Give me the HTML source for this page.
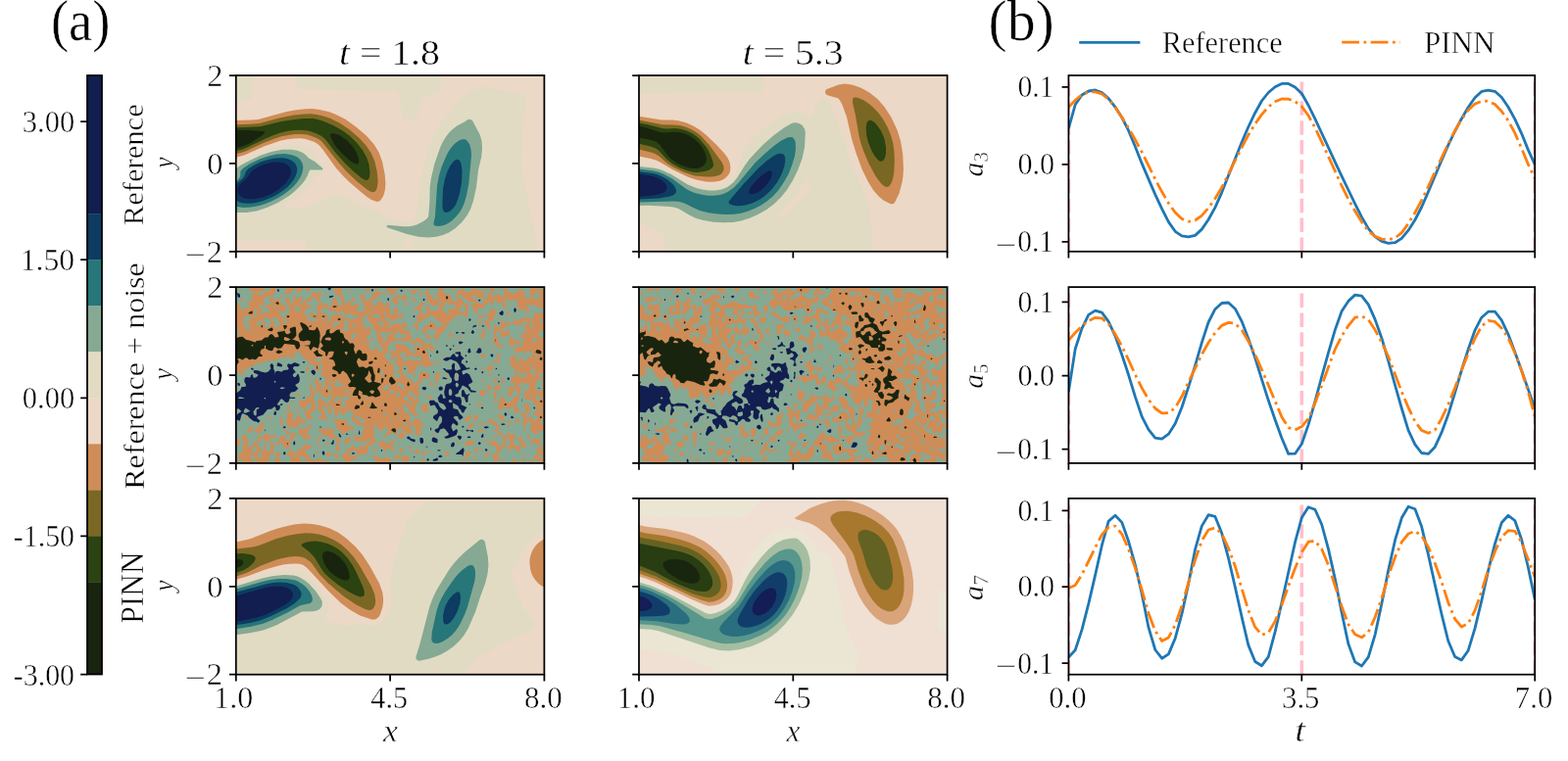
<!DOCTYPE html>
<html><head><meta charset="utf-8"><title>figure</title><style>html,body{margin:0;padding:0;background:#fff;}body{width:1600px;height:777px;overflow:hidden;}</style></head><body>
<svg width="1600" height="777" viewBox="0 0 1600 777" style="display:block;font-family:'Liberation Serif',serif">
<style>text{stroke:#fff;stroke-width:0.45px;paint-order:normal}</style>
<rect width="1600" height="777" fill="#fff"/>
<clipPath id="c00"><rect x="240.8" y="77" width="314.6" height="179.8"/></clipPath>
<g clip-path="url(#c00)">
<rect x="240.8" y="77" width="314.6" height="179.8" fill="#19240f"/>
<path fill="#2b4211" fill-rule="evenodd" d="M240.8 256.8L555.4 256.8L555.4 77L240.8 77L240.8 132.9L251.3 132.8L262.5 133.4L268.5 134L270.2 134.7L270.2 135.4L267.1 138.4L255.5 145.9L247.5 149.6L240.8 151.3ZM362.1 167.1L358.4 164.9L353.9 161.3L344.7 151.9L341.9 148.2L338.9 142.9L337.3 139.2L337.1 137.7L337.4 136.9L338.9 136.2L341.2 136.3L347.2 138.6L353.5 142.9L359.1 148.8L363.7 155.7L365 158.7L366.1 162.4L366.2 165.4L365.6 166.9L364.4 167.6Z"/>
<path fill="#7a6723" fill-rule="evenodd" d="M240.8 256.8L555.4 256.8L555.4 77L240.8 77L240.8 130.2L265.5 129.3L287.2 124.1L298.5 122.2L310.5 120.9L319.5 121.1L324.1 122L329.2 123.4L339.9 127.9L349.4 133.2L356.5 138.4L363.5 145.2L369.6 152.7L373.9 160.2L376.4 167.6L377.5 175.9L377.1 180.4L376.4 182.4L375.5 183.4L374.1 183.9L372.6 183.7L368.9 181.8L360.7 175.1L351.7 166.3L341.6 154.9L333.7 144.3L330.7 140.9L327.7 138.8L323.2 136.4L317.2 134.3L312.7 133.3L306.7 132.7L300 132.9L294 133.7L286.5 135.5L279 138.1L270 141.9L250.5 151.3L246 152.9L240.8 154Z"/>
<path fill="#cf8c57" fill-rule="evenodd" d="M240.8 256.8L555.4 256.8L555.4 77L240.8 77L240.8 127.2L258 126.6L264.8 125.9L282 121.2L291 119.2L300 117.5L310.5 116.4L317.2 116.3L323.2 117L329.9 118.5L336.7 120.8L346.4 125.5L356.2 131.9L366.4 140.7L373.9 148.9L378.8 156.4L382.3 164.7L384.6 174.4L385.7 184.9L384.8 191.6L383.9 194L382.8 195.4L381.6 196L380.1 196.2L377.9 195.5L374.9 193.8L363.9 184.9L353 174.4L344.9 165.2L328.4 144.5L325.4 142.3L322.4 140.7L318 138.9L313.5 137.6L308.2 137L300.7 137.1L294 137.9L287.2 139.3L279.8 141.7L269.3 145.8L250.5 154.4L246 155.9L240.8 157Z"/>
<path fill="#ecd8c7" fill-rule="evenodd" d="M240.8 256.8L555.4 256.8L555.4 149.8L554.9 144.4L555.4 139L555.4 77L240.8 77L240.8 123L256.5 122.5L263.3 121.9L292.5 114L300.7 112.4L311.2 111.2L318.7 111.1L326.2 112L335.2 114L341.9 116.4L352.4 121.8L362.9 129.2L374.1 138.8L381.7 147.4L386.7 155.7L390 164.7L392.6 177.4L393.4 187.1L393.1 192.4L392.1 197.6L390.9 200.6L388.3 204.4L386.9 205.5L384.6 206L378.6 203.7L374.1 200.7L368.9 196.5L356.9 186.3L350 179.6L342.9 171.4L329.2 152.5L325.4 148.1L322.6 145.9L319.7 144.4L312 141.9L306.7 141.3L299.2 141.4L292.7 142.2L285.8 143.7L270.5 148.9L249.8 158.2L240.8 160.7Z"/>
<path fill="#e2dbc3" fill-rule="evenodd" d="M312.4 256.8L415.3 256.8L412.9 247.8L413 245.6L413.8 245.2L417.6 246.2L419.1 247.8L419.8 250.8L419.5 256.8L549.5 256.8L549 253.1L538.2 201L532.6 169.9L532.5 157.9L533.1 150.4L533.2 136.2L536.8 101.7L536.5 99.5L535.9 98.3L534.4 97L531.4 95.9L496.2 88.5L492.5 88.1L490.2 88.4L487.2 89.8L470 99.8L466.3 102.7L456.5 117.3L445.7 131.7L442.7 136.9L440.2 142.2L437.5 150.4L428.5 185.6L424.5 219.3L423.6 221.9L422.1 224L419.9 225.3L417.6 226L410.1 226.6L405.6 226L359.9 204.8L347.9 199.4L344.9 198.5L342.7 198.6L340.4 199.3L309.1 212.6L306 212.9L298.5 212.8L294 212.5L291 211.8L290.3 211.1L291.3 209.6L303.7 201L313.3 192.4L319 185.6L323.4 178.1L329.9 176.4L331.9 174.4L332.3 172.9L331.8 170.6L323.4 160.9L319.5 155L316.5 152.5L311.2 149.9L304.5 148.5L297 148.1L290.2 148.6L282 150.2L268.5 154.5L240.8 167.3L240.8 244.4L255 244.4L263.3 245.1L282 245.2L289.5 245.9L309 246L311.2 246.9L312.1 248.6ZM413.7 122L421.3 122.2L423.6 121.8L424.7 121.2L425.8 119.9L426.5 118.2L429.4 104L430.6 101L433.3 99.3L445.3 96.1L447.5 94.5L448.5 92.7L449.2 89.7L450.8 77L301.9 77L303 88.2L304.5 90.5L306.7 91.3L334.4 91.6L342.7 92.3L368.9 92.4L376.4 93L401.8 93.1L404.8 93.6L406.3 95L407 97.2L410.6 119L411.6 120.7ZM240.8 103.2L240.8 103.5L244.5 103.5L253.5 102.6L255 102.2L256.5 101L257.5 98L258.9 77L240.8 77Z"/>
<path fill="#86a994" fill-rule="evenodd" d="M427.1 241.8L436.3 242.4L445.3 241.7L452 240.1L458 237.5L464.8 233.1L471.4 226.8L476.6 220.1L480.2 213.3L483 205.1L486 191.6L488.1 173.6L491.2 160.2L492.1 151.2L491.5 143.7L489.8 137.7L482.3 123.4L480.5 122L479 121.7L477.5 122L473.8 124.5L466.3 128.6L461.2 132.4L457.6 136.2L454.8 139.9L451.6 145.2L449.5 149.7L443.3 167.6L439.8 182.6L438.7 191.6L438.4 205.1L437.5 217.8L437.1 220.8L436.5 222.3L434.1 224.6L430.6 226.8L425.1 229.4L420.6 230.8L416.8 231.3L411.6 231.3L395.9 229.8L394.6 230.6L394.8 232.1L396.5 232.8L415.3 239.1ZM242.1 217.1L252 217L262.5 215.2L272.3 212L283.5 207L295 199.9L300 196L304.7 191.6L308.1 187.9L311.5 183.4L314 178.9L315.7 174.4L316.5 173.6L328.4 173.4L329.3 172.9L329.2 171.8L320.9 164.7L315 161.5L312 158.2L309 156L303.7 153.8L297.6 152.7L288 152.7L276.6 154.9L265.7 158.7L253.1 164.7L245.1 169.1L240.8 172.2L240.8 217Z"/>
<path fill="#277679" fill-rule="evenodd" d="M443.8 230.6L447.5 231.1L452 230.3L456.5 228.4L461 225.4L465.1 221.6L468.8 217.1L471.5 212.6L473.8 207.3L475.9 199.9L478.3 187.9L481 158.7L480.6 152.7L479.2 147.4L476.8 143.7L474.5 142.2L471.5 142.2L468.5 143.4L464.8 146L461.8 149L458.8 153L455.9 157.9L450.8 169.9L447.9 179.6L446 190.1L444 220.8L442.4 228.3L442.7 229.8ZM248 211.9L253.5 211.8L259.5 211.1L265.5 209.7L271.5 207.8L277.5 205.3L283.5 202.3L289.5 198.6L294.8 194.6L298.9 190.9L302.9 186.4L306 181.9L308.1 177.4L309.1 173.6L309.3 169.9L308.3 166.2L306.5 163.2L304.5 161.3L302.2 159.8L297 157.9L290.2 157.1L282 157.6L273.8 159.4L264.8 162.6L255 167.3L247.8 172.1L245.4 175.1L245.2 179.6L244.7 181.1L242.9 183.4L240.8 185L240.8 210.7Z"/>
<path fill="#0d3b61" fill-rule="evenodd" d="M453.3 216.3L455 216.9L457.3 216.5L459.5 215.2L461.8 213.2L464 210.4L465.7 207.4L468.6 199.1L471.1 186.4L471.5 175.1L471 169.9L470.2 166.2L468.9 163.9L467 162.8L465.5 163L463.3 164.3L459.5 169L456.5 174.9L453.8 183.4L452 193.1L451.4 209.6L451.9 214.1ZM248.5 207.4L252.8 207.7L258 207.4L263.3 206.5L268.5 205.1L279 200.8L284.2 197.8L288.9 194.6L293.4 190.9L296.9 187.1L299.7 183.4L301.7 179.6L302.9 175.9L303.2 172.9L302.7 169.9L301.2 166.9L297.8 163.9L293.2 162.1L288 161.3L281.2 161.5L274.5 162.7L267 165.1L259.5 168.6L253.8 172.1L251.1 175.1L249.3 179.6L247.8 181.9L240.8 187.9L240.8 204.6L244.5 206.4Z"/>
<path fill="#111e4f" fill-rule="evenodd" d="M251.2 202.9L255 203.3L258.8 203.3L267.8 201.6L276.8 198L284.8 193.1L291.4 187.1L295.5 181.1L296.6 178.1L297 175.1L296.6 172.9L295.5 170.4L293.2 168.2L289.5 166.4L285 165.6L280.5 165.6L275.3 166.3L269.3 168L264 170.2L259.3 172.9L256.5 175.3L251.7 181.9L244.6 188.6L243 190.9L242.4 192.4L242.5 196.1L244.2 199.1L247 201.4Z"/>
</g>
<clipPath id="c01"><rect x="652" y="77" width="314.6" height="179.8"/></clipPath>
<g clip-path="url(#c01)">
<rect x="652" y="77" width="314.6" height="179.8" fill="#19240f"/>
<path fill="#2b4211" fill-rule="evenodd" d="M652 256.8L966.6 256.8L966.6 77L652 77L652 128.6L658.8 130.2L673.7 135L678.2 135.4L687.2 134.8L691.7 134.9L696.9 135.8L702.2 137.8L709.1 142.2L715 148.2L717.5 151.9L719.4 155.7L720.6 159.4L720.9 162.4L720.5 165.4L719.3 167.6L716.9 169.9L714.2 171.2L711.2 171.9L707.4 172L703.7 171.5L699.2 170.3L691.3 166.9L685 162.4L680.7 157.9L673.7 148.3L670 144.9L664.7 142.9L652 140.4Z"/>
<path fill="#7a6723" fill-rule="evenodd" d="M652 256.8L966.6 256.8L966.6 77L652 77L652 125.4L660.2 127L676 131.1L679.7 131.4L688.7 131.1L694.7 131.8L700.7 133.5L705.9 136.1L710.4 139.1L714.1 142.2L720.4 149.7L722.8 153.4L724.9 157.9L727.4 164.7L728.1 168.4L727.4 170.6L726 172.1L723.2 173.7L718.7 175.1L711.2 176L706.7 175.4L702.2 174.4L693.9 171.4L685.8 166.9L680.3 162.4L672.2 153.7L669.2 151.5L664 149.6L652 146.8ZM899.2 164.7L897.7 164.4L896.2 163.4L892.4 159.1L888.7 152.3L885.7 144.4L884.2 137.7L883.7 130.2L884.4 125.7L885.2 124.2L886.5 123L888 122.8L890.2 123.5L892.4 125.1L894.7 127.4L899.2 133.9L902.4 141.4L904 149.7L903.9 157.2L903.2 160.2L902.2 162.7L900.7 164.3Z"/>
<path fill="#cf8c57" fill-rule="evenodd" d="M652 256.8L966.6 256.8L966.6 77L652 77L652 122.4L676 127.3L688 127.4L693.9 128.1L700.7 130L707.4 133.2L711.9 136.1L715.7 139.2L723.3 147.4L736.5 165.4L738.2 169.1L738.6 172.1L737.9 175.1L736.1 177.4L733.6 178.9L730.6 179.8L726.9 180.4L720.9 180.5L708.9 179.4L697.7 175.8L687.2 170.8L681.1 166.9L672.2 159.3L668.5 157L664 155.4L652 152.6ZM904.4 190.9L902.2 190L899.2 187.5L893.9 180.6L886.8 167.6L881.2 154.2L878.4 145.9L876.7 139.2L872.8 116.7L870 104.7L870 101L871.5 99.6L873.7 99.5L876 100L881.2 102.2L887.2 106.2L892.4 110.9L897 116L901.7 122.7L905.8 130.2L908.9 137.7L911.2 145.9L912.4 154.2L912.8 163.2L912.4 174.4L911.4 181.1L909.7 186.6L907.4 189.9L905.9 190.8Z"/>
<path fill="#ecd8c7" fill-rule="evenodd" d="M652 256.8L966.6 256.8L966.6 77L652 77L652 118.7L675.2 122.5L686.5 122.6L692.4 123.2L700.7 125.5L708.2 128.9L714.2 132.7L720.2 137.6L730.7 147.4L738.9 156.2L741.9 160.2L743.9 163.9L745 167.6L745.4 171.4L745 175.1L743.7 178.1L741.1 181.1L738.1 183.3L734.4 184.7L729.9 185.5L725.4 185.7L720.2 185.4L710.4 183.6L702.2 180.7L686.5 173.2L673 165.2L669.2 163.4L664 162L652 159.6ZM908.9 208.3L901.4 204.4L896.7 200.6L891 193.9L885.8 185.6L879.7 172.9L873.7 156.8L869.4 142.9L864 119.6L859.5 107L857.1 102.5L855.1 100.2L845.3 97.5L843 96.4L842.1 95L842 93.5L842.7 92L843.8 91.1L855.7 86.5L861.7 85.5L869.2 86.5L878.2 89.5L887.2 94.4L895.4 101L902.6 109.2L909.4 119.7L915.4 132.4L919 143.7L921.2 157.2L921.9 172.9L921.5 179.6L920.7 185.6L917.5 197.6L912.7 207.2L911.2 208.3Z"/>
<path fill="#e2dbc3" fill-rule="evenodd" d="M678.2 256.8L890.6 256.8L888.6 226.1L887.5 215.6L885.4 205.1L871.2 173.6L866.8 160.9L855.2 124.2L849.3 109.2L846.8 104.7L844.2 102.5L840.8 100.2L839.3 99.6L837.8 99.7L835.2 101.7L831.1 107.7L830.1 110.7L829.2 117.5L828 119.7L826.5 119.4L821.3 116.1L816.8 114.4L812.3 113.8L807.1 114.2L801.1 116.4L789.1 123.7L781.6 128.9L771.1 138.2L765.9 143.8L761.7 148.9L758.9 153.4L757.1 157.2L752.3 172.9L749.4 179.6L747.1 182.7L744.1 185.6L740.9 187.9L737.4 189.4L731.4 190.7L725.4 191L719.4 190.5L711.2 188.7L703.2 185.6L684.2 175.4L673.7 170.5L666.2 168.6L652 167L652 227.2L655.7 228.4L674.8 238.1L676.9 239.6L677.7 241.1L678.1 243.3ZM795.1 220.2L794.5 219.3L795 218.6L804.2 209.6L811 201.4L816.6 193.1L822.8 182.4L824.3 181L825 182.6L825.8 190.1L825.5 192.4L824.3 194.8L804.8 217.9L803.3 218.9L801.1 219.7L798.1 220.2ZM652 95.7L682.7 95.8L692.4 95L728.4 95L738.1 94.3L774.8 94.2L776.3 93.8L777.8 92.9L779.1 90.5L779.4 77L652 77Z"/>
<path fill="#86a994" fill-rule="evenodd" d="M728.5 226.8L738.1 227.3L747.9 226.9L756.1 225.5L764.4 223L773.3 219.1L782.3 213.9L789.8 208.3L796.3 202.1L802.9 193.9L809.1 184.1L814.2 173.6L818.6 161.7L821 150.4L821.8 135.4L821.1 131.7L818.6 127.9L816.6 126.4L813.8 125.4L810.8 125.2L808.2 125.7L800.3 130.3L789.1 138.4L777.8 148.5L765.1 162L760.6 168L752.5 181.1L748.6 185.9L742.6 190.8L739.6 192.3L735.9 193.5L729.9 194.4L723.9 194.5L717.9 193.8L711.2 192.2L706.7 190.6L701.4 188.2L684.8 178.1L676 174L671.5 172.6L666.2 171.5L652 169.9L652 210.1L661.7 209.8L675.1 210.4L683.5 210.9L688.7 211.7L692.8 213.3L703.7 219.7L710.4 222.9L717.9 225.1Z"/>
<path fill="#277679" fill-rule="evenodd" d="M732.4 218.6L741.1 219.1L748.6 218.8L756.1 217.7L762.9 215.8L770.3 212.8L777.1 209.2L783.2 205.1L789.1 199.9L794.5 193.9L800.2 185.6L804.7 177.4L808 169.1L810.7 160.2L811.9 152.7L811.8 145.9L811.2 143.7L810 141.4L808.6 140.3L807.1 139.9L803.3 140.6L797.3 143.6L790.6 148.2L780.8 156.4L770.3 166.6L753.7 186.4L748.6 191.7L742.6 196.1L738.1 197.9L734.4 198.9L728.4 199.7L722.4 199.7L716.4 198.8L708.9 197L705.2 195.6L700.7 193.2L685.2 181.9L676.8 177.4L672.2 175.7L667 174.5L652 172.6L652 206.6L686.5 205.6L692.4 205.8L698.4 207.6L710.1 213.3L714.9 215.2L723.2 217.2Z"/>
<path fill="#0d3b61" fill-rule="evenodd" d="M747.6 209.6L752.4 210.2L756.9 210.1L761.4 209.3L766.6 207.7L771.1 205.8L776.3 202.9L780.8 199.7L784.9 196.1L789 191.6L792.8 186.4L796 181.1L798.6 175.1L800.3 169.9L801.2 164.7L801.1 160.9L800.3 158.7L799.6 157.8L798.1 157L795.8 156.8L792.8 157.6L789.8 159L782.3 164.2L773.3 172.2L759.5 187.1L744.1 205.1L743.5 206.6L744.1 208.1ZM652 203.6L672.2 202.5L682.7 200.8L686.5 199.5L688.7 198.1L690 196.1L690 193.9L688.2 190.1L684.9 186.4L681.2 183.4L676.1 180.4L671.5 178.5L666.2 177.1L652 175.2Z"/>
<path fill="#111e4f" fill-rule="evenodd" d="M652 200.6L652 201L667.7 199.3L675.2 197.6L678.1 196.1L680.1 193.9L680.6 191.6L680 189.4L678.6 187.1L676.3 184.9L673 182.7L670 181.3L662.5 179.2L652 177.8ZM764.8 197.6L767.4 198.2L771.8 196.9L776.3 194.3L780.1 191.1L783.8 186.7L786.6 181.9L787.9 177.4L787.2 175.1L786.1 174.5L784.6 174.6L781.6 175.9L777.8 178.6L774.1 182L768.2 188.6L765.1 192.8L764.1 196.1Z"/>
</g>
<clipPath id="c10"><rect x="240.8" y="293.1" width="314.6" height="179.8"/></clipPath>
<g clip-path="url(#c10)">
<rect x="240.8" y="293.1" width="314.6" height="179.8" fill="#19240f"/>
<path fill="#cf8c57" fill-rule="evenodd" d="M240.8 472.9L270.6 472.9L270.8 472.5L270.8 472.9L555.4 472.9L555.4 293.1L314.3 293.1L313.5 293.6L313.2 293.1L240.8 293.1L240.8 345.3L244.5 344.1L247.5 343.8L251.2 347L254.3 347.5L260.3 349.5L261.8 348L267 347.5L270 344.8L273.8 344.3L274.5 342.5L276.8 341L278.4 341.8L280.5 344.6L283.5 344.2L284.5 343.3L282.8 339.5L284.2 338.8L288.7 338.3L290.2 337.4L291.7 340.7L294 341.2L296.7 339.5L295.5 336.6L296.1 335.1L300.7 333.5L301.5 333.9L302 335.1L302.4 342.5L300.1 345.5L298 346.3L305.2 349L306.3 353L305.2 355.4L303.7 356.8L302 356L301.1 353L300 351.9L290.2 351L287.2 355.2L283.5 355.9L280.5 354.3L279.3 355.3L278.3 357.8L276.8 358.3L274.5 357.8L271.1 356L271.2 353L270.8 352.7L269.9 353L269.9 355.3L269.3 356L267 356.4L265.8 358.3L265.4 359.8L265.8 361.3L267.8 362.8L267.8 363.5L267 364.1L264 364.1L261 367.3L257.3 366.4L254.3 367.4L252.5 365.8L250.5 365.3L247.5 367.4L244.5 366L241.9 366.5L243 367.6L243.8 369.5L240.8 374.1ZM282.7 360.6L281.3 359.8L283.5 357.4L284.2 357.2L287.2 358.2L288.6 359.8L284.2 361.2ZM293.2 453.7L292.5 452.7L294 452.4L294 453.6ZM317.2 357.8L316 356.8L315 353.6L309.9 353L316 352.3L316.8 350L316.5 347.9L313.5 347.6L309.7 348.6L306.1 347.8L304.6 343.3L304.7 341.8L305.2 340.2L308.9 336.6L306.5 331.3L306.3 329.8L306.7 329.2L307.5 329.1L312 331.5L314.6 334.3L315.1 336.6L316.5 337.1L320.4 337.3L321.8 336.6L323.2 333.9L323.9 334.1L326.2 339.1L326.7 342.5L326.2 346.3L326.6 349.3L325.7 351.5L325.1 355.3L323.9 355.7L320.9 354.2L319.5 354.2ZM323.2 376.6L323.2 373.2L323.9 373.6L324.2 376.3L323.9 376.7ZM333.7 401L332.6 399.5L333.7 397.6L334.2 399.5ZM339.7 384.6L338.6 383L339.7 381.9L341.9 381.9L343.8 383L341.9 384.7L340.4 385ZM348.7 433.4L348.7 432.4L350.2 431.9L351.1 433.2L350.2 433.9ZM362.9 418L361.6 416.7L362.9 414.2L363.6 413.6L366.6 413.9L367 416L366.6 416.8ZM367.4 413.3L369.6 409.5L370.4 409.5L370.8 410L370.8 413L369.6 413.6ZM375.6 426.7L375 426.5L376.4 425.6L379.4 426.5ZM389.1 419.8L389.9 418L390.4 419.7L389.9 420.2ZM392.9 415.1L391.9 413L392.7 411.5L393.6 411.3L395.1 413L394.4 414.7ZM402.6 441.6L399.6 439.8L399.3 439.2L400 437.7L402.6 437.3L403.5 437.7L404.1 439.9L403.3 441.7ZM412.3 430.3L410.9 429.4L411.6 428.9L413.1 428.5L414.3 429.4L413.4 430.2ZM416.1 394.4L415.2 392.7L416.1 389.9L416.8 390.1L418.3 392.7L416.9 394.2ZM425.8 357L425.6 356L426.6 355.6L427.8 356L428 356.8L426.6 357.3ZM432.6 383.8L431.4 383L432.6 382.2L434.8 383ZM455.8 305.8L454.8 303.6L455.8 302.2L457.1 302.8L457.3 303.6L456.5 305.4ZM506 349.8L505.5 347L506 346.1ZM515.7 413.9L514.3 413L515.1 412.2L515.7 411.9L517.4 413ZM551.7 427.2L550.8 426.5L551 425.7L551.7 424.8L552.4 424.8L553.1 426.5ZM254.3 320.4L253.6 320.1L253.5 319.2L257.3 317.2L257.8 319.3L257.3 320.5ZM267 334.5L266.3 332.8L267 331.9L268.3 332.8L267.8 334.2ZM275.3 338.1L273.8 337.6L272.9 336.6L277.5 334.3L278.8 336.6L277.5 338.2ZM283.5 311.1L281.1 309.6L283.5 307.8L284.5 309.6L284.2 310.9ZM290.2 336.2L289 332.8L289.8 332.1L291 331.9L293 332.8L293 333.6L291 336.2ZM293.2 324.1L292.4 323.1L294 321.9L295.6 323.1L294 324.5ZM315.7 333.8L315.1 333.6L316.5 332.4L317.2 332.2L318.1 332.8L317.2 333.8ZM320.2 323.6L319.5 323.1L320.2 322.5L323.8 323.1ZM323.2 363.9L319.8 359.8L323.9 357L325.4 361L329.6 362.8L328.4 363.8ZM343.4 413.9L342.5 413L343.4 412.5L346.7 413L346.4 414ZM366.6 407.8L365.2 406.2L365.1 404.6L364.4 404L359.9 404.1L359.9 402.1L361.4 398.7L363.3 396.5L363.2 395.7L360.6 394.9L356.9 395.3L355.6 394.2L355.1 392.7L358 389.7L358 389L353.9 381.5L350.2 378.5L348.8 379.3L347.2 381.9L345.7 382L344.3 379.3L339.5 377L339.1 376.3L339.7 374.6L342.4 373.3L341.2 368.9L339.8 367.3L335.7 366.5L336.1 365.8L338.2 364.9L339.5 363.5L340.8 359.8L340.4 358.7L336.7 358.8L335.2 359.5L333.7 363.5L332.9 363.5L332 362.8L332.1 359.8L326.8 356L329.9 353L327.2 349.3L329.2 344.2L332.2 341.3L332.9 337.7L333.7 336.7L335.9 336.3L336.7 335.6L336.1 339.5L337.4 340.5L339.7 340.1L343.4 337L346.4 336.3L347.2 339.6L350.2 340.8L351.4 344.8L352.4 346.1L354.7 347.5L356.9 350.7L359.9 350.3L361 351.5L361.8 353L360.9 356.8L362.9 361.4L363.6 360.9L364.7 358.3L366.6 357L368.7 358.3L369.6 360.7L370.4 361.2L373.4 360.8L374.6 362.8L374.4 367.3L373.4 368L370.4 368.5L368.1 367.4L366.6 365.6L365.1 366.3L363.9 369.5L365.4 373.3L366.6 374.9L370.4 374.2L373.4 375.9L375.6 375L376.4 373.9L380.1 374.6L381.7 381.5L382.7 383L382.6 387.5L381.7 389.7L388.4 391.4L388.7 392L388.7 392.7L385.9 395L385 396.5L387.5 400.2L388.2 403.2L387.6 404.3L383.1 405.7L380.1 404.3L376.4 405L374.1 403.5L370.4 403L369.7 402.5L369.8 400.2L366.6 398.6L366 399.5L365.5 403.2L367.4 404L368.3 406.2L368 407ZM377.9 417.1L377.3 416.7L377.4 416L378.4 414.5L379.4 411.1L380.1 410.4L383.1 414.9L385.2 416L384.4 416.7L381.6 417.3ZM389.1 391.3L389.1 386.7L389.8 386L390.6 386.1L391.6 386.7L390.8 389.7L389.9 391.3ZM399.6 392.7L397.1 389.7L397 389L397.5 386L399.6 384.5L403.9 389.7L402.6 391.8ZM402.6 423.7L402.1 422.7L402.6 421.1L403.3 420.8L404.1 422L405.5 422.7L403.3 424ZM431.8 360.7L430.9 359.8L431 359L432.6 357.5L434 359.8L433.3 360.9ZM439.3 333.6L438.6 332.8L439.3 332.2L441.5 332.8ZM551.7 410.8L551 410L551.2 409.2L552.4 408.6L553.6 410L552.4 411ZM329.9 323.9L328.3 323.1L329.2 322.5L330.7 322.4L332.1 323.1ZM339.7 313.6L340.4 312.2L343.5 312.6L343.4 313.5L340.4 314ZM345.7 327L344.3 326.1L346.4 324.8L347.2 325.2L347.4 326.8ZM377.1 372L376.4 371.4L376.3 369.5L380.1 368.5L380.6 369.5L380.1 371ZM382.4 367L381.8 366.5L381.9 365.8L383.1 364.4L385.1 366.5L383.1 367.2ZM386.1 381.1L385 380L385 379.3L385.8 376.3L386.9 375.6L387.4 376.3L387.6 379.3L387 380.8ZM392.9 385.3L392.5 383L393.6 382.2L394.5 383L393.6 385.1ZM552.4 368.1L551.7 368L550.5 366.5L551.7 364.5L552.4 364.5L553.6 366.5ZM392.9 374.2L392.8 372.5L393.6 372.5L394.2 373.3ZM551.7 361.4L548.7 361L546.4 359.8L547.2 357.6L548.7 356.9L551.7 358L552.6 359.8ZM378.9 401.7L380.1 402.2L380.9 401.7L382.2 399.5L380.1 398.2L377.9 398.9L377.2 399.5L377.5 400.2ZM375.8 390.5L377.1 390.7L379.6 389.7L378.4 386.7L378.9 383L376.4 377.9L375.2 383L372.3 386L372.2 386.7ZM359.2 384.5L359.9 385.1L361.8 383L359.9 381.2L358.6 383ZM352.9 362L353.2 362.5L353.9 362.2L354.9 359.8L353.2 358.7L351.4 359.8ZM256.3 353L257.3 353.5L258.8 353L257.3 351.7ZM350 350.8L351.1 349.3L350.2 347.7L349 349.3L349 350ZM290.7 347.8L294 347.9L296.5 346.3L291 344.1L290.2 344.3L289.6 346.3ZM332.1 347L336.7 347.7L338.2 346.3L336.7 344.6L332.9 344.7L331.4 345.9Z"/>
<path fill="#86a994" fill-rule="evenodd" d="M241.2 472.9L249.4 472.9L248.3 470.6L244.5 469.1L243.8 469.2ZM259.4 472.2L259.6 472.9L262.6 472.9L261.7 469.9L259.2 468.4L258.8 465.6L257.5 462.4L258 461.4L261.8 460.8L262.1 456.4L261 455.4L259.4 455.7L257.6 458.7L255.8 466.2L256.5 469.2L257.3 470.2L258.8 470.8ZM265 472.9L268 472.9L267 471.1ZM272.6 472.9L276.6 472.9L277.5 472.2L278.5 472.9L282.5 472.9L280 470.7L279.7 469.2L280.5 467.6L283.5 466.3L285 467.3L286.1 470.7L287.2 471.8L289.4 472.9L295.8 472.9L296.8 469.2L295.9 466.9L293 465.4L292.9 462.4L293.6 460.9L297 458.8L298.3 459.4L298.7 461.7L302.2 462.1L303.7 463.2L304.1 458.7L307.5 457.9L309.7 454.8L313.5 453L318.2 456.4L313.5 459.3L310.5 458.8L309.6 459.4L312 460.5L312.7 463.2L315 465L316.2 467.7L318 469.9L320.2 470.8L323.9 468.7L326.2 468.6L326.9 465.5L327.4 466.9L326.5 469.2L326.9 470.6L329.9 469.6L333.7 470.7L336 472.9L344.1 472.9L347.2 469.6L348 472.9L367.3 472.9L369.6 471.8L371.3 472.9L381.9 472.9L382.9 470.7L384 469.9L380 466.2L380.9 465.1L383.1 464.9L385.4 465.8L386.1 467.7L386.9 468.2L391.4 468.1L392.9 466.1L394.4 467.3L400.8 469.2L401 469.9L396.6 471.6L395.6 472.9L402 472.9L402.6 471.1L403.3 471.4L403.7 472.9L421.3 472.9L422.8 471.6L424.5 472.9L431 472.9L430.4 470.7L429.4 469.9L429.6 469.3L432.6 469.1L435 472.9L454.8 472.9L455.8 472L457.1 472.9L468.9 472.9L469.3 472.4L469.5 472.9L491.3 472.9L492.5 471.2L494.1 472.9L503.3 472.9L504.8 469.9L502.2 466.2L505.6 462.4L507 456.4L506 455.3L502.2 455.6L500.8 454.9L499.5 453.4L499.4 451.2L506 450.3L507.1 451.2L508.2 454.3L512 454.6L513.1 454.2L513.4 453.4L513.7 450.4L515.7 449.8L516.9 451.9L516.6 454.9L515 455.3L512 457.9L510 461.7L506.5 462.4L506.6 463.2L510.2 466.2L510.2 466.9L509.7 468.3L506.9 469.9L506.7 472.9L511.1 472.9L511.1 469.2L512 468.9L513.2 469.9L514 472.9L520.8 472.9L521.6 471.4L523.2 470.6L525.4 467.8L526.6 468.4L527.7 470.9L530.7 471.9L531 472.9L540.9 472.9L540.5 469.9L541.9 468.9L542.7 469.2L546.3 472.9L555.4 472.9L555.4 472.3L553.9 471.6L548 470.7L546.4 468.7L544.4 467.7L543.9 466.2L544.9 465.1L547.9 464.3L549.6 463.2L546.8 460.2L547.2 458.1L551.7 457.6L553.2 454.6L555.4 452.6L555.4 438.7L551.7 440.6L548.7 439.5L549.6 442.9L548.7 443.6L544.2 441.9L542.1 439.9L540.6 436.2L542.7 434.1L542.7 432L541.9 431.2L538.9 430.3L537.4 432.1L536.3 435.4L535.2 436L534.4 435.7L533.2 433.2L534.4 425.7L533.7 424.6L531.4 423.6L530.8 422.7L531.5 422L536.7 420.7L536.6 418.2L534.1 416L535.9 412.6L538.9 411.2L540.2 413L539.5 416.7L541.8 419.7L540.4 421.2L538.2 422L537.5 422.7L538.1 426.5L538.9 428L540.4 425.7L541.9 424.9L542.7 425.3L543.5 428L544.9 429.4L545.7 429.4L549 426.5L548.7 424.7L544.2 423.6L543.8 422.7L546.4 420.8L547.2 419.3L547.6 416L546.9 413.7L545.6 413L542.9 408.5L537.4 408L535.9 407.4L535 406.2L535.6 403.2L534.6 399.5L538.2 398.4L540.1 396.5L539.7 391.1L538.9 390.5L537.6 392L535.9 392.4L532.2 390.8L531.4 391.1L529.4 392.7L529.2 394.8L527.9 395.7L528.4 396.5L529.9 395.5L532.2 395.3L533.3 396.5L531.4 398.3L530.6 401.7L529.3 403.2L530.1 406.2L529.6 407.7L527.7 411.5L525.8 413L527.5 416L529.3 417.5L529.9 419.7L529.2 420.8L526.2 422.1L525.2 422L524.2 420.5L524.6 416L523.2 415L520.9 415.6L518.7 418.9L517.2 416.7L515.7 415.8L512.7 417.6L509 418.5L507.4 416L509.9 413L509.3 410.7L509 410.2L504.6 410L504.3 409.2L505.4 406.2L502.5 402.5L503 400.6L506 400.4L507.4 402.5L506.1 406.2L506.8 408.5L509 409.8L510.3 408.5L511.2 405.5L512.7 404.6L514.8 406.2L515 409.2L518.7 411.5L520.3 410.7L521.7 408.5L524.7 405.5L529 403.2L527.4 401L526.8 397.2L525.4 396.8L524.2 398L522.4 403.7L519.4 404.4L518 404L517.3 403.2L517.5 402.5L519.7 399.5L517.9 397.7L517.5 396.5L517.9 395.7L518.7 395.2L523.2 395.2L525 394.2L525.3 392.7L524.7 391.5L522.4 391L520.8 389.7L522.4 385.6L525 383.7L527.2 383L527.7 381.9L529.2 382.1L529.6 383.7L530.6 384.5L535.2 385.3L537.4 384.7L538.1 383L535.9 381L530.7 381L529.2 378.4L528.4 378.3L527.4 379.3L526.9 381.5L525.4 381.5L524.8 380L524.8 376.3L521.6 374L520.4 370.3L518.7 369.5L520.6 368.8L521.4 364.3L524.8 362.8L525.4 360.8L525.6 362.8L527.6 366.5L526.6 368.8L523.6 369.5L525.4 369.8L529.4 369.5L529.9 366.5L532.2 364.7L534 368L535.9 368.9L537.4 368.2L538.9 364.3L544.1 363.5L541.9 359.2L538.9 357.8L538 358.3L536.7 360.4L535.2 360.8L532.2 359L529.2 360L526.9 360L524.7 359.3L524.4 358.3L524.7 355.9L529.2 353.9L532.2 354.2L533.3 353L533 350L534.8 346.3L533.7 345.2L529.3 343.3L529.9 342.4L534.4 340.6L535.9 338.8L536.3 335.8L534 332.8L535.9 332.4L537.2 331.3L538.2 329.8L537.4 328.7L535.9 327.9L534.2 328.3L533.4 329.1L532.8 332.1L532.2 332.4L526.9 331.7L525.4 330.8L522.4 330.3L518.1 331.3L517.2 333.8L513.5 335.3L512.7 336.6L513.5 337.8L515.7 338.5L517.7 338.1L518.7 336L519.4 336.1L520.1 340.3L519.5 342.5L518.6 343.3L512 344.5L510.1 343.3L511.4 339.5L510.7 338.1L509 337.5L506.9 338.8L506.3 342.5L507.3 344L509 350L512.3 353L512.7 356L512 356.2L511.2 354.9L508.2 354.3L504.7 351.5L503 346.3L503.7 344.2L505 342.5L502.9 339.5L504 337.3L505.2 330.7L506 330.5L508 334.3L509 335.1L510.5 334.3L511.7 329.1L511.2 326.9L509 326.7L508.6 326.1L509 325.7L510.9 326.1L515.7 329.7L518.7 327.7L521.7 329.2L523.2 329.3L523.9 328.8L524.6 326.1L525.4 325.3L528.4 327.9L529.9 327.4L532.2 324.5L535.9 324.8L538.9 323.7L541.9 326L542.7 325.9L545.2 323.1L544.1 320.1L545.7 318.5L548.7 320.7L552.4 318.6L553.9 319.3L555.4 321L555.4 315.4L552.4 314.1L548 313.3L545.7 311.1L542.7 312.1L538.9 311.1L537.9 311.8L537.5 313.3L540.2 315.6L540.2 317.8L538.9 319.5L535.9 320.1L535.6 319.3L536.8 317.8L536.7 315.6L535.9 315L534.4 315.2L532.2 317.3L529.8 316.3L528.1 313.3L528.4 309.6L525.4 304.9L522.4 307.3L518.3 305.8L515.7 305.3L515 305.7L514.5 306.6L514.8 307.3L516.4 308.5L516.9 309.6L516.8 313.3L515.7 314.2L512 313.3L513.7 310.3L513.5 309L512 308.8L509 310.4L507.5 308.7L506.4 305.8L505.2 305.3L503.7 306L503.7 309.6L502.2 311.2L500.3 309.6L499.2 307L498.2 309.6L494.7 311.5L493.2 314.4L492.5 314.9L488.7 315L487.7 315.6L487.1 316.3L486.9 320.1L486.5 320.9L485.7 321.1L484.3 319.3L484.2 316.3L480.6 313.3L480.8 312.6L483.3 311.1L483.8 309.6L483.4 308.1L482 307.6L479 309.2L476 305.8L473.8 304.7L471.5 301.4L468.5 300.7L467.5 302.1L467.8 305L470.8 305.3L474.5 310.2L477.5 310.9L478.2 311.8L478.2 314.8L476.9 317.8L477.2 323.1L476 324.3L473 321.9L469.3 320.7L461.8 325.3L460.5 327.6L458.3 329.1L457.3 331.3L455 332.4L454.6 336.6L452.8 338.8L449 340.8L448.5 343.3L446.2 346.3L447.5 350L446 350.8L445.5 349.3L445.9 346.3L441.5 343.3L442.3 342.1L445.8 339.5L443.6 335.8L442.3 335.5L439.3 336.4L436.3 335.6L433.7 340.3L432.6 340.7L430.7 339.5L431.3 335.8L434.1 332.3L437.2 331.3L439.3 328.3L443 330L445.3 334.1L446 334.5L449.8 333.6L450.5 331L452.8 330.5L453.4 329.8L452.8 329.2L449.8 329.5L448.3 327.9L445.8 327.6L443.8 324.2L439.3 321.6L437.1 324L431 326.8L426.7 330.6L426.3 332.8L427.3 336.6L426.6 337.8L425.8 337.6L424.4 335.1L422.8 334.5L421.8 332.8L422.8 330.5L425.4 329.8L425.7 326.8L425.1 323.1L425.8 322L428.6 320.1L428.7 318.6L428.1 317.1L427.3 316.8L425.1 316.8L422.8 317.8L421.7 317.1L421.7 316.3L424.6 314.8L425.2 313.3L428.1 311.2L429.6 308.5L434.3 309.6L434.1 310.3L431.1 311.9L429.9 316.3L430.7 320.1L432.6 321.5L434.1 321.2L435.1 320.1L435.1 313.3L435.9 311.8L438.1 312.6L438.1 316.3L439.3 317.4L443 316.8L446 317L447.2 316.3L448 311.1L449.8 310.7L450.5 309.7L449.8 307.5L449 307.1L448.3 307.6L447.5 310.3L443 312.8L441.5 312.5L440 311.4L438.5 309.2L435.6 307.8L435.2 305.8L436.1 302.8L433.4 299.8L436.3 293.3L438.1 300.6L441.5 302.4L443 306.4L445 305.8L446.5 304.3L446.6 302.8L445.2 299.8L448.1 296.1L447.5 293.1L444.4 293.1L443 294.3L442.7 293.1L430.7 293.1L429.6 295.1L428.1 294.9L427.9 293.1L412.2 293.1L404.1 295.5L402.6 300.5L400.3 301.5L398.8 300.9L395.9 297.7L394.4 294.7L392.1 294.1L391 293.1L387.7 293.1L385.9 294.6L383.1 295.4L380.9 293.4L378.6 293.2L377.7 293.8L376.4 298.3L371.1 296.8L371.6 296.1L374.9 294.8L376 293.1L351.5 293.1L348.4 295.3L347.8 296.8L347.9 298.7L348.5 300.6L350.2 301.3L351.3 302.8L350.9 306.6L353.2 311.3L353.9 311.2L354.6 309.6L357.3 307.3L359.7 303.6L360.6 303.5L361.4 304.3L361.9 306.6L361.4 307.4L358.4 308.4L358 309.6L358.4 311.5L359.1 312.2L360.6 312.1L363.6 309.4L366.5 312.6L366.5 313.3L364.5 314.8L363.7 316.3L364.4 317.4L366.6 318.1L369.6 318.2L370.4 317.8L371.7 314.1L373.1 313.3L369.7 310.3L369.3 306.6L366.9 302.8L367 301.3L366 299.8L366.6 299.3L367.4 300.6L370.4 300.7L372.4 302.1L372.7 303.6L371.3 306.6L373.4 307.7L376.4 305L380.2 304.3L380.6 302.8L378.9 299.8L381.6 298.7L383.1 297.3L389.1 298.3L389.9 298.9L394.4 298.9L394.8 299.8L393.6 300.5L389.9 299.9L386.9 301.4L383.9 304.8L379.3 307.3L378.4 309.6L379.4 311.4L382.4 311.9L383.1 313.3L383.9 309.2L385.4 308L386.9 307.8L389.9 308.6L392.9 312.7L393.6 312.8L394.5 309.6L395.9 308.7L397.1 308.8L397.7 310.3L397 313.3L398.3 316.3L398.2 320.1L399.6 322.1L401.8 320.1L401.3 316.3L402.2 314.8L404.1 314.3L406.3 315.2L406.7 317.1L405.5 320.1L406.2 324.6L405.6 325.9L403.2 326.1L401.1 327.7L398.8 327.8L397.4 325.3L394.4 324.2L392.9 323.1L392.9 327.1L397 328.3L397.7 329.1L397.5 330.6L395.5 332.8L395.9 334L396.6 334.5L398.3 333.6L403.3 329.7L407.1 330.3L409.3 331.4L412.3 329.3L414.6 329.5L415.3 329.8L414.2 334.3L411.6 335.5L411.1 336.6L413.1 338.5L416 335.8L417.3 336.6L417.9 341L421.1 343.3L419.1 346.2L419.4 347.8L422.8 348.7L424.3 345.1L425.8 344.2L426.6 344.2L429.2 346.3L429.6 347.2L432.6 346.9L433.6 350L434.8 351.4L436.3 351.8L439.3 350.5L440 351L441.7 353.8L444.2 356L443 358.1L440 358.5L439.1 358.3L438 356L436.3 354.7L434.8 356L437 362L437.8 366.1L439.3 368.7L441 370.3L442.4 372.5L442.3 373.3L436.3 374L433.3 376L432.6 375.7L431.6 372.5L429.6 370.9L428.4 371.8L427.3 373.8L425.1 375.1L423.6 378.5L421.3 380.6L416.8 381.4L415.3 380.9L414.9 380L416.6 376.3L415.7 374L413.1 372.7L411.3 374L410.9 375.5L410.9 379.3L411.9 382.3L417.7 387.5L421.3 389.2L422.8 392.4L427.3 387.7L427.8 383L429.6 379.4L436.3 380.4L438.2 383L437.8 385.4L436.3 387.4L434.8 386.4L432.6 386.1L431.6 386.7L430.3 390L427.7 391.2L427.2 392.7L427.3 399.5L428 403.2L427.2 405.5L425.8 405.8L422.8 403.7L419.8 399.3L416.8 399.4L416.4 400.2L417.3 404L421.1 404.7L422.5 407.7L426.6 407L427.3 407.9L427.8 410L424.8 413L423.5 419.7L424.9 422L427.6 422.7L428.4 423.5L422.8 425.1L421.3 422.2L417.6 421.3L416.8 417.5L413.1 412.1L411.6 413.5L411 416L412.3 419.9L413.1 420.7L415.3 421.5L418.6 425.7L418.9 426.5L417 429.4L417.8 430.9L419.1 431.6L420.6 431.4L421.8 430.2L422.8 427.4L425.8 427L427.3 427.4L428.8 430.2L431.8 432.1L431.8 433.9L429.1 436.9L429.1 439.9L430.1 442.9L425.8 444.3L423.6 443.8L422.2 442.9L423.4 442.2L424.1 440.7L424 436.9L422.8 435.4L419.8 434.6L418.3 435.1L417.2 436.2L420.6 438.2L420.8 441.4L418.3 442.9L416.1 443.5L414.5 442.9L413.1 440.9L412.5 441.4L412.3 442.9L412.8 445.9L410.8 447.8L409.3 448.2L407.8 447.8L406.3 447.1L405.7 445.9L408.6 441.3L412 439.9L409.3 437.2L406.2 437.7L405.4 439.2L404.8 443.5L404.1 444.1L402.6 444.1L399.6 441.7L398.3 442.2L396.8 444.4L395.1 444.8L393.6 447L391.4 447.2L390.8 446.7L391.3 445.2L394 443.7L395.5 439.2L395.6 436.2L392.9 435.3L391.4 436.1L390.9 439.9L389.9 440.8L388 438.4L384.2 436.2L383.9 433.2L383.1 431.6L381.4 439.2L382.4 442.9L381.4 445.9L381.6 446.7L383.4 448.2L383.9 449.7L380.8 454.2L375.6 455.7L375.7 459.4L373.4 464.9L370.4 462.7L367.4 464.9L365.1 465.1L364.2 461.7L359.9 459.3L355.4 462.4L355.2 463.2L359.1 465.1L364.1 465.4L364.5 466.2L364.1 469.2L363.6 469.9L361.5 468.4L359.9 468L358.6 469.2L356.9 472.6L352.4 471.3L350.2 468L348.7 467.4L348.2 466.2L353.4 460.9L354.7 458.1L357.6 457.2L359.9 453.6L360.9 454.2L362.1 457.7L365.1 457.9L366.6 455.2L369.6 456L374.1 453.9L374.9 451.5L377.8 450.4L378.5 449.7L378.4 448.9L376.4 447.7L374.9 448.9L374.1 450.6L373.4 450.9L363.6 450.6L361.4 449L360.9 445.9L362.1 444L363.6 443.7L366.6 447.1L370.4 442.9L369.6 439.8L370.4 438.8L371.4 438.4L371.9 436.2L370.7 434.7L366.6 434.2L359.9 430.2L358.2 426.5L359.1 425L361.2 423.5L361.3 422.7L356.9 418.4L353.2 420.9L350.2 424.1L348.5 422.7L347.2 420.1L346.4 420.1L344.9 423.6L343.4 425L342.7 424.8L341.6 423.5L340.7 416.7L337.8 415.2L336.7 412.4L335 416L335.5 416.7L338 417.5L338.7 419.7L337.9 422.7L336.7 423.6L335.2 420.7L334 419.7L332.7 416L330.7 412.9L329.2 416L329.4 418.2L331.2 419.7L331.8 424.2L335.3 429.4L333.7 430.5L331.4 427.8L326.9 427.9L324.6 426.5L328 422.7L327.3 420.5L325.1 419.7L324.9 419L324.3 409.2L326.9 406.4L330.6 409.2L331.2 411.5L333.7 411.8L335.2 411.5L335.9 409.1L338.2 407.7L338.4 406.2L337.5 400.2L338.5 396.5L338.2 394.4L337.3 392.7L338.2 389.7L336.7 387.4L335.9 389L336.5 392.7L335.5 395.7L336.6 399.5L336.4 402.5L334.4 407L333.7 407.4L332.9 407.1L330.7 404.4L328.4 403.6L323.9 399.6L322.4 399.9L321 404L319.4 406.2L320.2 409.5L321.7 410.3L322.2 411.5L322.6 417.5L321.7 418.6L320.1 419L318.6 421.2L316.4 422.7L318.4 425.7L318.1 428.7L316.5 428.9L313.4 428L311 422.7L311.4 419.7L311.6 419L314.2 418.6L316.4 416.7L318.3 413.7L318.3 412.2L317.2 411.5L315.7 411.7L314.2 413.6L312.3 414.5L311.4 416L311.2 418.7L310.5 418.8L309 418L308 416L305.7 415.2L305.2 414.5L305.2 409.2L306.7 408.3L310.5 409L312 408.7L313.5 404.9L317.8 403.2L316.4 399.5L315.9 392.7L316.5 391.4L317.3 391.2L318.2 392.7L317.8 396.5L318.5 398L320.2 398.8L322.4 398.3L322.8 393.5L321.3 389.7L321.3 386.7L323.2 386L326 390.5L328.4 392L328.7 395L327.7 396.2L326.5 396.5L329.9 397.4L332.2 392.7L330.7 389.7L332.2 387.3L334 386L327.1 383L328.8 373.3L328.4 371.8L327.7 371.1L326.5 371L325.8 371.8L325.7 377.8L323.9 379.5L321 376.3L320.7 372.5L320.2 372.1L317.2 372.8L314.9 368.8L310.6 366.5L309.3 363.5L304.4 359.8L300.7 359.1L299.8 359.8L300 360.6L301.6 362.8L300 365.9L297 365.5L294 362.9L290.2 365.7L288 365.3L287.2 364.3L286.3 365.8L283.5 366.6L280.5 368.4L277.5 367.6L275.3 367.6L274.5 368L273.8 369.6L273 368.4L270.8 367.9L267.8 370.6L261 371.1L260.1 371.8L259.5 373.7L254.3 374.4L252.8 377.2L251.3 378.1L248.4 377.8L247.5 375.5L246.6 376.3L246.7 377L248.7 383L247.5 384L246 381.9L242.7 380.8L240.8 378.1L240.8 438.1L241.2 439.2L240.8 444.5L242.1 448.2L244.9 448.9L245.7 449.7L245 453.4L242.4 454.9L241.7 457.9L240.8 458.9L240.8 460.5L242.5 461.7L243.1 463.2L240.8 463.9L240.8 468L243.5 467.7L243.9 464.7L245.1 462.4L248.5 460.2L247.2 456.4L249.2 452.7L248.1 448.9L246.6 447.4L246.8 445.7L249.5 444.4L250.5 442.5L251.3 442.7L251.7 445.9L254 449.7L252.3 451.9L252.1 453.4L254.3 457.1L258 454.6L259.3 451.2L262.2 450.4L264 443.8L264.8 444.9L267 445.5L268.5 444.9L270.8 442.6L273.8 444.2L280.5 444.5L282.4 445.9L282.4 446.7L281.2 447.3L276.8 447.5L275.7 448.2L274.5 450.6L272.3 451.2L271.6 451.9L271.9 459.4L273.8 461.4L275 460.9L276.1 459.4L276.3 456.4L275.5 452.7L276 451.7L277.5 451.5L279.3 452.7L280.2 456.4L279 457.6L278.5 459.4L280.2 463.2L279.2 463.9L276 464.5L274.2 465.4L273.7 466.2L274.9 468.4L275.1 469.9L273.3 471.4ZM282 465.5L280.6 463.2L281.2 462.1L284.2 461.5L286.2 462.4L286.1 463.9L284.9 465.4L283.5 466ZM293.2 458.1L289.3 455.7L287.7 451.2L286.5 451.3L285.6 453.4L284.2 454.4L282.5 454.2L281.7 453.4L281.7 452.7L284.4 449.7L286.3 445.9L288.7 444.7L291 444.6L291.7 445.9L291.6 448.2L289.5 449.9L290.2 450.2L292.5 449.3L296.2 449L296.7 445.2L298.2 442.2L299.2 441.4L300.9 441.4L302.4 442.9L301.5 446.4L297.2 448.9L294.7 457.6ZM303.7 456.3L303.7 452L304.3 453.4ZM311.2 448.3L309.7 447.5L308.2 444.7L305.1 442.9L304.9 438.4L306 437.6L310.5 438.1L311.8 437.7L313.5 435.9L315.7 435.1L317.2 432.6L317.8 436.2L315.7 437.9L314.2 441L312.6 442.9L317.2 445.5L317.7 446.7L313.5 448.9ZM323.9 463.6L323.2 463L322.5 459.4L323.2 459L323.9 459.8L324.7 462.4L324.7 463.2ZM326.2 456.7L325.8 455.7L326.9 455.2L327.6 456.4ZM332.9 454.3L331.8 453.4L331.7 452.7L333.7 451L334.5 451.9L334.6 453.4L333.7 454.5ZM333.7 466.7L333.2 463.2L333.7 462.2L336.7 461.6L338.8 462.4L339 463.2L337.9 464.7ZM341.9 467.9L340.9 466.9L341 464.7L341.9 463.7L343.4 463.3L345.7 465.4L345.8 467.7L344.2 468.2ZM380.9 460.5L380.4 459.4L383.1 457.8L385.1 459.4L383.1 460.9ZM392.9 461.6L391.4 458.2L388.4 456.8L387.3 454.9L385.4 453.4L385.4 452.5L388.4 451.9L389.1 451.2L389.9 447.5L390.5 448.2L390.8 451.2L396.6 453L401.4 448.9L403.9 448.9L404.4 449.7L404.1 450.1L401.2 451.2L400.8 455.7L401.8 458.7L404 459.4L399.6 460.6L398.5 457.9L396.6 456.7L395.1 457.4L394 460.9L393.6 461.6ZM403.3 468.5L402 467.7L401.9 466.2L402.6 465.7L406.3 464.4L409.2 464.7L409.4 466.9L408.6 468.2ZM412.3 471.5L409.9 469.9L409.6 467.7L410.8 466.5L416.2 464.7L417 465.4L417.4 469.2L415.3 471.4ZM419.8 461.4L419.1 460.2L418.6 457.2L416 456.4L419.5 455.7L419.8 452.8L419.8 456.4L420.7 460.2L420.6 461ZM422.8 463.2L421.3 462.2L423.6 461.5L424.3 459.4L425.1 458.8L426.6 458.6L428 459.4L428.1 461.2L427.3 462.2ZM432.6 464.7L429.8 463.2L430.4 461.7L432.6 461.1L434.4 461.7L434.6 463.2L434.1 463.9ZM435.6 460.5L435.2 459.4L436.3 458.6L438.4 459.4L437.1 460.4ZM445.3 392L444.6 387.5L442 386.7L441.7 386L443.9 385.2L446 379.4L450.5 383L446.4 386L447.2 389.7L446.3 392ZM449 456.6L449 455.8L449.8 455.5L450.8 456.4ZM452 363.6L451.4 362.8L452.8 361.7L454.4 362.8L452.8 363.8ZM455.8 466.1L454.3 463.9L454 462.4L454.7 460.2L455.8 459.7L457.5 460.9L458.6 463.2L457.1 465.4ZM466.3 451.4L464.2 449.7L465.5 448.8L466.9 449.7ZM469.3 346.6L467.9 343.3L469.3 342.2L470.6 343.3L470.3 346.3ZM471.5 470.7L470.6 469.9L470.8 469.2L474.5 468.3L474.9 467.7L475.2 463.2L476 461.6L479 460.3L479.7 460.6L481 462.4L480.5 464.3L477.5 466L477.1 468.4L476 468.7L473.8 470.6ZM479 471.3L477.6 469.2L479 468.8L479.9 469.2L480.2 469.9ZM485.7 469.5L484.7 468.4L484 466.2L485.7 464.5L486.8 466.2ZM488.7 441.8L487.1 439.9L487.8 439.2L492.5 438.5L494.1 439.9ZM492.5 461.7L490.8 459.4L491.1 458.7L492.5 457.8L493 459.4ZM495.5 467.8L494.2 466.2L494.7 465.1L496.7 463.9L498.5 461.7L499.2 461.2L500.1 461.7L500.8 462.4L500.7 464L497.7 465.1L497 466.9ZM506 448.3L503.8 446.7L503.9 445.9L506 444.8L506.9 445.9ZM508.2 444.1L506.7 441.5L504.1 439.9L505 438.4L506.9 437.7L507.5 436.3L507.2 435.4L504.5 434.5L498.6 430.2L498.2 429.4L499.2 426.8L500 427.6L503 428.3L504.8 430.2L506.7 431.2L508.2 434L510.6 436.2L510.2 437.7L508.2 439.1L508.1 439.9L508.8 440.7L512 441.8L512.4 443.7L512 444.3ZM528.4 461.3L526.7 458.7L525.4 457.8L521.7 458.1L520.6 458.7L519.4 460.4L518.7 460.4L517.3 455.7L519.4 455L520.6 453.4L519.4 446.8L518.7 445.8L517.6 448.2L515.7 449.5L512.7 449.3L512.7 444.6L517.2 444.4L517.9 443.8L518.7 441.2L519.4 441.1L520.9 443.1L525.4 444.6L527.3 445.9L527.6 446.7L525.4 447.2L523.9 449.1L523.8 452.7L524.5 454.2L526.2 455.1L531.4 455.6L531.5 452.7L531 451.2L528.4 449.8L528.3 448.9L530.8 445.9L532.2 445.4L532.9 445.9L532.9 450.4L536.7 452.7L537.2 456.4L535.2 457.1L533.1 456.4L532.2 455.4L531.5 455.7L530.1 460.9L529.2 461.5ZM532.2 471L531.4 469.9L532.2 468.9L535.9 468.2L537.5 469.2L536.6 469.9ZM538.9 448.5L537.4 445.9L538.9 443.3L540.6 445.2L541.1 446.7L540.4 447.8ZM547.2 454.2L545.7 451.2L544.9 451.1L544.2 451.4L543.3 453.4L541.9 453.8L540.9 452.7L541.4 451.2L544.9 447.8L548.7 447.7L550.9 448.2L552.2 449.7L550.9 453.6L549.4 454.7ZM506 398.8L504 398L503.9 395.7L508.2 392.4L510.3 392.7L511 396.5L510.5 397.5L509 398.6ZM512 390.9L510.9 386.7L512 386.3L513.7 387.5L514.9 389.7L514.2 390.9ZM521.7 354.2L520 351.5L517.4 350L520.1 347.8L521.1 344L522.4 343.7L523.2 344L523.9 346.9L524.8 347.8L529.2 347.9L531.2 349.3L531.4 350L529.2 352.4L525.4 351.7L523.9 352.3L522.4 354.5ZM517.2 320.9L515.7 320.4L515.7 319L518.7 318.1L519.8 318.6L520.1 320.8L518.7 321.4ZM521.7 324L521 323.1L521.4 322.3L522.4 322.1L523.5 323.1L522.4 324.2ZM422.8 308.3L419.8 307.2L419.2 306.6L419.6 305.8L422.8 305L424.3 305.8L424.8 306.6ZM429.6 301.7L428.7 299.8L429.6 298L431.8 299.8ZM355.4 296.9L353.8 296.1L356.2 295.5L359.8 296.1L359.4 296.8ZM405.6 311.1L403.3 310.8L401.8 308.7L399.6 307.2L399 306.6L399.6 305.1L403.2 303.6L404.1 302.1L405.6 301.3L409.3 302.6L413.1 301.1L415.4 302.8L413.9 308.1L413.1 308.6L410.9 306.6L410.1 304.4L409.3 304L406 305.1L405.4 307.3L406.8 309.6L406.4 311.1ZM407.1 325.2L406.4 323.1L407.1 320.9L408.6 320L410.1 320.1L411.9 323.1L410.1 325ZM415.3 311.9L414.6 309.6L415.3 309.1L416.8 309.2L417.3 309.6L416.8 311.3L416.1 312.5ZM439.3 348L437.8 345.8L434.8 344.7L434.3 343.3L434.8 341.5L436.3 341.3L437.5 341.8L438.8 344L440 345.1L440.5 346.3ZM422.8 386.3L421.7 383L421.8 381.5L422.8 380.9L424.3 383L423.6 385.7ZM431.1 426.5L431.5 425.7L432.6 425.4L433.6 425.7L434 426.5L432.6 427.1ZM349.4 443.8L347.9 440.7L344.9 438.7L343.7 436.9L342.7 431.7L339.7 429.4L340.4 427.7L347.2 428.2L350.2 429.3L353.2 428.4L354.3 429.4L354.6 433.2L355.4 434.7L356.9 435.3L360.2 434.7L360.7 436.2L360.3 439.2L356.9 438.6L355.7 439.9L352.4 441L350.2 444.3ZM353.2 455L351.2 452.7L351.5 449.7L353.2 448.1L356.9 446.1L358.7 449.7L354.7 451.6L353.8 452.7ZM313.5 379.8L311.7 376.3L312.7 374.8L314.2 374.5L315 374.9L315.6 376.3L314.7 378.5ZM317.2 387.6L316.5 387.1L316.2 386L317.2 384.5L319.1 386L319.3 386.7ZM250.5 428.2L248.6 426.5L250.5 425L252.2 426.5L251.6 428ZM252.8 440.8L252.4 439.2L253.3 436.9L255.1 435.4L257.3 435L258.1 435.4L258.5 436.2L258.3 438.4L256.8 439.2L255 441.1L253.5 441.3ZM264 442.3L259.7 440.7L259 439.9L259.2 439.2L262 438.4L263.3 435.3L265.5 434.1L267 431.2L267.8 430.9L269.3 431.5L270.3 432.4L270.4 433.2L267.1 436.2L268.1 437.7L268.4 439.9L267.8 440.6L264.8 441.4ZM273.8 427.4L272.6 426.5L273.8 425.3L276 425.4L277.3 426.5ZM276.8 433.7L276.1 433.2L276.8 432.6L277.7 432.4L278.3 433.2ZM287.2 434.7L285.7 432.4L286.2 427.2L287.2 425L289.6 432.4ZM293.2 443.8L292.5 443.4L291.8 441.4L288.9 439.9L289.3 439.2L291.7 439L293.2 440.5L295.5 440.9L296.1 441.4L296.3 442.9L295.8 443.7ZM323.2 454.5L322.6 452.7L323.2 450.2L323.9 449.5L324.9 451.2L325.2 453.4L324.7 454.6ZM343.4 461.1L342 460.2L341.8 459.4L343.1 456.4L342.6 452.7L343.7 449.7L343.2 448.9L340.4 446.6L338.5 447.4L336.7 449.2L334.8 445.2L333.7 444.7L329.9 445L329.2 442.7L324.8 439.9L325.4 438.7L329.9 437.6L332.2 437.7L333.7 438.5L335.9 438.3L336.7 437.2L337.4 437.9L340.4 438.3L341.2 438.9L341.3 439.9L339.9 442.9L340.4 443.7L341.2 444.4L343.4 444.7L345.5 448.2L348.8 449.7L347.9 450.6L345.3 451.2L344.7 451.9L344.7 454.9L345.7 456.1L346.7 456.4L346.9 459.4ZM406.3 454.5L405.8 452.7L406.3 452L407.5 452.7L407.6 453.4ZM409.3 463L406.9 459.4L407.9 457.9L409.3 457.1L410.6 457.9L411.1 459.4L410.1 462.7ZM437.8 420L437.3 419.7L438.5 419.1L441.6 419.7L439.3 420.2ZM440 443.2L439.5 442.9L442.3 442.2L444 442.9L443 443.6ZM444.5 371.2L443.8 369.5L445.3 368.6L447.5 368.6L448.6 369.5L446 371.5ZM455 383.8L454.3 383L455.8 381.7L457.4 383L456.5 384.1ZM458 344.4L457.5 343.3L459.5 339.1L463 343.3L459.5 344.6ZM465.5 386.1L465.3 383L466.3 382.5L466.7 383L466.4 386L466.3 386.4ZM469.3 328.2L468.4 326.1L469.3 325.2L470.4 326.1L470.4 326.8ZM470.8 336.7L470.2 336.6L470.8 336L472.3 335.7L474.2 336.6ZM474.5 430.2L473.8 429.4L476 426L479 423.5L481.6 425.7L481.9 426.5L481.2 427.1L478.4 428.7L477.4 430.2L476 430.8ZM476 455.7L474.6 452.7L475.3 450.5L482.7 449.7L484.1 452.7L483.5 453.4ZM485.7 461.8L484.2 459.4L485.7 456.9L487.2 456.8L488 457.2L488.2 459.4ZM488.7 433.4L488.6 432.4L489.5 432L495.5 431.6L496.7 432.4L496.5 433.2L495.5 433.5ZM498.5 450.5L492.1 449.7L496.2 448.4L499.2 449.5L499.2 450.7ZM499.2 403.5L498.6 403.2L498.6 402.5L501 402.5L500.8 403.2ZM502.2 416.2L502.2 411.9L502.8 413L503 416ZM518.7 437.4L518.3 436.2L518.5 431.7L517.9 430.1L512 429.2L509.3 427.2L508.7 426.5L508.2 423.5L509 421.4L512.7 424.1L514.2 426.5L514.5 428.7L518.8 429.4L520.2 430.2L520.4 433.2L519.4 437.1ZM526.9 431.2L524.5 430.2L524.2 429.4L529.2 427.7L530.9 429.4L529.9 431.3ZM535.2 440.2L534.2 439.2L535.2 436.7L535.9 437.2L536.6 439.2L536.4 439.9ZM532.2 463.3L532.2 462.5L532.9 462.5L535.2 462.5L535.7 463.2L535.2 463.9ZM505.2 391.5L504 389.7L505.2 386.7L506 385.6L508.6 386L507.1 387.5L506.5 391.2ZM419.8 300.2L419.3 299.8L419.4 298.3L421 296.1L427.5 295.3L427.4 296.8L425 297.6L422.8 300.5ZM415.3 297L414.6 296.1L415.3 295.7L418.5 296.1L418.3 297ZM432.6 421.3L430.9 418.2L428.4 416L429.6 414.3L432.6 413.5L436.3 411.4L437.1 413L436.6 418.2L434.8 421.1ZM294 438.1L293.3 436.9L293.1 433.2L292.1 430.2L293.6 426.5L292 422.7L294 420.8L297 420.3L299.9 422.7L298.6 426.5L299.2 429.2L300.7 429.4L301.8 428.7L302.8 424.2L303.7 423.5L306.3 426.5L312.2 429.4L310.5 433.7L308.1 431.7L305.2 432L304.5 433.2L304.5 436.6L303.7 437.2L300.4 436.2L300 435.1L296.2 435.7L294.9 437.7ZM323.9 448.4L323.9 446.7L324.4 445.9L326.9 445.6L328.7 445.9L326.9 447.9ZM456.5 347.1L455.7 346.3L456.5 345.3L457 346.3ZM465.5 356.8L465 356L466.3 354.5L467.8 356L467 356.8ZM479 363.9L478.5 362.8L479.7 362.5L479.9 363.5ZM477.5 443L479 442.2L480.2 442.9L479 443.6ZM485.7 430.5L484.7 429.4L483.5 426.5L485.5 423.5L486.5 423.3L487.7 424.2L488 426.5L486.5 429.9ZM497.7 398.1L497.3 394.2L495.9 392.7L499.2 392.9L500.7 393.8L501.4 395L501.6 396.5L500.8 398ZM504.5 371.1L503 370.5L502.7 369.5L507.5 367.7L508.4 366.5L507.5 364.3L505.9 363.5L506 361.8L509 361.2L509.8 363.5L510 369.5L506 371.2ZM432.6 403.6L432.2 403.2L432.6 402.1L433.3 402L434.5 403.2ZM436.3 407.1L436 405.5L437.1 404.6L440.7 404.7L441.7 406.2L439.3 407.6ZM294 418.2L292.5 417.2L292 416L294 413.2L296.9 416L297 416.7L296.2 417.6ZM303.7 422L302.9 419.7L303.7 416.4L305.2 417.9L305.9 419.7ZM479 437.9L477.4 436.9L476.9 436.2L477.3 435.4L478.6 433.9L482.8 431.7L483.5 433.2L482 436.2L480.5 437.5ZM487.2 413.7L486.5 413L486.7 412.2L488.7 410.9L493.9 413L489.5 414.3ZM498.5 384.2L497.6 383L498.4 381.5L499.2 381.3L500.4 383L499.2 384.4ZM438.5 393.5L437.9 392.7L438 392L439.3 390.1L441.5 392L444.7 392.7L443 393.9ZM297 411.3L296.5 410L297 409L300 410L299.2 411ZM303.7 405L301.6 403.2L301.8 402.5L303.7 401.2L305.2 402L305.6 403.2ZM488 353.2L487.5 353L488.7 351.5L489.5 351.5L490.1 353ZM490.2 404.1L488.9 399.5L492.5 398.1L497.1 398.7L497 400.5L495.1 401.7L493.2 404L492.5 404.6ZM497.7 378.7L496.8 376.3L498 374L499.2 373.4L502.2 373.7L503 374.3L503.7 376.3L503 377.4L499.2 379ZM297 403.7L297 402.3L298 402.5L298.6 403.2ZM491.7 390.6L490.3 389.7L491 389L492.5 388.6L493.5 389.7L492.5 390.9ZM498.5 336.9L497.7 332.8L492.8 329.8L494.7 327.6L498.6 326.8L496.7 321.6L495.4 320.1L496.2 319.2L499.2 320.5L500 319.3L500.9 315.6L502.2 314L506.7 318.5L507 320.1L503.9 323.1L503.7 326.1L503 327.5L499.1 327.6L498.9 329.8L500 332.1L500.6 336.6L499.2 337.1ZM502.2 357.7L500.9 356L502.2 354.5L503.7 356L503 357.5ZM491.7 377.1L490.7 376.3L492.5 375.1L494.2 376.3L493.2 377.1ZM492.5 365.3L490.1 363.5L490 362.8L491 362L493.2 361.2L495.5 362L496.3 362.8L495.2 364.3ZM492.5 346.8L491 344.6L488.2 343.3L488.7 342.5L491.7 341.5L492.9 340.3L491.6 336.6L492.5 335.7L493.7 336.6L494.3 338.1L496.2 338.6L496.8 339.5L496.2 341L494.1 341.8L493.6 342.5L493.2 346.3ZM495.5 350.4L494.9 349.3L495.5 348.4L498 349.3L498.1 350ZM488.7 332.9L488 329.8L488.7 328L489.5 327.8L491.6 329.8L490.2 331.1L489.5 333.1ZM488.7 325L487.4 323.1L488 321.9L493.2 321.9L494.7 322.6L494.7 323.3L493.2 324.5ZM312.9 472.9L315.7 472.9L315 472L313 471.4L312.8 469.2L312 467.9L307.5 465.6L306 466.1L306 470.7L307.5 471.3L312.7 471.6ZM263.9 467.7L267 467.7L267.8 466.2L266 462.4L264 461.8L262.8 462.4L262.7 463.2ZM551.3 467.7L553.9 467.5L555.4 466.5L555.4 465.8L553.2 464.5L550.9 464.3L550.3 464.7L550 466.2ZM299 466.9L300 467.4L300.7 467.2L301.3 466.2L300.7 464.8L299.2 464.8L298.7 465.4ZM296.9 463.9L297.7 464.1L298.4 463.2L297.7 461.9L296.7 462.4ZM267 460.9L269.4 459.4L270.7 449.7L269.2 448.2L267 447.2L265.5 448.1L264.8 450.1L263.3 451.2L262.7 452.7L262.9 454.2L265.3 456.4ZM554.5 460.9L555.4 461.2L555.4 458.3L552.7 458.7L552.5 459.4L553.1 460.2ZM365.9 459.4L366.6 460L367.5 459.4L366.6 458.4ZM412 434.7L414.6 434.7L415.6 433.2L415.3 432.2L413.1 431.5L411.6 432.2L411.1 433.2ZM375.3 433.2L376.4 433.7L376.8 433.2L376.4 431.6ZM551.5 432.4L552.4 433L555.4 431.8L555.4 423.8L554.1 428L551.1 429.4ZM368.7 431.7L370.4 431.9L371.6 430.9L371.9 429.4L371.1 428L370.4 427.2L365.1 425.3L362.7 425L362 426.5L362.8 428.7L364.4 428.7L366.6 427.3L367.8 430.9ZM389.1 430.2L389.9 430.9L390.3 429.4L389.9 428.9L388.7 429.4ZM398.3 430.2L399.6 430.9L401.3 429.4L400.3 428.2L399.2 428L398 428.7L397.8 429.4ZM406.3 428L407.9 426.5L406.3 425.3L404.8 426.5ZM392.6 424.2L393.8 424.2L394.8 423.5L394.8 422.7L392.9 420.7L390.7 422.7L391 423.5ZM405.7 420.5L406.3 421L407.5 419.7L407.1 417.8L406.3 417L405.1 419ZM551.4 420.5L552.4 421L553.8 419.7L552.4 416.6L550.9 419.7ZM349.4 416.7L350.2 417.3L351.7 416L352.5 409.2L357.3 406.2L356.9 402.3L356.2 402.5L354.8 404.7L351 405.5L350.2 406.4L346.4 405L343.4 405L341.2 408.5L339.7 409.2L339.9 410L343.4 410.1L344.7 409.2L346.4 407L348.2 407ZM419.3 415.2L419.8 415.5L420.3 413.7L420.3 410L419.8 409.2L416.7 408.5L415.7 404.7L413.1 404.3L411.5 406.2L411.9 407.7L413.1 408.9L415.3 409.1L417.8 410.7L418.8 412.2ZM389 413.7L389.9 414.1L390.1 413.7L390.4 413L389.9 411.8L387.9 413ZM374.6 413L376.4 413.5L376.9 413L376.4 411.8ZM548.6 409.2L550.2 407.3L552.1 406.2L550.6 404L549.4 403.2L548.7 403.2L545.9 406.2ZM554.8 407.7L555.4 408.2L555.4 405.1L553.2 405.5L552.5 406.2ZM372.1 407L373.4 407.7L374.4 406.2L373.4 405.4L372.6 405.6L371.4 406.2ZM405.9 405.5L407.1 404.9L408 403.2L407.5 401L406.3 400.5L404.8 401L404 402.5L404.6 404.7ZM541.3 404L542.7 404.3L543.3 403.2L543 401.7L541.9 400.9L540.7 402.5ZM399.2 402.5L400.3 402.6L401.9 401L402.3 399.5L401.1 398.2L399.2 398L397.9 398.7L397.8 400.2ZM352.7 401L354.7 401.2L355.5 400.2L354.7 398.1L353.2 397.2L352.4 397.8L352.1 399.5ZM547.4 398.7L548.7 399.3L552.4 398.9L554.5 396.5L553 392.7L554.6 389.7L552.4 386.9L546.6 389.7L546.3 396.5ZM391.1 398L393.6 398.1L396.6 396.9L397.1 393.5L396.6 392.4L395.1 392.7L391.2 395.7L390.5 396.5ZM410 398L412.4 396.5L412 393.5L411.6 392.7L408.6 391.4L406.3 389.2L405.1 392.7L405.4 393.5L408.6 394.8ZM342.7 394.2L343.4 394.9L347.2 394.2L350.2 394.8L351 393.5L350.7 392.7L347.9 391.7L344.9 389.1L343.4 388.8L342.1 389.7L342 390.5L341.7 392.7ZM403.3 386L407.4 385.2L408.9 383.7L408.9 382.3L407.8 380.8L404.4 380L403.9 379.3L407.1 378.1L407.9 376.3L404.4 371.8L402.3 370.3L402.6 369L405.2 367.3L405.5 366.5L405.1 365.8L402.6 364.4L401.3 365L400.3 367.2L398.8 367.1L398.5 365.8L399.9 362.8L397 359.8L399.6 356.5L400.8 357.5L402 360.5L403.3 360.7L403.9 359.8L403.9 356L402.5 353L403.3 351L406.3 350.8L410.1 352.1L413.1 351.9L418.4 357.5L420.6 359L421.3 360.5L422.8 360.9L425.4 359.8L422.4 356.8L422.9 353.8L425.8 352.5L429.6 354L431.3 353L430.3 351.3L425.8 349.3L424.3 350L423.6 351.4L419.8 351.2L418.3 349L417.6 348.7L412.3 348.4L406.3 347.2L403.3 348.5L399.6 348.6L398.8 349.3L395.9 353.9L395.6 359.8L392.9 361.4L392 362.8L397.5 370.3L401.5 371.8L401.7 374.8L400.7 376.3L403 379.3L401 383ZM552.1 386L552.4 386.4L553.9 385L555 383L553.9 381.2L550.9 380.8L549.9 381.5L549.7 383L550.9 385.1ZM545.3 384.5L547.1 383L546.7 381.5L544.4 380L544.6 378.5L545.7 377.8L546.4 376.3L544.9 375.6L543.4 377.1L541.2 377.9L540.6 379.3L541.2 380.7L543.4 381.7L544.3 383.7ZM387.2 383L389.9 383.7L390.5 383L391.3 379.3L389.9 377.1L388.8 381.5ZM336.3 377L336.7 377.2L337.1 376.3L336.7 375.3L335.7 376.3ZM531.9 374.8L532.5 374.8L533 373.3L532.2 371.4L531.2 373.3ZM540.3 374L541.9 374.5L542.7 374L542.7 371.8L541.9 370.7L540.3 371.8ZM322.9 369.5L323.9 370L327.7 368.3L328.8 366.5L326.9 365.2L320.9 366.3L320.7 366.5L322.4 367.9ZM411.6 368.8L413.1 369.4L414.9 368L416.8 367.3L419.8 367.5L422.8 368.5L429.6 368.1L430.8 366.5L430.7 365.8L429.6 363.9L425.1 364.7L422.1 364.5L420.8 363.5L419.8 361.4L417.6 364.5L416.1 365.3L413.3 362.8L413.1 359.4L410.8 359.5L409.3 360.3L408.2 362.8L408.6 364.3L410.9 365.8ZM545.1 367.3L545.7 367.6L546.4 365L547.2 364.3L548.7 364.3L549.1 362.8L547.3 362.8L544.9 364.7ZM555.3 365L555.4 357.1L553.8 362.8ZM379.3 358.3L380.9 358.1L383.1 353.5L384.6 354.5L386.1 358.5L389.9 358.9L391.1 356.8L390.6 355.5L387.8 353.8L387.1 351.5L385.8 350L384.6 343.3L384.4 338.8L380.7 336.6L382.1 332.8L378.6 331.2L377.5 329.1L374.4 326.1L375.6 321.6L377.1 321L377.5 320.1L377.1 318.6L376.4 318.4L374.9 321.5L372.6 321.7L371.1 323L369.4 329.8L372.4 332.8L372.6 335.8L373.4 336.4L376.4 332.7L378.3 335.8L378.3 339.5L377.6 341.8L374 343.3L374.5 344L374.9 347.4L377.7 348.5L377.8 350L376.2 353L377.9 356.9ZM379.4 347.3L378.6 346.9L378.4 345.5L379.2 344L380.1 343.9L381.1 346.3ZM363.4 350.8L363.6 351.1L365.1 350L365.1 349.3L363.1 349.3L362.8 350ZM312.5 350L313.5 350.6L314.4 350L313.5 349.1ZM372.4 350L373.4 350.7L374.5 350L374.6 348.5L374.1 348L372.6 348.5ZM388.3 350L389.9 350.5L392.2 350L395.5 343.3L395.9 340.9L396.6 340.5L400.3 341.5L401 339.5L399.6 338.6L393.6 339.8L391.4 338.7L389.1 338.9L388.6 339.5L388.3 343.3L389.9 344L392 346.3L392 347L391.4 348.5L389.1 349ZM544.7 349.3L545.7 349.4L548.6 346.3L548 345.5L545.7 344.8L543.1 346.3L543.4 347.9ZM359.8 347L363.4 343.3L364.1 339.5L363.6 338.8L362.1 341L359.9 341.2L358 342.5L358.2 345.5ZM405 345.5L406.3 345.9L413.8 343.9L415.3 343.3L415.3 342.5L413.1 341L409.2 341.8L407.7 340.3L406.3 337L404.3 341L401.7 342.5L402.6 344.4ZM550.8 344.8L552.4 345L555.4 343.4L555.4 338L552.4 337.5L551.3 338.8L548.4 339.5L549.7 341ZM538.9 342.5L539.7 339.5L537.6 339.5ZM240.8 341L240.8 341.5L243.8 340.8L245.1 339.5L241.4 336.6L241.7 333.6L240.8 332.5ZM257.2 340.3L259.3 339.5L257.3 339.3ZM352.1 338.1L353.2 338.3L356.9 336.6L355 335.1L354.2 333.6L356 329.8L355.5 328.3L353.9 327.6L351.7 327.7L350.6 328.3L350.3 329.8L352.6 332.8L352.6 333.6L349.4 335.6L348.9 336.6L350.2 337.8ZM253 337.3L254.3 337.5L255 336.8L255.5 333.6L255.4 332.8L253.1 331.3L252.3 329.8L252.8 328.7L255.1 326.8L256 323.1L250.5 322.6L248.4 326.1L249.3 332.8ZM283.6 336.6L285.9 336.6L286.9 335.8L284.2 335.1L283.3 335.8ZM544.7 336.6L545.7 336.6L545.6 335.8L544.2 335.1L542.9 328.3L541.9 327.1L540.2 329.8L541.9 334.7L542.7 335.3L544.2 335.2ZM339.8 335.1L340.4 335.6L342.6 332.1L347.8 329.8L343.4 328.2L341.9 328.7L339.2 332.1ZM270.3 334.3L270.8 334.8L274.4 333.6L276.6 329.8L275.3 326L274.5 325.3L271.5 324.3L270.8 323.5L267.8 328.3L264 327.9L261.8 329.8L262.7 332.8L264 334.2L265.5 330.5L268 329.8L269.3 328.5L270.8 328.7L271.1 329.8L270 332.1ZM359.5 334.3L359.9 334.9L362.1 334.7L362.9 334.4L363.3 332.8L362.9 332.1L359.9 332L359.4 332.8ZM280 333.6L280.5 334.3L281.2 334.2L282.9 332.8L285 332.1L285.9 329.8L282.7 324.8L280.5 323.6L278.8 323.8L278.4 325.3L278.8 328.3L280.6 329.8L279.8 332.1ZM332.6 333.6L333.7 333.9L334.1 333.6L334.4 332.8L333.7 331.7L332.2 332.8ZM389.8 333.6L391.8 329.8L391.7 329.1L390.6 328.1L386.9 328.1L385.1 329.8ZM289.9 329.8L292.2 329.8L292.8 329.1L293 326.8L291.4 325.3L290.6 323.1L291.7 321.4L294.3 320.1L294.8 319.3L295.2 313.3L294.9 311.8L293.2 311L292.2 308.8L290 306.6L293.2 304.1L294.7 304.1L296.1 305.8L296.2 310.3L298 310.3L299.6 306.6L299 302.8L300 301L300.7 301L301.5 303.9L303.7 304.8L305.2 304.3L306.7 301.9L307.5 302.1L309 308.1L310.5 307.9L312 305.8L315.7 304L317.7 301.3L318.7 298.5L319.5 297.7L320.2 297.5L323.9 299.4L326.9 297.7L328.4 298.4L329.4 299.8L328.3 301.3L325.8 302.8L325.5 306.6L328.3 308.1L329.9 311.3L331.4 311.2L333.7 309.9L334.3 311.8L336 313.3L336.7 314.9L336.9 313.3L340 309.6L337.9 306.6L339.2 305.1L341.2 304.7L343 305.1L343.8 305.8L344.7 309.6L346.4 313.3L347.2 313.7L348 313.3L348.9 305.8L347.2 303.4L345.7 302.3L343.4 301.7L340.6 296.8L340.4 296.1L342.1 293.1L316.8 293.1L316.5 296.1L313.5 298.2L311.8 296.1L311.5 293.1L306.5 293.1L309 296.1L309 296.8L307.5 298.1L303 298.3L300.7 294.2L299.8 294.6L297.7 298.1L293.6 300.6L291 300.8L289.5 299.8L291.3 298.3L292 296.8L291 293.1L282.3 293.1L281 297.6L278.3 302.1L273.8 302.5L270.8 303.6L268.4 306.6L269.8 309.6L269.7 311.8L264 311.8L263.7 313.3L268.2 315.6L268.2 317.1L266.8 317.8L265.7 319.3L266.4 320.8L267 321.2L268.5 320.8L269.6 318.6L270.8 318.2L272.3 318.6L273.8 320L275.6 316.3L270.2 313.3L270 312.6L277.5 309.9L274.9 306.6L275.3 304.1L276.8 303.6L278.3 303.8L279 304.6L279.5 306.6L280.5 307.5L282.7 304.8L285 304.6L285.6 305.1L286.4 309.6L287.2 311.1L291.3 311.8L292.2 312.6L292.3 316.3L291 317.2L286.2 318.6L285.8 319.3L286.2 323.1L288.7 323.9L289.5 324.8ZM332.2 300.1L331.7 299.8L332.9 299.3L334.4 299.8L333.7 300.4ZM286.5 303.9L286.3 302.8L287.2 302.1L288.1 302.8L287.9 303.6L287.2 304.1ZM550.7 329.8L552.4 330.4L553.2 329.8L553.4 326.1L552.4 324.9L551.7 325L551 326.1ZM336.5 329.1L336.7 329.4L337.4 329.1L337.9 327.6L337.9 322.3L338.9 321.6L342.7 321.1L343.3 319.3L341.2 317.4L338.2 317.2L336.7 318.2L335.2 315.5L329.9 314.7L327.2 316.3L328.8 320.1L335.3 322.3L335.8 323.1L334.9 326.1ZM320.1 328.3L323.9 327.3L324.7 326.8L324.8 326.1L318.7 325L315.9 321.6L315.7 320.1L316.5 318.6L317.2 318.4L318.9 320.1L320.2 320.5L323.2 320.9L324.7 320.2L324.7 317.9L323 316.3L322.2 313.3L324.3 311.8L325.4 309.6L324.7 307.4L323.2 307.1L321.7 304.3L320.2 303.9L318.7 304.4L317.2 307.4L312.7 308.8L312 309.6L312.7 310.5L317.5 312.6L318 313.3L316.5 314.3L312.7 315.2L309.9 319.3L310.1 320.1L315.4 323.1L313.5 326.1L313.5 327.7L317.2 327.6ZM329.4 327.6L331.6 327.6L332.7 326.8L332.7 326.1L330.7 325.5L329.2 325.7L328.5 326.1L328.4 326.8ZM359.7 327.6L360.7 326.8L361.4 324.5L366.6 323.4L367.3 323.1L366.6 322.7L362.9 321.4L361.4 322L359.9 323.6L358.5 320.8L356.9 319.6L353.2 322.1L351.7 321.5L350.2 318.7L346.4 318.1L343.7 319.3L343.5 320.1L344.2 320.8L348.7 321.7L349.7 323.1L350.2 324.7L353.2 324ZM381.4 324.6L386.1 325.2L386.9 325L387.8 323.1L386.1 321.3L383.1 319.9L379.8 323.1ZM260 323.8L261.2 323.8L262.4 323.1L261.7 319.3L262.4 316.3L261 315.1L259.8 316.3L260 320.1L258.2 323.1ZM392.7 322.3L392.9 323.1L393.6 322.8L394.2 320.1L393.6 318L392.9 317.4L392.3 319.3ZM455.5 320.8L457.3 320.8L458.3 319.3L457.4 317.1L456.1 316.3L456.5 315.5L458.8 316L462.5 315.2L465.3 313.3L465.1 312.6L462.5 310.5L459.5 311.5L458.6 311.1L457.3 309L455.8 308.6L455 309L453.8 311.8L452 313.3L451 316.3L454.3 318.5ZM247.1 317.8L247.5 318.5L248.3 316.1L250.5 313.6L254.3 314.6L255.6 313.3L255 312.2L252.8 310.6L252.5 309.6L254.3 307.6L257.3 307.8L258.6 306.6L255.9 303.6L256.1 302.1L257.3 300.6L261.8 299.9L264.8 301.1L267.8 301L269.1 299.8L269.7 297.6L273.8 297.9L275.4 296.1L276.2 293.1L271.7 293.1L268.5 297.1L265.5 297.8L264 299.2L261 299.8L258.8 298.6L257.3 296.7L253.5 296.5L253.3 296.1L255 295L255.3 293.1L246 293.1L244.5 295.1L243.8 295.2L241.9 293.1L240.8 293.1L240.8 305.1L242.6 306.6L240.8 307.4L240.8 311.8L243 311.1L243.8 309L244.5 309L244.7 312.6L246.9 316.3ZM246 307.7L245.2 306.6L247.5 303.7L248.5 306.6L247.5 307.8ZM284 317.8L285 317.8L285.4 317.1L285.3 316.3L284.2 315.7L283.3 316.3ZM302.5 317.8L303.7 318.3L307.3 317.1L307.8 316.3L305.2 314.8L303.7 312.7L300 311.9L299.6 313.3ZM468.9 317.8L469.3 318.5L473 317.9L475.3 316.3L473.2 311.1L472.3 311.1L468.9 314.8L468.5 316.3ZM380 317.1L382.6 316.3L381.9 315.6L380.1 315.4L378.8 316.3ZM352.8 316.3L353.2 316.7L354.3 316.3L353.9 315.2L353.2 315.2ZM279.5 314.1L281.2 314.4L282.4 313.3L280.5 311.4L279 312.6ZM305.6 310.3L306.7 311L308.2 310.6L308.9 308.1L306.7 308.1L305.4 309.6ZM489.3 310.3L492.5 310.1L493.2 309.6L494 305.2L497 304.3L497.7 299.7L500.7 298.3L500.7 295.1L500 293.7L497.5 293.8L496.8 294.6L496.2 296.8L495.5 297.4L494.9 296.8L494.3 293.1L482.9 293.1L484.2 294.9L488 295.7L494.1 298.3L494.4 299.8L493.2 304.9L487.2 303.9L485.7 301L482.7 301.9L481.9 302.8L482.7 304.9L485.7 306.2ZM462.2 308.1L462.5 308.4L467.2 306.6L467.1 305.1L465.5 304.7L464.6 302.8L466.8 299.1L467.8 295.9L471.5 295.1L472.3 294.5L473.2 296.8L474.1 297.6L476 298.3L479 298L481.2 296.8L481.8 293.1L460.2 293.1L459.5 294.4L457.6 293.1L454.6 293.1L451.6 296.1L452.8 300.2L455.8 299.9L458.9 301.3L460.5 302.8L461.3 306.6ZM462.5 297.6L460.9 296.8L460.5 296.1L461 295.1L463.3 295L464.7 296.1L464 297.3ZM551.6 307.3L552.9 306.6L552.6 305.1L551.7 304.7L550.7 305.8ZM537.1 304.3L539.7 304.6L540.7 304.3L541.1 303.6L541.2 299.8L540 296.1L542.2 294.6L543.2 293.1L516.7 293.1L517.2 296.5L517.9 297.7L525.4 299.5L527.7 298.8L528.7 296.1L532.2 294.7L533.7 298L535.9 298.8L536.8 299.8L535.9 301.2L533.8 302.8L534.3 303.6ZM543.2 304.3L544.2 305L545.7 305.1L550.2 304.1L550.1 299.8L548.9 295.3L551.7 294.7L553.9 295.2L555.4 298.8L555.4 293.1L548.9 293.1L548.5 296.1L546.9 299.8L544 301.3L543.2 302.8ZM502 303.6L502.2 303.9L503.9 301.3L507.5 300.4L509 299.4L510.3 300.6L511.7 303.6L512.7 303.9L514.4 299.8L513.9 296.1L512.9 293.8L512 293.7L509 294.9L506.1 293.1L504.7 293.1L504 297.6L501 299.8ZM554.5 303.6L555.4 303.8L555.4 300.9L554.1 302.8ZM263.4 294.6L264 295L265.1 293.1L262.3 293.1ZM397.8 294.6L399.6 295.1L402.6 295L403.3 294.6L403.6 293.1L396.8 293.1Z"/>
<path fill="#111e4f" fill-rule="evenodd" d="M436.2 470.7L437.6 469.9L437.9 469.2L436.3 467.7L435.4 469.2ZM442.4 470.7L446 470.6L446.8 469.9L446.8 467.9L446 467.5L441.8 469.2L441.6 469.9ZM422.3 466.9L422.8 467.7L423.4 466.2L422.8 465.8L422 466.2ZM447.8 466.9L449.8 467.1L451.5 466.2L450.5 465L449 464.5L447.6 465.4L447.4 466.2ZM319.8 466.2L320.2 466.7L321.1 466.2L320.2 462.8ZM472.2 466.2L473.7 459.4L473 457.6L472.3 457.3L468.5 461L464.8 463.2L466.3 463.9L470.8 464L471.8 464.7ZM329.8 464.7L330.7 464.5L331.4 463.2L330.9 460.9L329.9 460.5L329.1 460.9L328.6 462.4ZM289.5 463.9L290.2 464.4L291.5 463.2L291.1 461.7L290.2 461.1L288.9 462.4ZM358.9 463.2L359.9 463.7L362.2 463.2L361.7 462.4L359.9 461.7ZM389.4 460.9L389.9 461.1L390.2 460.2L389.9 459.1L388.7 459.4ZM446.2 460.2L449 460.6L449.8 459.4L446.8 459.3ZM495.1 460.2L496.2 460.7L497.6 459.4L496.2 458L495.5 458.1ZM434.6 456.4L436.3 456.5L436.3 455.7L434.9 455.7ZM460 455.7L460.3 456.3L462.5 456.2L463.3 455.6L464.1 453.4L463.3 451.8L462.5 451.4L460.5 452.7ZM299.7 454.2L300.7 454.2L301.3 452.7L300.7 449.9L300 450.4L299.1 452.7ZM338.3 453.4L339.7 453.9L340.4 453.1L340.8 449.7L340.4 449.3L339.5 449.7L338.7 451.9L337.4 452.7ZM488 453.4L489.5 454.1L490.9 452.7L489.5 451.2L488.7 451.2L487.7 452.7ZM429.3 452.7L430.3 452.9L431.8 452.2L432.2 450.4L431.7 447.4L429.6 446.8L428.8 447L428.4 448.2L428.6 451.2ZM444.9 451.9L446 452.3L446.3 451.9L446.6 448.9L446 448.1L443 446.5L441.5 446.7L440.7 448.2L440.8 450.5L442.3 451.6ZM422.4 451.2L422.8 451.4L423.7 450.4L423.6 448.7L419.1 447.8L418 445.9L416.8 445.4L415.4 445.9L415.3 447.4L416 448.2L417.6 448.5L419.1 450.1ZM329.4 450.4L329.9 450.9L330.7 450.6L331.7 449.7L331.3 448.9L329.9 448.5L328.9 449.7ZM469 448.9L469.3 449.2L470.2 448.2L471.3 445.9L469.3 444.7L467 445L466.6 445.9ZM454.7 447.4L455.8 447.7L458 447.2L464 445L465.9 443.7L467 439.9L466.6 438.4L465.5 438.2L462.5 440.5L460.4 436.2L461.2 433.2L462.5 432.1L466.3 434.8L467.6 433.2L467 431L462.7 426.5L462.8 425.7L464.8 424.7L467 424.9L468.3 428L469.3 428.7L472.5 426.5L472.3 425.5L468.8 422L467.1 418.2L462.5 416.9L462 412.2L462.5 411.6L463.3 411.9L467.4 414.5L468.5 417.3L470 418.2L471.3 421.2L472.3 421.6L473.2 421.2L474.6 418.2L476.5 416L470.2 413L470.8 412.2L471 409.2L470 405.6L465.5 405.3L463.8 403.2L467.3 401.7L468.8 398L470.1 397.2L471.3 394.2L472.3 393.6L476.8 395.9L480.5 400.4L485.7 400.5L486.2 399.5L480.5 398.3L480 395.7L478.2 393.9L478.1 392.7L478.8 392L481.2 391L482.4 389.7L478.9 382.3L476 380.8L473 382.5L472.3 382.5L471.8 381.5L471.4 379.3L472.1 378.5L479.9 376.3L479 375.2L476 375.8L473.6 372.5L470.8 370.8L470.8 368.7L471.8 367.3L473.3 366.5L473.3 365.8L470.3 362.8L470.1 359.8L469.3 359.1L464.4 359.8L464.8 361L467 361.5L468.3 362.8L466.3 364.7L464.8 363.8L464 361.4L462.5 361.3L461 362.4L459.5 364.8L455.8 364.7L452.2 366.5L452.8 367.8L454.3 368.4L456.5 368.4L459.5 366.8L465.5 369.1L468 371.8L470.1 376.3L469.6 377L466.3 378.6L464.8 378.2L463.9 376.3L464.2 371.8L463.7 371L462.5 370.8L460.7 373.3L461.3 376.3L460.3 377.5L456.5 377.6L455 377.4L454.4 376.3L453.5 376L452 376.3L452.8 377.7L454.3 378.5L454.3 379.3L458 381.5L459.2 384.5L461 386.7L461.1 389.7L459.5 391.3L455.8 392.1L454.5 393.5L453.2 400.2L453.5 403.2L454.9 406.2L452.8 407.1L452 406.6L451.5 403.2L449.8 402.1L446.6 406.2L447.9 410.7L452.8 412.7L455.1 416L455 417.4L452.8 418.7L450 416.7L448.6 415.2L446.8 411.6L444.8 410.7L443 408.8L439.3 408.7L437.7 410L439.3 414.4L442.3 413.5L443.8 413.8L445.3 416.8L447 419L446.5 422L442.3 424.7L441.9 426.5L442.3 427.3L446 430.2L448.3 425.1L449.8 424.7L451 426.5L451.1 429.4L450.5 431.6L448.4 433.9L447.3 436.9L443.8 438.4L443.6 439.9L446 441.9L446.8 441.9L447.8 441.4L449 438.6L452.8 437.3L454.3 438.2L458 442.9L457.2 444.4L453.6 445.9L453.5 446.7ZM458.8 410.9L457.7 410L458 408.5L459.5 407.9L460.9 408.5L461.4 409.2L461.3 410.7L459.5 411.3ZM465.5 395.1L464.6 392.7L465.1 391.2L466.3 390.6L468.3 392.7L467 394.9L466.3 395.4ZM459.5 404L458.1 403.2L457.7 400.2L458.1 398L459.5 396.8L461 398.6L461.4 400.2L461.1 403.2ZM465.5 389.1L464 388.2L463.4 386L464.1 381.5L465.5 380.4L467 380.9L468.3 383L467.8 387.9L467 388.8ZM477 446.7L479 447.3L480.2 446.7L480.3 445.9L479 445.5L477.5 445.7L476.8 445.9ZM491.5 446.7L492.5 446.8L493.4 445.9L493.2 442.9L492.2 442.9L490.7 445.9ZM346.4 445.9L347.2 446.6L348.5 445.9L346.4 442.5L345.3 442.9ZM353 443.7L353.9 444L355.7 442.9L353.2 442.5ZM366.5 443.7L367.5 442.9L366.6 438.7L365.7 442.9ZM481.6 440.7L482.7 441.3L483.1 439.9L482.7 439L479 439.4L476 438.6L475.6 439.2L476 440.4L479 440.1ZM270.3 439.9L270.8 440.3L271.3 439.9L270.8 438.2ZM439 439.2L440.2 439.2L440.1 436.9L439.3 436.2ZM289.4 436.9L290.2 437.3L291.1 436.9L291.6 436.2L291 435.2L290.2 434.9L288.7 436.2ZM494.5 436.9L496.2 437.6L499.1 436.2L497.8 435.4L495.5 435.3L493.7 436.2ZM325.9 436.2L326.9 436.6L328.5 436.2L326.9 435.3ZM470.8 436.2L472.3 436.6L473.5 436.2L473 434.8L472.3 434.7ZM512.2 433.9L512.7 434.3L515.9 433.2L514.4 432.4L512 432.4L511.4 433.2ZM263.9 431.7L265.4 429.4L262.6 427.2L262.2 425.7L268.5 423.5L273 418L277.5 417.4L279 415.8L280.5 415.2L281.2 416L281.7 419L283.5 419.2L285 418.3L285.8 416.7L285.7 413.8L283.5 413.7L282.7 413L286.5 407.6L287.2 407.3L288.4 407.7L291 410.5L293.2 410.9L294.6 410L295.5 407.1L297 406.7L300.3 407L301.6 406.2L300 405.5L296.2 405.7L295.4 403.2L297 400.4L300.7 400.1L303.7 397.5L304.2 396.5L301.5 393.5L301.5 392.7L304.5 391.1L305.5 389.7L305.9 386L304.6 382.3L303.7 381.6L302.2 384.3L300.7 385.2L299.5 384.5L298.6 383L300 381L301.9 380L298.9 376.3L299.4 374.8L300.7 374L303.7 374.2L305.2 373.6L305.8 372.5L305.1 371.8L300.7 370.1L297 372.1L294 371.2L292.9 373.3L294.6 376.3L294 377.4L289.5 378.1L287.2 379.8L284.2 378.7L282 378.9L280.8 380L280.5 383.1L280.3 379.3L279.1 376.3L279.2 373.3L277.5 371.1L276.3 371.8L275.5 373.3L276.4 376.3L273.8 379.4L270.8 380.6L266.3 379.6L263.3 378.2L259.5 378L258.8 378.5L259 380.8L262.5 381.9L263.6 383L261.8 384.9L260.3 385.7L258.8 385.6L258.3 385.2L258 382.9L257.3 382.2L255.9 383L255.8 384.5L255 385.5L251.3 385L249.7 386L249.3 389.7L251 392.7L250.8 394.2L250.5 394.7L246.5 395L245.3 398.2L240.8 401.8L240.8 412.3L241.5 413L240.8 414.5L240.8 417.2L243.8 417.6L246.2 419.7L245.3 421.1L243 422.1L240.8 425.4L240.8 428L243.8 429.6L244.9 429.4L246.2 424.2L247.5 422L252.7 424.2L254.3 426.5L258.8 429.9L261.8 430.5ZM270 407.3L269.1 406.2L270.8 405.9L271.1 406.2L270.8 407.6ZM280.5 391L279.5 389.7L280.5 388.8L281.7 389.7ZM287.2 397.3L285.5 396.5L287.2 395.3L290.5 395.7L290.6 396.5ZM243.8 407.1L243 406.2L244.5 405.3L249.8 406.2L247.5 407ZM249 421.4L248.6 419.7L250.5 416.6L255.5 419.7L250.5 421.7ZM260.3 424.4L258.7 422.7L258.6 419.7L259.7 419L261 416.4L264 415.7L264.5 416.7L264 417.3L261.7 418.2L261.7 423.5L261 424.5ZM522.3 427.2L524.7 426.5L522.4 424.5L521.6 425L521 426.5ZM515.2 424.2L515.7 424.9L517.3 423.5L517.3 422.7L515.7 421.1L514.4 422.7ZM279.6 423.5L281.2 423.8L282.2 422.7L281.7 420.5L280.5 419.4L279.1 422.7ZM492.2 417.5L493.3 416.7L492.5 415.4L490.9 416L490.7 416.7ZM544.9 417.5L545.7 417.6L546.1 416.7L545.7 415.4L544.1 416ZM285.8 413.7L287.2 413.9L288.8 413L287.2 412L286.5 412.2ZM478.6 413L479 413.6L480.5 413L479 412.2ZM475.5 410.7L476.8 410.8L477.5 410.2L477.6 404.7L479.4 402.5L479 401.7L477.5 402.7L476 402.9L474.9 401.7L473.7 398.7L473 398L471.8 398L471 399.5L470.9 404L471.2 404.7L473.8 405.8ZM532.1 410L532.6 409.2L532.2 406ZM308.7 406.2L310.5 406.8L310.8 406.2L310.5 405.2ZM449.7 398.7L451.3 398.2L452 396.5L451.3 395L449.8 394.4L448.4 395L447.4 396.5L448.3 398.5ZM432.1 398L433.3 398.2L434.8 397.4L435.3 396.5L434.9 395.7L433.3 394.8L431.1 395.2L430.5 396.5ZM548.6 396.5L551.9 396.5L549.4 395.7ZM242.6 393.5L243.8 394.1L245.1 393.5L244.9 392L243.8 390.8L242.2 391.2ZM508.8 390.5L510 389.7L509 388.5L508.2 389.7ZM326.9 388.2L327.9 386.7L326.9 385.5L326.3 386.7ZM518.5 388.2L519.4 387.9L520 386.7L520 386L518.7 385.2L517.5 386L517.5 386.7ZM451.7 386.7L455.8 387.3L456.9 386.7L452.8 384.9L451.6 386ZM320.1 383L321.4 382.3L322.2 380L320.2 377.4L318 378.2L317.3 379.3L318 380.9ZM508 383L509 383.6L510 383L509 382.1ZM308.1 380.8L310.5 380.8L310.5 378.9L306.6 379.3L306.1 380ZM491.7 380.8L492.5 381.4L493.4 380L493.1 379.3L491.7 379.3L491.3 380ZM441.7 380L442.3 380.7L443 380.5L443.1 379.3L442.3 379ZM257 377.8L258.4 377.8L258.6 377L258.5 376.3L257.3 375.5L255.9 376.3ZM485.1 377.8L485.7 378.1L486.9 376.3L485.7 375.6L483.9 376.3ZM412.7 377L413.1 377.6L413.9 376.3L413.1 375.4L412.4 376.3ZM505.7 377L506 377.6L507.5 376.3L506 375.4ZM283.8 374L287.2 374.6L288.3 373.3L287.2 371.8L283.5 370.1L282.4 373.3ZM308.9 370.3L310.5 370.8L311.5 369.5L309.7 369.1L308.6 369.5ZM475.4 370.3L476 370.7L477.4 369.5L476 368L475.3 368.8ZM501.5 364.3L502.2 364.8L503.4 363.5L503 362L502.2 361.3L500.7 361.9L500.4 362.8ZM439.1 363.5L439.3 363.9L440 363.6L440 362.5L439.3 362.2ZM474.6 363.5L476 364.2L476 362L474.6 362.8ZM445.3 360.5L446 361.2L447.5 359.8L446.8 357.9L446 357.4L444.7 359.8ZM478.6 360.5L480.6 359.8L479.8 356L479 355.4L477.7 356.8L477.3 359L477.5 360ZM487.4 360.5L489.5 360.7L491.3 359.8L491.2 356.8L490.2 355.5L488.7 355.3L487.7 356L486.9 358.3L485.7 359.8ZM459.1 357.5L459.5 358L460.2 357.5L460.8 356L459.5 355.5L458.8 355.8L458.6 356.8ZM455.6 353.8L456.5 353.7L457 353L455.8 352.1L454.7 353ZM462.2 353.8L462.5 354.3L463.5 353L462.5 352.1ZM468.4 350.8L469.3 351.5L470 351.2L472.4 350L472.4 349.3L470 348.6L468.5 348.8L467.9 349.3ZM472.8 341L474.2 340.3L474.4 339.5L472.3 339L470.2 339.5ZM482.4 341L484.2 339.5L482.7 337.1L482 337.1L480.6 339.5ZM465.3 340.3L466.3 340.7L468.3 339.5L466.2 338.8L464.9 339.5ZM482.7 335.1L483.5 334.1L485.8 333.6L486.2 332.8L485.7 331.7L482.5 332.8ZM492 333.6L494.1 333.6L494.2 332.8L492.5 332L491.8 332.8ZM508.9 331.3L509.9 329.8L509 328.8L508 329.8ZM478.7 327.6L479 328L479.7 327.7L480.5 326.8L480.6 326.1L479.7 325.3L478.2 326.1ZM422.6 324.6L423.5 323.1L422.8 322L421.2 323.1ZM510.6 321.6L512.7 321.9L513.5 321.3L513.7 318.6L512.7 317.1L509.6 319.3L509.3 320.1ZM524.8 318.6L525.4 318.9L526.2 318.4L527.1 316.3L525.4 313.9L524.1 316.3ZM488.7 307.3L489.5 307.7L490.5 306.6L489.5 305.7L488.7 305.8L488 306.6ZM395.4 306.6L396.6 307L397.1 306.6L396.6 304.3L395.7 304.3L395.3 305.1ZM431.4 306.6L432.6 307.1L433.3 306.9L433.3 305.2L432.6 304.5ZM243.1 303.6L243.8 304.1L244.8 303.6L245.1 302.8L244.8 300.6L244.2 299.8L241.5 299.2L240.8 296.7L240.8 300L242.2 300.6L242.5 302.8ZM335.9 303.6L336.7 304.2L340.5 302.8L339.7 301.7L337.4 302L335.8 302.8ZM283.2 297.6L284.2 298.1L284.9 296.8L284.2 295L283.5 295.2L283 296.1ZM380 297.6L381.1 296.8L381.2 296.1L380.1 295.1L378.9 296.1L378.9 296.8ZM409 297.6L410.1 297.9L410.7 296.8L410.5 296.1L408.8 296.1L408.5 296.8ZM335.5 296.1L336.7 296.4L338.6 293.1L334.3 293.1L334.7 295.3Z"/>
</g>
<clipPath id="c11"><rect x="652" y="293.1" width="314.6" height="179.8"/></clipPath>
<g clip-path="url(#c11)">
<rect x="652" y="293.1" width="314.6" height="179.8" fill="#19240f"/>
<path fill="#cf8c57" fill-rule="evenodd" d="M652 472.9L933.1 472.9L931.3 469.2L933.6 467.6L935.1 469.9L934.6 472.9L966.6 472.9L966.6 417.9L965.9 416.7L966.6 415.3L966.6 333.9L966 332.8L966.6 332L966.6 293.1L652 293.1L652 340.1L657.6 338.8L658.7 337.3L658.8 341L657 342.5L657.1 343.3L661.7 343L668.5 344.8L672.2 347.9L675.2 346.8L679 350.8L682.2 348.5L683.1 344.8L685 343.6L687.2 344.1L688.7 345.5L691.7 345.2L694.7 345.7L696.9 348.4L698.4 349.3L701.4 346.6L702.2 346.9L705.2 349.3L707.2 350L707 353L707.9 353.8L711.9 355.3L714.9 354.5L721.7 359.9L724.7 359.5L723.4 360.5L723.2 363.5L721 366.5L721.2 369.5L724.7 370.9L727.7 368.4L728.4 368.1L729.6 368.8L730 370.3L729.1 374.8L728.4 375.6L725.4 375.7L724.7 376.4L725.4 377.7L731.4 378.4L733.2 379.3L733.2 380L731.4 382.6L727.7 381.2L724.7 381.9L723.4 386.7L722.1 389L720.9 389.6L718.7 389.1L718.1 389.7L719.5 392.7L718.7 393.8L714.9 393.1L708.2 390L701.4 388.4L699.2 389.7L698.4 391.3L694.7 391L692.6 388.2L689.6 386.7L689.3 383L688.7 381.9L688 381.9L686.6 383L685.9 386L685 386.1L683.6 383L680.1 381.5L679 379.3L676.6 377L675.2 373.6L671.5 375.5L671.4 372.5L673 371.8L674 370.3L673.8 369.5L672.2 368.5L670.7 368.6L669.2 370.3L667.5 371L666.9 373.3L665.5 374.5L662.2 372.5L660.5 369.5L662.5 369.1L665.5 370L666.2 369.5L666.5 366.5L667.4 365L672.2 364.6L674.8 362.8L671.5 359.3L668.5 361.7L664 362.2L664 359.7L666.7 356.8L666.6 356L665.5 354.9L663.1 356L659.8 359L659.6 359.8L661.7 362.2L663.8 362.8L661.7 363.2L660.6 364.3L658.7 367.8L657.2 366.3L655.7 360.2L655 360.3L652 362.8ZM724.7 401.2L723.4 399.5L723.8 398L724.7 397.3L725.8 398L726.7 399.5L726.2 400.5ZM771.1 350.8L769.8 350L771.1 349.3L771.9 350ZM810.8 327L810.4 326.1L810.8 324.6L811.7 326.1ZM816.8 296.9L815.9 296.1L817.5 295.2L818.6 296.1L817.5 297.2ZM837 453.5L836.3 452.7L837.8 452.3L837.8 453.4ZM856.5 459.5L856.4 456.4L857.2 455.6L857.9 456.4L858.1 459.4L857.2 460.1ZM860.2 311.4L858.3 309.6L860.2 308.2L861 308.4L861.8 309.6L861.1 311.1ZM864 301.5L862 299.8L864 298.5L864.8 299.8ZM866.2 356.9L866.1 356L867 354.8L870.1 356L869.9 356.8L867.7 357.5ZM870.7 367.5L870 366.5L870.7 365.2L871.5 366.5ZM880.5 389.4L879.7 388.2L877 386.7L876.9 386L877.5 385.6L881.2 385.7L882 385.2L882.8 382.3L884.2 381.4L885.7 383L885 385.1L884.2 386.1L881.3 387.5ZM884.2 395L883.5 395L882.4 393.5L882.5 392.7L883.5 392.1L885 392.7L885 394ZM887.2 390.6L886.5 389.7L887.2 388.7L888.8 389.7ZM889.4 377.1L888.5 376.3L889.4 375.9L892.5 376.3L891.7 377.3ZM890.2 464.1L889.5 462.4L890.2 460.2L891 460.9L891.5 463.2L890.9 464ZM896.2 446.9L895.7 445.9L896.9 443.6L897.7 444.1L898.2 445.9L897.7 447L896.9 447.3ZM899.2 407.3L896.5 404L895.6 401L892.4 400.6L891.6 399.5L894.8 394.2L894.5 391.2L892.4 389.7L892.7 386.7L893.9 385.6L895.1 386L898.9 389.7L898.2 397.2L896.2 399.4L896.1 400.2L896.9 400.8L899.9 399.7L902.1 403.2L901.4 407ZM900.7 463.5L900 463.2L900.4 462.4L903.7 461.3L904.9 462.4L904.9 463.2L903.7 463.9ZM905.2 430.3L904.2 429.4L906.3 426.5L907.4 426.1L909.2 429.4L907.4 430.4ZM910.4 457.3L909.3 456.4L910.4 455.3L911.1 456.4ZM919.4 470.3L918.4 469.2L919.8 466.9L920.9 466.9L923.2 468L923.6 469.2L923.2 470.1L920.2 470.6ZM926.9 409.8L925.4 408.2L923.2 407.2L922.5 406.2L923.2 402.9L923.9 402.8L925.3 404.7L928.4 406.2ZM933.6 393.6L932.6 392.7L933.6 390.8L934.4 392.7ZM935.9 387L935.4 386.7L935.8 386L937.4 386L937.4 386.8ZM943.4 446.8L943 445.9L943.4 442.8L943.9 445.9ZM949.4 366.5L950.1 365.2L951.6 366.5L950.1 367ZM953.1 447.3L952.4 446.7L953.1 445.6L956.2 445.9L955.9 446.7ZM962.9 410L962.9 409L963.6 408.5L964.4 409.2L964.2 410ZM667 323.3L666.4 323.1L668.5 320.9L669.7 323.1L668.5 323.6ZM678.2 324.3L677.4 323.1L678.2 322.1L680.2 323.1L679 324.3ZM698.4 338.6L697.7 336.6L698.4 336.1L701.4 335.3L703.4 336.6L699.2 337.8ZM710.4 336.6L711.9 335.8L712.7 336.6L711.9 337ZM723.9 394.3L723.2 392.7L726.6 390.5L728.4 386.7L731.4 387.7L734.4 386.4L735.9 387.6L739.6 388.7L740.7 389.7L740.1 392L738.1 394.1L736.9 392L735.1 390.6L734.4 390.5L731.4 394.4L726.2 394.9ZM744.9 327.8L743.8 326.8L743.9 326.1L744.9 325.7L745.6 326.8ZM810.8 313.5L810.8 312.5L812.9 313.3ZM824.3 317.5L823.4 316.3L824.3 315.1L825.9 316.3ZM850.5 316.9L850 316.3L850.5 315.6L853.5 316.3ZM857.2 427.8L856.4 426.5L857.2 425.1L858.4 425.7L858.6 426.5ZM867 317L865.4 313.3L867 311L868.5 311.7L869.5 313.3L868.5 315.5ZM870 320.9L868.7 320.1L868.5 319.3L869.2 318.6L873.7 318.3L875.1 319.3L875.2 320.1L874.5 320.8ZM876.7 361.4L875.7 359.8L877.5 357L879.2 359.8L877.5 361.9ZM887.2 371.1L883.5 369.9L882.7 368L879.6 366.5L880 365.8L883.5 365.9L887.2 363.6L888.7 364L890 367.3L892.6 369.5L891.7 370.6ZM899.9 379.6L897.7 377.3L895.5 376.3L899.9 373.7L900.7 373.8L902.8 376.3L901.3 379.3L900.7 379.8ZM903.7 454L902.7 452.7L902.6 449.7L903.7 449.3L904.5 449.7ZM918.7 423.5L917.9 422.7L918.3 419L918.7 418L920.2 417.2L921.7 419L921.8 422.7L920.2 424.2ZM923.2 437.4L922.6 436.2L923.2 435.4L923.9 435.2L925.7 436.2L923.9 437.7ZM933.6 330L932.9 329.1L933.1 326.8L933.6 326.3L934.4 329.1L934.3 329.8ZM943.4 407.5L942.5 406.2L943.4 405.3L945.1 406.2ZM946.4 426.6L946.2 423.5L947.1 423.1L947.1 425.9ZM953.1 331.5L952.6 329.8L953.1 329.1L953.8 329.8ZM963.6 347.1L962.3 346.3L962.9 345.6L963.6 345.5L964.1 346.3ZM697.7 329.9L698.4 327.5L699.6 329.8L698.4 330.4ZM733.6 367.3L732.3 365.8L732.1 362.8L731 359.8L731.4 359.1L734.4 359.8L735.1 361.4L735.1 366.7L734.4 367.7ZM738.1 384.1L737.2 383L738.1 380.7L739.4 383ZM857.2 300.7L855.9 299.8L857.2 298.8L858.9 299.8ZM877.5 355.9L875.2 353L876 352.3L877.5 351.3L881.5 352.3L881.8 353L881.3 353.8L879 354.6ZM883.5 358.5L883.5 355.9L885.3 356L885.3 356.8L884.2 358.5ZM890.2 393.8L889.5 392.7L890.2 391.4L890.9 391.5L891.5 392.7L890.9 393.7ZM896.9 414.8L895.5 410.7L893.9 410L893.9 409L897.1 409.2L898.8 413ZM893.2 364.4L891.6 363.5L891.6 362.8L893.9 361.9L894.7 362.3L895 363.5L893.9 364.5ZM896.2 371.1L895.4 370.9L894.9 369.5L896.9 367.2L900.4 369.5L899.9 371.3ZM903.7 414.8L902.3 413L902.8 408.5L903.7 408.1L907.4 408.7L910.7 407L911.1 406.2L909.7 404.7L904.8 403.2L905 402.5L906.7 401.2L909.7 401.9L911.2 401.7L913.2 400.2L914.2 398.2L917.2 397.7L917.7 399.5L916.6 403.2L916.8 406.2L912.7 409L911.2 410.7L906.7 411.7L905.3 413L904.7 414.5ZM943.4 317.4L941.8 316.3L943.4 311L944.8 313.3L944.4 316.3ZM962.9 340L962.4 339.5L962.8 338.8L963.6 338.5L964.1 339.5ZM896.9 358.5L895.9 355.3L889.4 355.1L887.2 351.9L883.1 350.8L877.5 344.1L873.7 345L873.1 340.3L873.7 338.6L877.5 337.8L878.4 335.8L881.1 333.6L882 332.1L886.5 331.2L889.4 329.8L887.2 328.5L885.7 325.1L882.5 323.8L882.3 320.1L883.5 318.9L885.3 319.3L888 323.6L892.3 325.3L892.6 326.8L890.7 329.8L894.7 331.7L897.2 337.3L900.7 338.7L906.7 337.1L907.4 337.4L908.7 339.5L907 341L900.7 341.2L900.2 341.8L899.9 343.3L904.8 346.3L903.7 348.4L900.7 348.6L899.5 349.3L899.9 350.7L902.2 351.4L903.1 352.3L903.2 356L902.5 357.5L900.7 358.7ZM902.9 397.4L902.1 396.5L903.4 392.7L901.3 389.7L901.1 386.7L905.3 383.7L906.3 377L906.7 376.2L907.4 376.2L910.4 379.3L909 383L910.4 383.9L913.4 383.6L915.9 386L910.4 388.9L907.4 389.1L906.6 389.7L908.9 390.8L910.1 394.2L912.3 395.7L912.7 396.6L910.4 397.1L906.7 395.8L905.1 397.2ZM916.4 350.5L916.1 348.5L916.4 347.7L917.2 347.4L917.8 350L917.2 350.7ZM873.7 335.5L872.1 333.6L872.7 329.8L873.7 328.7L876 328.6L876.2 329.8L875.3 334.3ZM876.7 328.4L876.1 323.1L876.7 321.9L877.5 321.8L878.5 322.3L879.7 324.5L881.7 326.1L880.5 328ZM883.5 304L882.6 302.8L883.5 301.6L884.7 302.8L884.2 303.9ZM894.7 309.9L894.7 308L895.4 307.2L896.9 306.9L897.7 309.7L896.9 310.3ZM900.7 333.2L897.9 329.8L898.1 328.3L901.4 327.7L902.8 326.1L904.7 326.1L905.3 326.8L903.7 328.1L902.6 328.3ZM902.9 367.4L902.1 366.5L902.8 365L906.7 363.5L907.4 363.5L909.4 365.8L909.4 366.5L906.7 367.7ZM913.4 333.1L911.8 329.8L913 328.3L914.2 328.1L915.4 329.8L914.5 332.8ZM917.2 344L916.8 343.3L917.2 343.1L920.2 342.1L920.5 342.5L920.3 343.3ZM879.7 313.5L878.1 309.6L880.5 309.1L881.5 310.3L881.5 312.6L880.5 313.8ZM906.7 357.6L904.6 356.8L904.4 356L905.2 355.2L909.7 355.2L911 356L910.4 357.7ZM909.7 323.4L909 323.1L910.4 321.4L910.9 323.1ZM714.5 361.3L715.4 361.3L716.7 359.8L716.5 358.3L715.7 357.7L714.9 357.6L713.7 359L713.5 359.8ZM896.1 354.5L896.9 355.1L897.7 354.3L898.3 353L897.7 352.3L896.9 352.1L896.2 352.8ZM654.9 353.8L656.2 353.8L657.2 353L655 352.3L654.4 353ZM687.5 350L691.7 350.2L692 349.3L691.7 348.6L688.7 347.6L686.8 349.3ZM886.9 347L887.2 347.5L890.2 347.6L891 346.3L890.2 343.9L888 343L886.6 343.3ZM896.6 347L896.9 347.6L898.1 347L898.3 346.3L897.8 345.5L896.9 345.3L896.3 346.3ZM653.6 346.3L655 346.8L655.7 346.5L655.7 344.4L655 344.5ZM889 342.5L890.2 342.8L895.5 339.5L893.2 338L890.2 334.8L887.2 333.9L883.5 335.1L882.2 335.8L881.2 337.8L878.2 338.6L878.5 341L880.5 342.4L882 341.8L884.2 339.1L887.2 338L888.4 339.5Z"/>
<path fill="#86a994" fill-rule="evenodd" d="M652.5 472.9L667 472.9L665.5 471.7L661.7 471.1L658.7 471.6L655.4 469.9L654.4 466.2L655 465.4L657.2 465.1L657.7 463.2L657.2 458.9L655.7 456.9L654.2 457.2L652 459.4L653.1 463.2L652 464.1L652 472.3ZM678.7 472.9L689.6 472.9L691.7 470.2L693.5 470.7L694.2 472.9L696.7 472.9L698.4 471.8L699 472.9L722.1 472.9L725.4 471.9L726 472.2L725.9 472.9L736.6 472.3L737.4 468.9L741.1 467.3L742.1 467.7L743.1 469.2L742.2 472.9L746.3 472.9L747.9 470.1L749.7 472.9L754.1 472.9L754.6 468.4L756.1 466.2L758.4 464.7L760.7 466.2L759.5 469.2L759.7 469.9L761.4 470.2L762.1 466.7L764.4 465.7L766 467.7L768.2 469.2L768.6 469.9L768.1 471.9L764 472.9L773.8 472.9L774.8 471.7L775.4 472.9L787.1 472.9L787.6 472.5L788.1 472.9L804.2 472.9L803.4 469.9L803.8 469.2L804.8 469.1L805.6 470.3L807.1 470.8L808.7 469.9L807.8 468.5L805.8 467.7L805.3 464.7L803.9 463.2L804.1 462.4L806 460.9L807.1 454.3L807.8 453.8L808.6 451.9L810.8 451.1L812.3 451.4L813.2 452.7L811.9 454.9L809.3 457.2L808.4 462.4L811.7 466.2L813.8 467.2L816 467.1L816.5 466.2L811.8 465.4L811.9 462.4L813.8 459.1L815.2 459.4L818.3 463.4L823.5 463.7L823.8 459.4L825.8 458.2L827.3 454.9L828 454.8L829.5 454.9L831.3 457.9L831.5 459.4L830.8 463.2L828 466.9L826.5 468L825.9 469.9L825 470.6L823.5 470.6L820.5 469.1L817.5 468.9L816.8 471.1L813.8 471.5L811 472.9L827.1 472.9L827.3 472.4L827.8 472.9L858.9 472.9L856.5 471L856 469.9L857.2 467.2L861 469.9L867 468L868.9 466.2L866.1 464.7L864 461.3L861 461.2L857.2 464.2L851.5 463.2L850.5 459.6L849.7 460L847.3 462.4L848.8 463.9L849.1 466.2L850.8 469.9L850.5 470.5L847.5 470.6L845.5 469.9L844.5 467.6L843.8 467.4L840.8 468.5L838.4 467.7L837.8 466.2L840.4 463.2L840.3 462.4L837.2 459.4L837.5 456.4L832.5 455.9L830.3 454.3L830.6 449.7L831 449.1L833.3 450.1L835 449.7L832.8 446.7L833.5 445.9L835.7 445.2L837 442.8L839.9 441.4L840.8 440.1L841.7 443.7L843.8 446.7L845.3 445.2L847.5 444.4L849.9 445.2L852 447.6L856.5 448.6L856.4 451.2L855.7 451.7L850.5 451.1L849 452.9L847.5 453.5L845.3 450.7L843 450.1L840.8 448.5L840 448.9L839.4 449.7L840.8 454.1L844.5 455L845.3 455.7L844.9 457.9L842.8 459.4L843.8 461.3L846.8 461.1L847.5 459.4L849 459.4L849.7 458.7L849.8 455.7L850.5 454.2L854.2 454L857.2 452.3L859.8 453.4L860.4 456.4L861.7 457.8L864 458.2L867 457.9L870.7 458.7L873.7 458.4L875.2 459.1L875.2 460.3L873.7 462.2L870.7 461.3L869.7 462.4L870 464.5L872.2 465.3L873 466.2L873.3 469.2L872.5 470.7L869.3 472.9L874.8 472.9L876 470.7L880.5 470.2L883.5 467.1L887.2 469L889.4 469.4L892.4 472.9L899.7 472.9L900.7 472L902 472.9L904 472.9L905.2 471.2L907.4 469.9L907.4 469.2L904.4 465.5L899.2 465.4L896.9 464.5L895.8 468.4L893.9 468.9L890.9 468.6L890.4 466.2L888.8 464.7L887.5 460.9L885.6 459.4L887.1 456.4L887 455.7L885.7 454.4L883.1 453.4L883.3 451.9L885 450.8L885.5 449.7L885.9 446.7L889 442.9L888 441.5L885.3 439.9L886.5 438.5L889.4 437.3L890.1 436.2L886.4 433.2L886.6 432.4L890.2 430.9L891.4 429.4L890.9 427.9L888 426L886.5 425.7L883.5 426.9L883.1 425.7L884.2 424.4L884.7 422L885.7 420.7L890.9 419.7L889.5 417.5L889.2 413L890.9 410.5L890.9 409.2L888.7 408.1L887.2 406L886.1 406.2L886.1 410L885.5 413L884.5 415.2L883.5 416L882.5 415.2L882.2 412.2L880.5 407.6L879 409.3L878.1 414.5L877.5 415.2L876.7 415.2L875.2 414.2L874.4 413L872.2 412.2L869.4 405.5L866.6 404L866.7 401.7L868.5 400.6L868.8 399.5L865.1 398L864 396.3L860.4 393.5L858.7 391.1L857.2 390.5L851.5 392.7L853.9 396.5L850.5 400.4L847.5 397.3L845.7 396.5L843.8 394.1L843.7 392.7L844.5 391.9L846 388.4L847.5 387.8L848.5 388.2L850.3 389.7L850.5 390.9L854.2 384L857.2 385.7L858.8 388.2L860.2 388.8L862.5 388.6L863.5 385.2L864.9 384.5L865.2 383L866.2 381.7L867.7 381.2L868.9 382.3L868.8 383.7L867.7 384.8L865.6 385.2L864.7 388.2L863.4 389.7L865 390.5L867 393.9L870.7 393L872.2 394.2L873.3 396.5L874.5 396.5L876.1 389.7L874.3 386.7L873.1 383L875.2 380.8L875.4 379.3L874.5 378.3L873 378.2L871.9 378.5L870.7 380.2L869.2 378.2L865.5 377.5L862.8 376.3L867 374.1L868.5 374.5L870.7 376.5L872.9 371.8L874.5 371L875.7 369.5L874.3 365.8L874.2 362.8L873.7 362.1L872.8 362.8L873.6 365.8L873 368.4L871.5 370.4L870 370.5L868.7 368.8L868.3 364.3L867.6 362.8L868.5 361.7L871.5 360.7L871.5 359.4L867 359.8L866.2 361.4L863.2 361.3L861.1 358.3L857.2 358.2L855.4 356.8L855.3 356L858.3 353L857.6 351.5L854.2 348.8L850.5 347.2L846.3 346.3L845.8 344L844.5 342.6L843.8 342.4L837.8 344.5L837 344.4L835.9 336.6L835.5 335.8L834 335.2L833 332.8L834 330.8L836 330.6L836.2 329.8L835.5 328.8L833.8 328.3L831 324.6L830.3 324.5L829.1 325.3L828 329.6L824.3 328.7L822 331.4L819.8 331.8L818.3 331.3L818.2 329.8L821.5 326.8L821.6 326.1L820.5 324.6L817.2 323.1L821.3 322.4L824.3 323.7L831 321.6L832.7 319.3L832.9 315.6L834 313.9L837.8 314.4L840.3 317.1L844.5 318L845.6 319.3L845.2 320.8L843.8 321.6L840 320.3L838.9 318.6L837.8 318.2L836.3 318.9L835.7 320.1L836.6 323.1L836.9 326.8L838.5 328.9L840.8 329.6L842.1 329.1L843.8 325.2L844.5 325L846.2 326.1L844.8 331.3L843.4 332.8L843.8 333.1L848.2 331.3L850.1 328.3L852.2 326.8L852.6 326.1L850.8 323.1L854.2 322.1L855.7 320.1L855.5 319.3L854.2 318.2L850.5 318.8L849.7 318.5L847.5 315.1L846 314.2L844.8 312.6L840 311.3L838.7 309.6L839.3 305.8L840.8 304.8L844.5 303.9L845.7 300.6L848.1 298.3L848.3 293.1L838.6 293.1L838.1 294.6L836.4 296.1L836.3 297.6L836.8 298.3L837.8 298.3L840.8 297.1L843 299.8L840.8 300.8L837 301.1L836.1 300.6L835.5 299.1L833.7 299.1L833.4 301.3L834.8 302.1L835.8 303.6L836 307.3L834 308.8L830.3 308.7L828.7 311.1L826.2 312.6L826.2 313.3L828.2 314.8L828.9 316.3L828.2 317.8L824.3 321.2L820.5 314.3L804.1 317.7L801.1 317.2L800.3 314.8L797.3 313.8L795.7 311.1L794.3 310.3L792.9 311.8L791.3 315.7L789.1 314.2L786.4 313.3L785.9 312.6L785.1 309.6L785.3 306.6L789.1 305.2L791.5 302.8L789.8 301.3L785.8 299.8L788.3 297.5L789.8 294.9L791.3 294.5L793.1 295.3L793.6 296.8L793.3 299.8L794.3 300.7L795.6 298.3L801.8 296.3L804.1 293.7L805.5 294.6L807.1 297.1L810.8 298L811.8 296.1L814.9 293.1L800.1 293.1L798.1 294L795.7 293.1L776 293.1L774.8 296.7L774.1 296.7L771.8 293.1L765.4 293.1L764.4 294.6L761.1 293.1L752.3 293.1L754.2 296.1L753.9 296.9L751.6 297.8L750 296.8L748.9 293.1L747.5 293.1L744.9 294.7L743.7 293.1L737.2 293.1L739.1 295.3L739.6 298.4L740.3 299.1L743.4 299.8L741.1 300.3L737.1 299.1L734.4 296.1L731.4 298.1L730.2 297.6L729.8 296.8L732.1 294.6L732.6 293.1L724.7 293.1L725.9 296.1L725.7 296.8L724.7 297.1L721.4 296.8L721.6 293.1L712.9 293.1L711.9 294.4L708.9 295.2L708.1 296.1L710.5 299.8L709.7 301.1L708.2 301.6L706.1 298.3L702.9 296.1L703.7 295L705.9 294L706.6 293.1L684.5 293.1L683.5 294.9L682 295.8L680.1 293.1L675.7 293.1L671.5 296.6L668.5 297L667.9 296.1L669.4 295.3L669.8 293.1L667.6 293.1L667.5 295.3L664.7 295.9L661.7 297.9L660.2 297.4L659.6 296.1L660.2 295.4L663.2 294.6L663.5 293.1L659.3 293.1L658.7 294.9L657.5 293.1L652 293.1L652.4 296.8L652 297.1L652 310.5L655 311.6L655.7 312.5L657.6 316.3L658 319.4L661.7 321.5L664.7 321L666.1 320.1L665.5 316.1L661.7 317.2L660.4 316.3L661.7 309.9L663.1 311.1L665.5 311.5L668.5 311.4L672.6 310.3L673.1 315.6L673 323.1L671.5 325L666.7 326.1L666.7 327.6L668.5 329.4L672.2 328L676 328.5L676.9 329.1L678.2 331L679 331L680 329.8L680.6 327.6L682 327.3L683.1 329.8L683 333.6L684.2 334.6L687.3 334.3L689 329.8L687.4 326.8L688.3 325.3L693.8 326.8L694.2 330.6L694.7 331.3L695.4 331.4L695.7 329.1L695.1 326.8L697.7 324.4L698.4 323.9L700.7 327.8L701.4 328.6L702.2 328.6L704 325.3L707.7 323.1L707.6 316.3L705.2 313.5L704.1 314.1L702.2 317.6L699.9 318.6L698.4 321.6L695.4 320.2L688.7 321.5L683.5 320.4L681.2 316.3L685 312.6L688.7 311.7L690.6 310.3L690.8 309.6L689.1 306.6L689.7 305.8L691.7 305.2L693.2 305.7L694.2 308.8L695.4 309.5L698.4 309L699.9 308.1L701.4 304.3L705.9 305.6L706.8 306.6L703.8 308.8L703.3 309.6L703.7 310.9L705.2 312.5L708.2 311L710.4 312L711.5 313.3L710 316.3L711.2 318L713.1 316.3L712.2 313.3L714.2 312.2L715.7 312.3L716.2 313.3L716.8 319.3L715.7 320.8L713.4 321.7L712.8 323.1L714.6 326.8L711.2 330.2L706.7 331.9L705.6 332.8L705.9 333.7L708.2 335.2L713.4 333.6L715.7 331.6L717.9 330.6L720.2 331L722.1 336.6L721.7 339L720.2 344L717.2 344.7L716.3 346.3L717.2 348.4L720.2 350.6L721.7 351.1L724.7 351.3L727 350L726.9 349.1L723.9 348.1L721 346.3L721.7 345L726.2 344.8L727.1 343.3L725.7 339.5L726.5 335.8L725.4 334.1L722.9 332.1L721.7 329.8L725.6 326.8L725.7 326.1L722.3 323.1L726 320.8L726.8 320.1L726.7 319.3L723.9 318L722.8 316.3L723.2 314.1L725.1 313.3L725.5 312.6L724.9 308.1L723.8 308.8L722.9 311.1L721.7 312.3L720.2 311.4L717.9 311.1L717.3 310.3L716.7 306.6L718.7 305.3L722.4 305.2L723.9 304.6L724.7 302.8L727.2 302.1L728.4 299.6L729.9 301.1L731.4 301.4L734.4 300.7L735.7 301.3L736 303.6L735.1 305.8L734.4 306.1L731.4 304.7L729.4 305.1L728.8 305.8L728.9 306.6L732.7 308.8L735.1 311.6L738.1 311.9L744.4 309.6L745.6 308.2L747.9 308L751.6 308.6L754.3 310.3L761.4 311.1L764.4 312.4L769.6 312.1L771.1 311L772.2 313.3L771.9 316.3L776.1 319.3L776.3 320.1L773.3 321.9L771.1 324.1L768.3 320.1L768.5 316.3L765.9 314.7L764.4 314.2L761.4 314.5L757.6 315.7L753.9 315.9L753.1 317.1L753.1 321.3L755.4 321.9L756.1 324L757.6 325.5L763.6 326.1L763.3 326.8L760.6 328L759.1 332.4L757.6 332.3L755.6 329.1L754.6 328.4L753 329.1L751.7 332.8L754.6 338.5L756.1 337.8L758.4 333.9L761.4 333.9L764.4 335.5L764.4 337.8L763.1 341L761.4 342.6L758.4 340.7L754.6 341.6L750.9 340.4L748 336.6L751.4 332.8L748.6 329L747.9 328.8L744.9 332.2L741.1 331.9L740.5 332.8L740.5 334.3L741.1 334.8L744.9 334.6L747.7 336.6L746.6 337.3L745.6 340.5L742.6 341.2L741.4 343.3L743.9 346.3L743.4 350L744.9 350.6L746.1 350L745.4 346.3L746.8 341.8L747.9 341.3L750.1 341.8L750.3 343.3L749.3 346.3L750.8 350L747.1 351.3L746.2 354.5L744.9 355.5L744.1 355.5L741.6 353.8L739.6 349.3L738.1 348.3L736.6 348.1L735.9 345.5L734.4 345.1L733.4 346.3L734.4 348.1L735.9 348.6L736.6 354L738.9 355L740.1 356.8L742.6 357.9L743.7 359L743.8 360.5L742.4 362.8L742.6 363.5L746.4 365L748.8 368.8L748.6 371.4L747.9 371.8L744.9 371.5L743.8 372.5L742.8 374.8L740.6 376.3L741.9 378.2L744.9 379.4L745.6 378.3L747.1 377.5L751.6 377.8L755.4 376.7L756 376.3L755.8 373.3L757.6 371L758.4 371.3L759.1 373.7L761.4 374.4L762.5 372.5L762.6 368.8L761.4 368.2L758.4 369.1L758 368.8L757 366.5L757.6 364.3L762.9 364.4L763.4 362.8L764.4 362L766.5 362.8L766.6 363.5L765.9 364.1L763.6 364.7L763.3 365.8L763.6 367.3L765.9 368.2L767.2 369.5L766.6 376.7L765.9 377.4L759.1 379.4L757.6 382.4L754.6 381.7L752.4 385.2L749.8 386L748.4 390.5L744.9 391.3L744.1 392L743.7 392.7L744 393.5L746.2 395L747 396.5L744.9 403.9L743.3 403.2L743.3 399.5L741.1 398L739.7 399.5L738.9 402.2L735.6 404L733.6 403.7L733.2 403.2L733.5 401.7L735.1 400.8L735.7 399.5L734.4 398.2L731.4 399.8L728.9 403.2L724.7 403.9L723.3 404.7L722.6 406.2L723.7 410L723.2 410.9L721.7 411.2L719.7 410L720.2 406.2L719.9 405.5L718.7 404.3L716.1 403.2L716 399.5L714.9 398.5L713.9 399.5L714.4 403.2L713.5 404.7L711.9 405.4L708.2 405.9L705.9 407.3L704.4 407.2L703.6 406.2L702.8 401.7L702.7 396.5L702.2 395.8L700.7 395.8L698.4 398L695.4 393.9L694.7 394L693.2 395.8L689.5 397.1L688.7 398.3L688 398.1L687.6 392.7L682 385.3L672.2 386.7L667.7 383L668.6 380.8L668.3 379.3L664.2 376.3L660.2 374.7L658.7 372.9L658.5 373.3L657.8 376.3L658.2 377.8L658.7 378.6L662 379.3L661.8 380L658.7 380.7L656.5 383.5L654.2 384.6L652 387.5L652 429.6L654.4 433.2L652 436.3L652 440.1L652.6 442.9L652 444.2L652 452L655.6 449.7L653.4 446.7L653.5 445.2L654.2 444.9L658.7 444.6L661.2 448.2L664.7 448.9L666.1 448.2L666.7 445.9L667.7 445.2L668.5 445L670.3 445.9L671 448.2L674.9 452.7L677.5 453.5L678.6 454.2L678.8 454.9L677.4 460.9L676 462.1L673.2 463.2L675.2 463.9L682 464.7L682.9 466.2L682.4 468.4L679.7 470.3ZM688 467L687.5 466.2L688.7 464.7L690 466.2L688.7 467.3ZM693.9 465.4L692.6 463.2L693.2 462L696.9 461.6L698.4 462.4L697.8 463.9L695.4 466ZM700.7 450.6L700.3 449.7L697.7 448.6L696.4 447.4L696.1 445.9L696.8 445.2L699.2 444.8L702.2 445.9L702.5 449.7L701.4 451ZM705.2 469L704.1 466.2L705.2 465L707.5 466.2ZM708.2 455.4L706.7 452.4L708.1 450.4L709.7 450.3L710.2 449.7L707.4 448.3L706.7 446.7L706.7 442.1L708.2 439.8L710 440.7L710.9 442.2L710.5 448.2L711.9 449.7L710.4 450.5L709.9 454.9ZM711.2 471.8L709.8 469.2L710.4 467.7L711.2 467.3L712.2 467.7L712.9 469.9L711.9 471.9ZM713.4 440L712.9 439.2L714.9 438.4L717.4 439.9ZM720.9 433.6L720.4 433.2L720.6 432.4L721.7 431.8L723.4 432.4L723.2 433.2L721.7 433.9ZM724.7 460.5L723.4 459.4L724.7 458.1L728.2 459.4L726.9 460.2ZM726.2 472L725.9 469.9L726.6 469.2L727.7 468.8L728.9 469.2L729 471.4L728.4 471.9ZM734.4 466.7L732.7 464.7L731.4 461.5L728.8 459.4L731.4 458.8L734.4 459.6L735.9 458.4L738.1 458L739.2 459.4L739.6 461.6L741.1 461.6L744.9 458.9L746.1 459.4L746.3 463.2L744.9 465L741.1 465.1L739.6 463.7L739.1 461.7L738.1 461.6L735.9 466.2L735.1 466.9ZM750.9 460.7L749.6 459.4L751.6 458L753 459.4L751.6 460.8ZM754.6 447L753.9 445.9L754.6 444.9L755.4 444.9L755.9 445.9ZM760.6 455.1L759.7 454.2L759.6 452.7L761.4 452.1L762.4 452.7L762.4 453.4L761.4 455.2ZM761.4 461.1L760.8 459.4L761.4 457.5L762.3 459.4ZM767.4 446.7L766.2 445.9L766.1 445.2L765.8 439.9L766.6 438.1L768.1 436.7L770.7 438.4L772 439.9L771.9 440.7L771.4 442.9L769.6 445.9L768.7 446.7ZM771.1 453.8L770 452.7L771.1 448.7L771.8 448.7L773.5 449.7L772.5 452.7ZM777.8 470.7L776.3 469.9L779.2 468.4L780.8 465L782.2 465.4L782.6 466.9L782.4 469.9L780.8 470.5ZM794.3 465.4L793.8 463.2L794.3 462.2L795.2 463.2ZM804.1 453.7L803.3 449.7L804.1 449L805.4 449.7L806.6 452.7L806.3 453.8ZM810.8 442L809.2 436.9L806.3 435.1L805.5 433.9L804.5 429.4L805.5 426.5L803.3 422.7L804.8 421L805.3 419L801.8 416.7L802 416L804.1 415.1L805.5 416L806.3 418L808.6 418.4L810.8 421.9L811.9 421.2L812.5 418.2L813 417.7L815.3 418L816.9 419.7L815.5 422.7L816.4 426.5L814.7 431.7L813.7 431.7L813.1 430.9L811.9 425.7L810.8 424.4L809.4 426.5L808.4 429.4L810.1 431.7L813.8 433.8L814.5 433.8L816 432.4L821.3 431.5L822.8 431.7L823.5 432.4L823.5 433.2L821.3 435.9L817.5 435.9L813 438.5ZM814.5 448.5L813.8 446.6L815.4 445.2L816.7 442.2L817.5 441.4L820.6 442.9L821.3 444.6L824.3 445.9L820.5 446.4L817.5 448.2ZM819.8 456.7L819 455.7L819 452.6L821.3 451.8L824.3 452L825.3 452.7L824.9 453.4L822.8 454.7L821.3 456.9ZM830.3 436.2L829.5 433.2L830.2 431.7L831 431.3L831.5 433.2L831 435.4ZM843.8 437.2L842.7 436.2L843.4 433.2L840.8 430L837 430.6L834.8 429.9L834 428.8L831 429L827.3 428.3L824.3 429.2L823.3 426.5L824.3 423.9L826.7 422.7L827.5 419.7L828.6 419.7L827.3 420.5L827.5 422.7L828.2 423.5L831 424.3L832.5 423.5L832.6 422.7L830.7 419.7L832.9 416.7L832.9 411.5L834 411L834.8 411.5L835.9 413L836.5 415.2L837.8 416L840.2 413L840 408.8L839.3 407.3L837.8 406.8L834 407.6L832.3 410.7L829.7 411.5L828 414.3L825.3 415.2L823 420.5L822.2 421.2L819.9 421.2L818.4 419.7L819.2 416.7L818.7 411.5L821.3 410.6L823.5 407.9L826.5 407.2L827.8 406.2L826.6 403.2L827.3 402.3L828.3 402.5L829.8 404L837 405.4L839.3 405.2L840.8 403.7L843.8 404.1L847.5 407.6L848.6 407L850.5 403.8L852 404.6L852 406.8L849.7 408.6L849 410.3L845.3 411.5L843.6 413L846.5 416L846.6 417.5L844.5 418.3L840 417.7L838.6 419L838.6 420.5L840 422.4L844.5 422.1L848.2 419L848.6 416.7L850.5 413.8L851.2 413.5L855 414.1L856.3 415.2L856.4 416.7L854.5 420.5L849 419.8L848.4 420.5L848.1 423.5L847.5 424.2L837.8 423.2L835.5 424.2L834.1 426.5L834.1 428L834.8 428.5L838.5 428.6L840.8 429.3L843.8 427.1L845.2 428L846.2 431.7L847.7 433.2L846 434.5L845.6 436.2ZM850.5 440.2L850.5 438.9L851.8 439.2L851.9 439.9ZM865.5 453.5L863.7 451.9L863.2 447.4L860.2 446.9L857.2 448L856.6 447.4L856.4 442.9L855.2 439.2L855.3 436.2L857.2 434.5L858.3 435.4L859 439.2L857.9 442.9L858.7 444.9L862.5 445.7L864 446.6L865.3 445.2L871.1 444.4L871.7 442.9L870.7 441.4L864.6 438.4L863.2 437.1L862 433.2L863.4 429.4L861 427.6L858 431L854.2 431.7L850.5 430.8L849.3 429.4L849.4 426.5L850 425.7L851.2 425.6L853.5 427.4L854.2 427.3L855.7 423.7L860.2 420.1L861 420L864.7 422L867 426.1L867.7 425.6L867.9 422.7L865.5 421.6L865.4 419.7L864.4 417.5L863.2 417.1L861 418.4L858.9 415.2L858 412.4L856.5 410L855.8 407L856 405.5L857.2 404.5L861 405.3L862 406.2L862.8 408.5L865.6 409.2L866.2 410L864.3 412.2L864.4 413.7L868.5 415L872.1 419L871.9 424.2L871.3 426.5L872.6 429.4L872.2 432.4L873.3 434.7L873.8 439.9L876.7 441.3L882.7 441.7L883.9 442.9L882.7 444L879.7 444.7L877.5 446.8L876.7 446.9L873.7 445.3L873 445.5L871.5 447.3L870 448.2L867.7 453.5L867 454ZM876 468.5L874.9 467.7L874.5 466.2L875.2 465.1L877.6 464.7L878.8 466.2L878.5 467.7L877.5 468.6ZM846.8 373.7L846.1 372.5L847.5 372L848 373.3L847.5 374ZM854.2 381.5L849.7 380.9L848.8 380L848.8 379.3L852.7 377.3L854.2 373.2L857.2 372.3L861.5 377.8L861.7 380L860.2 381L857.2 380.4ZM864 371.2L861.9 369.5L862.4 366.5L864 365.9L866.1 369.5L865.5 370.6ZM655 301.5L653.6 299.8L654.2 298.5L655 298.1L656.5 298.6L657.4 299.8ZM659.5 308.9L658 307.9L657.5 306.6L657.8 305.8L664 302.3L666.2 302.5L667.7 305L670.1 305.8L670.2 306.6L669.2 307.4L668.5 307.6L665.5 306.2L661.7 309.5ZM670.7 304.4L670.7 302.7L671.5 301.7L672.2 301.8L673 302.8L672.9 304.3L671.5 305ZM673.7 309.7L673.7 306.6L674.1 305.8L675.2 305.6L675.7 309.6ZM678.2 326.5L676.5 324.6L676.3 321.6L676.9 320.8L678.2 320.5L681.2 320.9L682.5 322.3L682 325.3L680.5 326.6ZM682 307.3L681.2 306.6L682 305.3L685 305.4L685.3 305.8L685.4 306.6ZM687.2 300.6L686.2 299.8L686.4 299.1L689 297.6L689.7 294.6L690.3 293.8L692.8 293.8L696.5 296.1L696.2 297L690.2 298.7L688.7 300.7ZM698.4 301.4L697.7 301L697.3 299.8L697.6 298.3L698.4 298L699 299.8ZM717.9 301.4L714 299.8L717.9 298L719.4 298L720.2 298.6L720.4 299.8L718.7 301.3ZM757.6 307.7L756.3 306.6L757.6 304.8L758.4 304.8L759.8 306.6L758.4 307.7ZM765.1 304.5L764.4 304L763.6 301.3L762.5 299.8L768.1 296.2L768.8 296.8L769.3 299.8L770.3 301.2L775.2 302.8L774.8 303.6L771.1 305.1ZM756.1 321L756 319.3L756.9 317.3L758.4 316.8L759.8 317.8L760.5 319.3L759.9 320.8L757.6 321.4ZM764.4 321.3L763 320.1L763 319.3L764.4 318.1L766.6 318.3L767.7 319.3L766 320.8ZM751.6 375L750.3 374L750.1 373.1L751.6 372.6L753.9 373.3L753.1 374.3ZM657.2 437.7L656.2 436.2L656.4 433.2L658.7 431.9L660.7 436.2L658.7 438.4ZM679.7 454L676.7 452L676 448.3L673.9 446.7L674.2 445.9L677 444.4L678.2 442.9L676.7 441.7L673.7 440.9L668.5 440.2L668 439.2L669.2 438.2L675.2 437.7L678.2 435.2L682 433.9L683.3 436.2L680.6 437.7L679.6 439.9L680.4 441.4L682.7 442.5L683.1 445.9L682.7 449.7L685.9 452.7L684.2 453.7ZM688.7 461.1L687.4 459.4L688.7 457.4L691 459.4L690.2 460.5ZM693.9 457.4L689.9 454.2L689.6 452.7L690.2 451.8L691.7 450.8L694.7 450.8L696.9 451.2L699.2 452.5L697.7 453.8L696.2 457.1ZM701.4 437L697.3 433.2L699.2 431.9L701.4 431.2L702.7 431.7L703.3 433.2L702.3 436.2ZM717.9 427.2L717 426.5L717.9 425.6L719 426.5ZM725.4 454.4L721.7 452.8L721.7 452.3L727.7 451.6L729.8 452.7L729.7 453.4L728.4 454.7ZM734.4 446.8L734.4 445.9L737.4 445L738.2 442.9L738.1 446.4L735.1 447.1ZM740.4 451.2L739.8 450.4L739.9 448.9L743.4 447.2L744.9 445.3L746.3 449.7L744.9 450.9ZM760.6 446.9L758.4 444.9L756.2 444.4L756 439.2L753.4 436.2L754.6 435L757.6 434.6L759.1 435.4L759.5 436.2L759.4 439.9L760.6 441.3L763.8 442.9L763 445.9L761.4 447.2ZM771.1 377.8L769.6 377.4L768.9 376.3L769.6 375.2L771.1 374.4L773.6 376.3ZM776.3 464L775.8 463.2L776.2 460.9L780.4 451.9L781.6 451L782.7 451.9L783.1 458.8L787.6 459.1L791.3 457.4L792.3 459.4L791.3 460.7L786.1 460.8L784.6 463.2L783.1 459.7L782.3 459.3L780.1 459.4L779.6 463.9L777.8 464.5ZM794.3 446.2L790.6 443.7L790.3 442.9L794.3 439.3L797.3 438L798.1 438.2L798.9 439.2L798.2 442.9L795.8 444.3ZM804.1 441L802.6 439.2L804.1 437.8L804.8 438.2L805.1 439.2L804.8 440.5ZM804.1 344.2L799.3 340.3L799.6 338.1L801.1 336.8L804.1 337.6L806.8 339.5L805.4 343.3ZM807.1 394L806.4 392.7L807.1 392.2L807.8 392L808.9 392.7L807.8 394.2ZM810 416.7L808.9 413L809.3 412.5L811.5 412L814.9 413L812.8 414.5L811.5 417.4ZM817.5 410.5L813.8 405.9L812.7 403.2L813.8 401.1L817.5 398.8L820.5 400L821.9 403.2L819.6 406.2L818.3 410ZM834 393.5L833.3 392.7L832.5 387.7L831.8 387.1L829.5 387.5L827.3 388.8L823.5 389.2L822.6 389.7L822.3 391.2L821.3 392.1L820.5 391.5L819.4 388.2L814.5 387.5L813.6 386.7L813.8 385L814.5 384.2L816.8 384.8L819 384.7L820.5 382.6L821.3 382.7L822 384.3L822.8 384.6L825 384.7L826.7 383.7L826.7 380.8L824.3 378.7L822.8 374.1L817.9 373.3L822.8 372.2L823.5 371.7L824.3 368.9L825 368.6L827.3 368L827.7 368.8L828.1 370.3L827.6 373.3L831 374.8L837 374.4L838.6 375.5L838.9 377L837.8 378.9L831 377.1L828.8 378.3L828 380L829.5 381.6L834 381.6L835.2 382.3L835.5 383.3L833.8 386L837 389.2L837.8 389.1L840.2 384.5L842.3 384L843.8 382.2L845.1 383L843 384.7L842.3 391.3L840 391.7L837.8 390.8L836.3 393ZM840 396.7L839.7 396.5L840.8 395.5L842.1 395.7L842.6 396.5L840.8 397.2ZM855.7 397.3L854.5 396.5L855.1 395.7L857.2 395.3L858 395.7L858.4 396.5L857.2 397.9ZM875.2 436.5L874.3 435.4L874.1 433.2L874.5 430.9L876.7 429.4L876 428.6L875.5 426.5L877.1 423.5L876.1 419L877 417.5L881.2 416.3L881.8 416.7L881 422.7L879 424L878.6 426.5L879 428.1L881.1 429.4L879 430.9L878.3 436.2L876.7 436.8ZM846.8 366.6L846.8 364.3L847.5 363.4L848.3 363.6L849 364.3L849.2 366.5L847.5 367ZM753.9 362.1L749.3 356.8L750.1 355.3L753 353.8L752.9 352.3L751.8 350L754.6 346.8L756.2 347.8L756.7 350L755.8 353.8L753.7 355.3L753.7 356.8L757.6 357.6L761.1 359.8L757.6 362.4ZM658.7 428.2L658.1 426.5L658.7 425L659.5 426.5ZM681.2 421.2L680.9 419.7L682 417.5L682.7 419.7L682 421.6ZM683.5 432.5L682.6 431.7L682.7 429.4L685 427.6L688.3 428L689.6 429.4L689.4 430.2L686.5 431.5L685 432.9ZM684.2 440.9L683.5 439.2L683.6 437.7L684.2 437.1L689.5 438L691 439.2L691 440.1L689.5 441.1ZM726.9 414.7L724.7 413.6L724.2 413L724.7 411.9L727.7 411.6L729.3 412.2L729.8 413L728.4 414.9ZM737.4 413.3L736.7 413L738.1 409.4L738.6 413ZM741.1 441.2L740 439.9L740.5 439.2L741.9 439L742.6 439.9ZM745.6 436.3L745.2 436.2L746.4 435.4L747.9 433.1L748.7 436.2L747.9 436.6ZM771.8 357.6L768.1 356L769.2 353L763.2 350L764.4 347.8L765.9 347.2L767.4 347.1L771.1 347.9L774.1 347.6L775.6 344.8L775.6 341.5L772.3 340.3L771.8 336.6L769.6 332.8L768.7 329.8L764.8 326.8L764.7 326.1L765.5 325.3L768.1 324.4L769.6 324.6L770.3 327.2L772.6 328.8L772.6 335L776.4 335.8L777.5 336.6L776.4 338.1L776.1 340.3L778.7 341L779.6 342.5L778.6 346.9L777.8 347.5L775.6 347.8L774.5 350.8L772.7 353L775.6 355.5L776 356.8L774.8 358.1ZM777.1 447.6L776.1 446.7L776 445.9L777.8 444.7L778.5 446.7L777.8 447.8ZM780.1 443.8L779.2 442.9L780.7 436.9L781.6 436.3L783.8 436.7L784.2 442.9L782.3 443.8ZM790.6 451.5L787.6 449.9L784.6 450.7L783.4 450.4L783.1 449.7L785.4 448.2L786.8 444.9L789.1 444.6L791.8 448.9L791.5 451.2ZM791.3 437.2L789.5 435.4L788.3 435L784.6 435.6L783.5 429.4L784.6 429.2L790.6 432.9L791.3 432.8L792.8 429.4L792.1 425.7L793.6 424.3L796.2 423.5L797.3 420.3L798.1 419.6L798.9 423.5L796.6 434.1L795.8 435.1L792.1 436.1ZM801.1 329.3L794.3 325.9L791.3 323.6L790.6 322L787.6 321.3L786 320.1L785.9 319.3L787.6 318.5L791 318.6L792.1 320.1L795.1 321.4L796.1 324.6L797.3 325.3L801.1 322.4L805.6 323.7L806 326.1L804.8 328.7L804.1 329.2ZM807.1 333.6L806.9 332.8L807.8 332.1L809.1 332.8L809 333.6L807.8 334.3ZM810.8 329.1L809.4 327.6L808.1 323.8L807.2 323.1L811.5 321.4L812.9 322.3L814.1 326.1L813 328.2ZM814.5 398.1L812.8 396.5L814.5 395.2L816.2 396.5L815.3 398ZM817.5 366.6L816.7 365.8L816.7 363.5L817.5 361.6L818.7 363.5L818.3 365.8ZM826.5 360.6L825.2 359.8L828.1 356.8L826.5 354.8L825.6 351.5L823.9 350L823.1 348.5L817.5 347.1L814.5 347.1L813.7 346.3L814.5 344.8L816 343.7L817.5 340.5L819 343.7L824.3 346.3L826.7 343.3L826.8 339.5L826.2 336.6L827.3 335.8L829.4 338.1L831.9 338.8L832.7 340.3L832.2 344L829.5 345.9L828.4 349.3L829.7 354.5L831.4 356L831.5 356.8L829.9 358.3L829.2 359.8ZM837 357.1L835.5 354.8L833.3 353.5L833 353L834 351.6L837.8 352.6L840.1 356L839.8 356.8ZM843.8 371.1L842.8 369.5L843.8 368.4L844.5 368.4L845.2 370.3L844.5 371.2ZM760.6 354.6L759.9 353L760.4 351.5L761.4 350.7L763 350.8L762.9 354L761.4 355ZM675.2 390.8L674.1 389.7L674.1 389L674.3 387.5L675.2 387L676.9 388.2L677.6 389.7ZM688.7 424.3L688.1 423.5L688.7 422.3L691.7 422.7L691.4 423.5ZM747.1 426.7L747.9 425.4L749.4 426.5L747.9 427.1ZM767.4 343.6L767.4 342.9L768.1 342.3L770.8 342.5L768.1 344ZM777.8 331.4L773.8 326.8L773.7 326.1L777.1 323.9L780.8 324.1L782.3 325.8L782.5 326.8L778.8 329.8ZM777.8 372.5L777.1 369.5L777.8 369.2L778.6 369.5L778.8 370.3ZM783.8 363.7L782.8 362.8L784.6 361.1L785 362.8L784.6 363.8ZM787.6 350.1L787 349.3L787.6 347.9L788.3 349.3ZM793.6 341.3L791.7 339.5L793 336.6L792.5 333.6L792.8 332.2L794.4 331.3L798.1 331.2L800.3 331.6L801 332.8L800.7 334.3L796.7 335.8L796.3 336.6L796.5 340.3L795.1 341.4ZM813 338.4L811.5 337.2L811.5 335.7L813.8 334.4L816 334.8L816.5 336.6L816 338.1L814.5 338.7ZM777.8 300.4L777.4 299.8L780.1 298.6L780.8 296.2L781.8 296.1L782.3 296.7L781.8 299.8ZM780.8 321L779.7 320.1L780.1 316.3L778.8 313.3L779.3 311.9L780.8 311.2L782.3 311.6L783.1 312.5L783.8 316.3L781.9 320.1ZM783.8 354.9L783.1 353L783.8 351.8L784.6 351.7L785.3 353L784.6 354.9ZM787.6 331.4L786 329.8L787.6 328.7L788.3 328.8L789.7 329.8ZM781.6 351L780.4 350L780.8 349L781.9 349.3L782.5 350ZM784.6 343.4L783.7 340.3L781.6 339.3L780.3 337.3L778.8 336.6L784.6 335.6L785.3 336.4L784.6 339.5L785.2 342.5ZM915.1 472.9L930.7 472.9L929.1 471.5L928.6 469.9L929.3 464.7L929.9 463.8L935.4 463.2L935.8 462.4L935.5 461.7L930.6 459.1L929.3 459.4L928.6 462.4L927.8 463.2L923.9 462.2L922.6 462.4L922.3 463.2L924.7 464.9L925.4 469.9L924.7 472.2L923.2 472.6L916.4 472.4ZM939.5 472.2L940.2 472.9L943.7 472.9L942.4 469.9L943.4 468.5L947.1 469.1L952.1 466.2L950.1 465L947.1 465.4L945.6 464.9L944.5 463.9L943.4 461.7L938.9 462.5L938.1 463.2L940.4 464.9L941 466.2L938.5 469.2ZM949.1 472.9L951.6 472.9L950.1 471.2ZM958.5 472.2L959.7 472.9L964.2 472.9L964.2 471.4L960.6 468.6L956.1 466.6L954.9 467.7L954.6 469.9L956.1 471.4ZM964.2 469.9L964.4 470.6L966.6 470.6L966.6 462L965.1 464.2ZM668.1 467.7L669.2 468L670.4 467.7L670.9 466.9L670.7 465.6L668.5 464.9L667.4 465.4L666.8 466.2ZM657.9 466.2L661.7 466.8L662.2 466.2L661.7 465L658.7 465.5ZM913.3 464.7L914.2 464.6L915.6 463.2L914.9 462.4L913.1 462.4L912.8 463.2ZM893.7 463.9L896.2 463.7L896.2 460.9L895.4 460.2L893.9 460L893.4 460.9L893 463.2ZM958.7 460.9L962.9 460.8L964.4 460.2L965.1 459.1L966.6 458.7L966.6 450.3L965.6 451.2L964.2 457.9L963.6 458.4L959.9 456.8L957.3 459.4L957.6 460.3ZM899.1 460.2L902.2 459.4L902.7 457.9L903 456.4L900.7 453.6L899.9 453.7L897.5 456.4L897.1 459.4ZM920.1 460.2L923 456.4L922.4 455.7L917.9 454.5L917.2 452.4L913.4 453.7L912.8 455.7L913.4 457.5L917.2 456.5ZM950.1 460.2L953 459.4L951.7 458.7L951.1 456.4L950.1 455.6L949.2 456.4L949.5 459.4ZM660.7 457.9L662.5 458.5L666.2 456.9L667.4 454.2L668.5 453.4L668.5 452L665.5 451.8L664 453.2L660.5 454.2L659.8 456.4ZM889.2 455.7L890.2 455.9L891.1 454.2L891.2 452.7L890.2 452.1L888.7 452.7L888.3 453.4L888.5 454.9ZM906.2 455.7L906.7 456.3L908.5 454.2L911.4 452.7L908.2 451.4L906.7 451.5L906 452.7ZM943.2 454.9L944.4 453.4L944.1 452L940.4 447.5L939.6 447.7L939.1 449.7L939.4 450.4L941.7 451.9ZM926.6 453.4L930.6 453.6L931.9 452.7L926.9 452.1L926.4 452.7ZM918.2 451.2L920.2 451.5L921.7 450.9L922.8 449.7L922.4 447.9L920.9 447.2L917.9 447.3L917.7 449.7ZM955.9 450.4L956.9 450.5L957.6 449.8L957.3 448.9L956.1 448.8L954.8 449.7ZM965.2 448.9L966.6 449L966.6 443.4L964.4 444.2L963.6 445.9L962.6 442.9L966.6 442.6L966.6 438.3L964.6 436.9L963.6 434.8L962.9 434.6L962.3 435.4L961.4 441.2L959.9 441.9L957.7 441.4L956.9 440.6L953.1 441.5L952 440.7L951.5 439.2L950.1 437.9L945.5 437.7L945.1 434.7L945.6 434.1L948.2 433.2L948.4 430.2L947.9 429.5L946.4 429.6L945.8 430.2L944.9 433.4L941.9 434L941.5 434.7L941.9 437.4L944.1 438.8L946.4 441.6L950.9 443.3L956.9 443.5L957.9 444.4L959.1 447.5L961.4 447.8L963.6 447.2L963.8 448.2ZM903.1 446.7L905.4 446.7L906.9 445.9L903.7 445.5L902.4 445.9ZM914.1 446.7L917.4 446.7L917.3 442.9L916.3 442.9L915.7 444.6L913.5 445.9ZM924.7 446.7L926.9 447.4L928.9 446.7L929.1 445.9L926.9 445L924.9 445.9ZM893.8 443.7L894.4 442.9L893.9 442.4L892.6 442.9ZM936.4 443.7L937.4 444.2L939.3 442.9L936.6 440.8L936.2 442.2ZM920 440.7L921.4 439.9L921.4 439.2L920.2 433.8L919.1 434.7L918.5 436.2ZM926.2 440.7L926.9 441.1L928 439.9L926.9 438.4L925.5 439.9ZM932.7 439.9L933.6 440.5L935.9 439.9L933.6 438L932.6 439.2ZM955.8 434.7L956.9 435.1L959.1 433.5L959.5 432.4L959.1 431.7L957.6 431.1L956.1 431.4L955.3 433.2ZM865.5 433.9L867.7 434.5L870 433.2L869.7 428L868.5 426.6L866.2 426.8L864.5 428.7L864.7 432.4ZM911 433.9L914.2 434.5L915.7 433.9L917.2 432.1L920.9 432.3L921.7 431.2L921.6 428.7L921.2 428L920.2 427.6L914.4 428.7L911 432.4L910.6 433.2ZM934.2 433.2L936.6 433.8L941.1 433.2L936.6 430.4L934.6 431.7ZM961.6 431.7L963.6 431.9L966.6 430.3L966.6 427.8L962.9 427.1L962.1 426.5L961.9 422.7L959.4 422L958.5 422.7L958.8 426.5ZM929.8 428.7L930.6 428.7L931.3 428L932.9 424.5L933.6 424.1L936.6 424.4L938.1 423.5L937.4 422.1L933.6 421.6L932.7 420.5L932.5 419L934.7 413L933.6 411.1L932.4 410.7L932.1 409.2L930.6 408.3L929.9 408.6L929.4 410L929.9 410.8L932.1 411.4L932.1 413.2L929.1 415.6L927.4 419.7L926.6 423.5L922.5 426.5ZM948.8 428.7L950.1 429.3L953.1 428.5L954.4 426.5L954.1 425.7L950.1 424.4L948.7 426.5ZM942.7 427.2L943.6 427.2L943.4 425.3L939.8 425.7L939.6 426.5ZM896.1 422L896.9 422.7L898.9 419.7L898.4 418.9L896.9 418.3L894.7 419.1L894.2 419.7ZM942.1 421.2L943.4 421.7L944.1 421.2L945.6 419.7L945.6 419L944.9 417.8L942.1 416.7L942.2 416L944.4 414.5L944.7 411.5L944.1 410.2L942.6 409.4L941.3 407.7L940.8 406.2L940.9 404.7L941.9 403.6L945.6 402.7L947.1 402.7L950.1 403.9L950.9 403.5L951.3 402.5L950.1 399.5L950.1 397.6L950.9 398.6L954.1 398.7L955.4 399.5L955.9 403.2L955.6 406.2L954.6 407.4L947.4 409.2L950.1 411.5L954.2 411.5L955.4 413L954.6 415.6L951.6 417.3L948.8 418.2L948.2 419.7L950.1 421.2L953.1 420.2L956.9 421.2L958.4 418.5L959.9 417.7L962.9 419.1L963.6 419L964.5 414.5L966.6 413.2L966.6 412.4L962.9 412.5L959.9 414.9L958.6 413.7L958.6 412.2L960.6 410L960.9 406.2L962.7 403.2L962.1 402L958.6 399.5L961.2 398L962.1 396.5L959.9 392.1L958 392.7L957.6 396.7L956.9 398L956.1 397.3L955.4 392.6L953.1 392.3L951.3 394.2L950.1 396.4L949.1 395L947.9 390.3L947.1 389.5L946.4 389.7L944.3 392.7L945 396.5L943.8 401.7L941.9 401.5L940.8 399.5L942.1 396.5L941 390.5L941 388.2L941.4 387.5L943.9 386.7L944.2 385.2L944.9 384.7L947.6 385.2L949.4 388.5L953.9 388.1L955.8 389L956.9 390.5L957.5 386.7L956.9 383.3L953.9 385L952.4 384.6L951.2 383L950.4 380L950.6 378.5L951.8 376.3L953.1 375.6L955.4 377.6L956.9 378.2L960.6 377.2L961.8 374.8L962.3 369.5L962.9 368.9L964.5 371L966.6 371.8L966.6 366.4L965.9 366L963.6 365.4L961.4 366L957.5 369.5L957.8 373.3L956.9 374.2L955.5 373.3L954.6 370.2L947.9 368.8L945.6 367.4L945 365.8L944.1 365.1L939.6 364.5L936.6 362L929.2 362.8L932.5 364.3L933.1 367.3L934.4 369.5L934.2 371.8L933.3 373.3L933.6 374L938.3 372.5L939.1 369.5L940.4 368.1L944.1 368.3L944.9 368.6L945.2 369.5L944.9 371.7L942.6 372.1L941 373.3L942.3 376.3L943.4 377.1L947.1 377.4L949.2 379.3L948.8 380L946.4 380.8L944.9 382.2L944.2 383L944.1 384.5L940.8 386L938.9 389L936.5 389.7L935.9 394.2L932.9 395.2L931.9 396.5L934.4 398.2L935.4 399.5L936 403.2L935.4 404.7L933.5 406.2L933.6 406.6L937.4 408.2L939.4 417.5L941.1 420.5ZM946.4 374.9L945.4 373.3L945.6 372L947.1 372.2L947.7 373.3L947.1 374.7ZM912.6 420.5L913.4 420.9L915.2 419.7L913.4 418.1L912.2 419L911.9 419.7ZM920.1 407L921.4 401L922.9 399.5L919.9 399.5L919.4 403.2ZM869.9 404L870.7 404.5L873.8 403.2L870.7 402L870 402.5ZM926.8 403.2L927.7 402.5L928.6 399.5L928.1 395.7L927.6 395L926 394.2L925.7 392.7L926.9 391.6L929.9 393.9L930.5 393.5L931.2 389.7L930.7 387.5L929.9 386.6L926.2 387.3L923.9 385.9L920.2 385.5L918.7 388.9L914.8 389.7L917.2 390.3L920.2 389.9L923.9 388L924.3 389.7L922.4 390.8L922 392.7L923.2 394.6L925.3 395.7L924.7 398L923.4 399.5L925.3 401ZM965.5 400.2L966.6 400.9L966.6 384.6L964 386L966.4 389.7L964.4 396.5ZM707.4 396.5L708.2 397.2L709.2 396.5L708.9 394.8L708.2 394ZM747.4 384.5L747.9 385L748.6 384.8L749.1 383.7L749.1 383L747.9 382.1L747 383ZM933.4 383.7L937.4 384.2L938.9 383.7L939.3 383L935.9 377.3L933.6 376.8L929.9 379.2L926.3 379.3L926 380L926.9 381L929.9 381ZM878.8 383L880.5 383.6L882.1 380L882 379.3L880.5 378.1L879.4 379.3ZM919.6 380.8L921.7 380.3L922.4 379.3L918.7 375.3L917.2 374.6L916.4 374.9L915.2 376.3L915.7 377.7ZM965 380.8L966.6 381.5L966.6 376.9L963.8 379.3L963.7 380ZM922.5 374L923.2 374.6L923.9 374.3L925.4 368.5L927.6 367.3L926.9 364.2L925.4 364.9L924.7 366.8L921.8 369.5ZM910.4 373.3L912 369.5L910.4 368.2L907.9 369.5ZM903.5 372.5L903.7 372.9L905.3 370.3L905.2 369.5L903.1 369.5ZM930.5 371.8L932.5 371L932.2 368L927.7 368L928.1 370.3ZM737.7 371L738.1 371.5L739.1 369.5L740.1 363.5L738.1 360.4L737 369.5ZM661.7 367.3L663.3 366.5L662.5 365.4L661.7 365.3L660.9 366.5ZM956 365L959.1 364.8L963.6 359.4L966.6 360.7L966.6 355.2L964.7 353L966.6 350.6L966.6 343.2L964.4 342.2L959.9 342.4L958.4 343.8L955.2 344.8L954.4 347L953.1 348.1L950.1 345.7L949.5 346.3L948.9 350L946.4 350.9L945 350L943.4 347.1L940.4 345.4L936.6 345.8L933.6 347.7L930.9 342.5L926.9 339.2L925.1 340.3L924.3 342.5L924.7 344.3L927.8 346.3L928.5 349.3L932 351.5L932.9 354.6L935.5 357.5L936.6 358.1L937.4 357.8L939 356.8L940.4 354.9L940.5 356L943.4 360L946.4 361.4L950.1 361.3ZM962.1 348.3L961 347L961 344.8L962.1 343.9L964.7 344L965.3 346.3L964.7 347.8L963.6 348.5ZM936.6 354.2L935.7 353L937.5 350.8L938.2 348.5L939.6 347.4L941.1 347.4L941.6 347.8L942.1 350.8L943.9 352.3L943.9 353.8L943.4 354.4L941.1 354.3L940.7 353L939.6 352.8L938.9 354ZM953.1 356.4L952.7 353L953.1 352.2L953.9 353L953.6 356ZM919.6 363.5L922.4 363L922.4 361.6L919.4 360.8L918.7 358.9L914.9 358.7L914.2 358.1L914 359.8ZM922.9 360.5L923.2 360.8L924.3 359L925 356.8L923.9 353.8L919.4 355.9L919 356.8L919.4 358.8L922.8 359.8ZM873.3 358.3L873.7 358.4L875 356.8L875 356L873.7 354.7L872.6 356ZM733.9 356.8L735.9 356.8L736.1 355.3L734.4 355.2L733.5 356ZM870.2 353.8L871.3 353.8L871.9 353L870.7 351.7L868.8 353ZM923.8 352.3L925 350.8L925.3 349.3L921.7 346L920.2 345.5L919.3 346.3L920.1 350ZM863.6 351.5L864.7 351L866.4 347.8L868.3 346.3L868.7 344.8L870.5 343.3L869 341L868.3 332.8L867 332L862.5 331.8L861.6 330.6L861.7 328.5L863.2 327L869.9 326.8L870.7 326.1L864 325.5L862.8 322.3L861 320.9L860.2 321L858.7 323.1L859.9 328.3L859.9 332.1L858.9 333.6L859.2 336.6L860.2 337.6L863.2 338.8L866.9 343.3L862.8 344.8L861.1 346.3L860.5 347.8L860 349.3L860.5 350ZM911.3 350L913.4 350.3L913.7 349.3L913.4 348.8L911.8 349.3ZM857.1 347L858 347L858.7 346.3L857.2 345.3L856.6 346.3ZM705.1 346.3L706.3 344.8L707.3 341.8L708.2 341.2L711.2 344.9L711.9 345L714.2 343.7L714.6 342.5L713.1 339.5L708.2 338.5L705.2 340.4L704 340.3L702.9 339.4L701.1 339.5L701.6 340.3L703.7 340.6L704.1 344ZM946.3 344L947.9 343.3L947.9 341.8L951.6 341.5L952.3 341L953.1 337.5L954.9 338.1L955.5 340.3L956.9 341L958.6 340.3L958.4 338.1L953.9 335.9L951.6 337.2L948.6 337.5L948.1 338.1L947.9 341.7L946.4 342L945.5 343.3ZM730.9 341.8L731.4 342.3L732.1 341.8L733.9 339.5L731.7 336.6L731.7 335.8L734.4 332.7L731.4 332.2L730.8 332.8L731.1 336.6L730.3 339.5ZM939.1 341L940.4 341.8L941.6 340.3L942.3 337.3L947.1 336.9L948.6 334.6L950.2 333.6L950.1 332.6L947.9 331.4L946.9 329.8L948.7 326.8L948.6 325.3L947.9 324.4L946.4 324.2L945.6 324.8L942.7 329.1L942.6 330.6L943.4 331.6L944.9 332.2L945.1 333.6L942.5 335.1L941.1 337L938.9 337.7L938.5 339.5ZM916.4 340.3L917.2 340.5L918.1 339.5L917.2 338.8L916.4 338.9L915.9 339.5ZM661.4 339.5L661.7 340L662.6 339.5L663.5 336.6L663 332.8L664.1 329.8L663.8 329.1L661.7 327.7L658.7 328.2L657.7 326.8L655 326L652 328.6L652 330.4L653.8 332.8L654.4 336.6L655 337.1L656.2 336.6L657.3 332.8L658.7 330.4L660.7 332.8ZM839.5 338.8L840.8 339.3L841.9 338.8L842.5 336.6L842.3 334.6L839.3 333.6L838 331.3L837 331L836.4 331.3L836.5 334.3ZM691.6 338.1L692.4 337.9L693.2 336.6L691.7 334.8L688.7 335.2L688 335.8L688.7 337ZM846.8 338.1L847.5 338.6L852 337L856.5 333.9L857.1 332.8L854.2 331L853.5 331L852.3 332.1L851.2 334.5L847.5 334.2L846.8 334.6L846.4 336.6ZM669.6 337.3L671.5 338L673 337.8L674.1 336.6L673.9 335.8L672.2 333.6L671.5 333.7L668.9 336.6ZM738.1 337.3L739.9 336.6L739.6 335.4L738.1 335.2L737.1 335.8L736.9 336.6ZM911.1 337.3L913.4 337.8L914.6 337.3L914.9 336.6L914.2 335.5L911.2 334.4L910.4 331.8L909.7 333.6L910.3 336.6ZM933.5 335.8L936.6 336.5L937.4 335.8L938 333.6L937.1 332.8L933.6 332.3L932.7 333.6ZM959.4 335.8L963.6 334.5L964.2 333.6L963.6 331.7L961.4 330.8L959.9 329.4L958.1 329.8L957.6 332.8L958.2 335.1ZM698.4 334.3L701.3 332.8L699.2 332L696.2 332.2L696.3 333.6ZM919.7 333.6L920.2 333.9L921.3 332.8L920.2 331.9L919.3 332.8ZM738 329.8L739.6 328.3L740.7 326.1L739.6 324.6L738.1 324.2L737.4 324.6L736.8 326.1L737 328.3ZM910 327.6L910.4 328L911.4 326.1L909.9 326.1L909.5 326.8ZM730.9 326.8L731.4 327.2L732.4 324.6L734 323.1L731.4 321.4L730.7 323.1ZM749.6 326.8L751.6 327.3L752.6 323.1L752.4 322.1L748.6 321.7L747.5 320.8L747.3 319.3L749.3 316.3L748.6 314.2L747.9 313.7L744.9 315.4L741.9 314.7L740.4 315.2L738.8 320.1L742.6 323.3L747.1 324.1ZM923.2 326.8L923.9 327.3L924.3 326.8L925.6 323.1L923.9 321.8L923.2 321.8L922.5 323.1ZM929.4 325.3L929.9 325.6L933.6 323.7L936.6 325.4L937.4 325.3L940.2 323.1L939.3 321.6L937.4 320.6L933.6 321.9L930.6 320.9L928.1 323.1ZM872.5 324.6L873.7 324.9L874.5 322.7L873.7 322.3L871.7 323.1ZM903.6 324.6L905.8 323.1L906 320.8L907 319.3L905.2 318.5L904.4 316.3L903.7 316L903.3 319.3L902 320.8L901.7 323.1ZM959.5 323.8L962.9 323.8L965.4 323.1L964.4 322.2L958.4 321.6L957.9 323.1ZM956.3 320.8L956.9 321.5L957.6 321.3L958.2 319.3L963.6 317.3L966.6 320.3L966.6 314.6L963.6 315L958.4 313.8L956.9 311.6L953.9 312.3L953.8 313.3L955.1 314.1L955.9 315.6ZM729.9 318.6L731.4 319.2L734.4 318.1L735.2 316.3L734.4 314.5L731.4 313.8L729.9 314.6L729 316.3ZM930.5 318.6L933.6 317.8L935.9 315.9L940.4 314.3L941 312.6L940.5 309.6L936.6 309.9L935 311.1L932.7 314.1L926.9 315.5L925.6 316.3ZM686.7 317.8L688.7 318.5L689.9 317.8L690.7 316.3L688.7 314.6L686.8 314.8L685.8 316.3ZM694.5 317.8L695.4 318.3L697.6 316.3L697.9 313.3L695.4 310.6L694.7 311L694.2 313.3L693.9 316.3ZM893 317.8L894.7 317.7L895.4 316.6L895.4 315.6L893.9 314.9L892.4 315.5L891.9 316.3ZM879.9 317.1L880.5 317.2L881.5 316.3L880.5 315.9L879.3 316.3ZM912.9 317.1L914.2 317.8L915.3 316.3L913.4 315.7L912.5 316.3ZM872.7 316.3L875.1 316.3L873.7 315.2ZM895.9 314.1L896.9 314.6L897.7 314.3L898.9 313.3L898.7 312.6L896.9 312.1L895.8 313.3ZM910.1 314.1L911 313.3L910.6 309.6L912 308.1L913.4 307.5L916.4 307.3L920.2 308.6L922 306.6L921.7 304.2L915.7 304.9L913.4 304.4L912.1 302.8L911 298.3L909.7 296.8L909.9 296.1L913.4 294.5L914.3 293.1L904.4 293.1L900.7 295.3L898.4 294.6L896.9 293.2L893.9 294L890.9 293.8L889.9 293.1L885 293.1L886.5 294.6L888.4 295.3L890.2 297.8L896.9 298.2L899.2 299.1L899.8 299.8L897.8 302.8L899.2 307.7L900.7 310.5L903.7 310.7L905.2 309.6L902.9 307.8L901.1 302.8L901.4 302.3L903.7 301.6L906.7 301.8L907.5 302.8L908.5 307.3L909.8 309.6L909 312.6L909.1 313.3ZM820.2 311.1L821.3 311.2L821.8 310.3L822.1 309.6L821.3 308.1L817.9 309.6ZM847.2 310.3L848.3 310.4L849.2 309.6L848.9 306.6L847.5 305.5L846.4 306.6ZM872.6 310.3L873.7 311L874.4 309.6L873.7 309L872.2 309.2L871.6 309.6ZM929.9 310.3L932.1 308.1L935.1 307.3L935.8 306.6L933.6 305.4L929.9 305.8L928.6 309.6ZM813 309.6L814.5 310.3L817.2 309.6L814.5 309.2ZM950 308.8L952.4 308.1L953 306.6L951.1 301.3L950.1 300.9L948.8 302.1L948.3 303.6L948.6 306.9ZM794.3 308.1L796.2 306.6L795.8 305.7L794.3 305.3L793.4 306.6ZM807.8 307.3L809.3 305.5L815.3 303L817.5 300.1L821.7 302.8L822.8 304.4L824.3 305L827.3 305.6L832.1 303.6L833.3 302.8L833.2 302.1L831 301.8L829.7 299.8L830.3 297.9L831.6 296.8L833.2 293.1L829.2 293.1L828 294.4L826.5 294.9L826.1 296.8L824.3 299.5L821.3 298.2L817.5 299.7L814.5 298.6L812.3 298.8L811.5 300L809.1 301.3L807.8 304.2L804.3 306.6ZM882.6 307.3L884.2 307.6L885.3 306.6L882 305.4L880.5 302.8L879.7 303.1L879.8 306.6ZM888.7 307.3L890.2 307.8L891.7 306.6L891.7 303.6L890.7 302.1L887.2 300.5L886.5 301.9L886.5 304.5ZM962.4 305.8L963.6 305.8L965.9 303.6L966 302.1L965.1 300.9L959.9 300.8L956.9 301.8L955.8 302.8L956.1 304.7L956.9 305.3L959.9 305.1ZM798.5 305.1L800.3 305.7L802.6 305.6L803.2 304.3L802.8 302.1L801.1 301.5L797.9 302.8L797.6 303.6ZM922.3 303.6L923.2 304L924 303.6L924.4 302.8L923.5 299.8L925.4 298.1L930.6 298.4L940.4 303.2L941.5 302.1L942.1 298.3L942.6 297.6L950.9 298L951.8 297.6L952.1 296.1L950.1 293.6L943.4 293.6L940.4 296.6L938.1 295.4L936.8 293.1L930.3 293.1L923.9 295.5L920.2 294.7L919.3 296.1L920 298.3L922.9 299.8ZM866.6 302.8L867.7 303L872.4 301.3L873.4 299.8L873 298.3L870.7 296.9L867 298.4L866.1 299.8ZM876.4 302.1L878.2 302.2L878.6 301.3L878.4 298.3L877.5 297.6L875.3 298.3L874.4 299.8ZM965.9 299.1L966.6 299.4L966.6 293.1L961.5 293.1L962.6 297.6ZM955.5 296.8L956.9 297L957 296.1L956.1 295.8L955.5 296.1ZM857.4 296.1L863.2 296.1L862.9 293.1L858.5 293.1L858.4 295.3ZM853.9 295.3L854.2 295.8L854.9 295.3L855.2 293.1L852.9 293.1ZM823.4 293.8L824.3 294.5L825.8 294.4L826.3 293.1L822.9 293.1ZM865.7 293.8L867 294.6L868.5 294.4L870 293.1L865.4 293.1Z"/>
<path fill="#111e4f" fill-rule="evenodd" d="M701.3 472.9L702.8 472.9L702.3 469.2L701.4 468.3L700.5 469.9ZM750.6 470.7L751.6 471.4L752.4 470L751.6 468.4L750.9 468.4L750.1 469.2ZM747.1 466.2L747.9 466.8L748.7 466.2L747.9 464.4ZM717.5 463.2L718.7 463.7L719.3 463.2L719.3 462.4L717.9 461.7ZM833.9 461.7L834 462.1L834.5 461.7L834.9 460.2L834 458.8L833.6 459.4ZM713.7 460.2L715.7 460.4L716.4 459.4L714.9 458.1L712.9 459.4ZM744.1 456.4L745.3 456.4L744.9 455ZM786.2 456.4L787.6 457L788.6 456.4L788.6 455.7L787.6 454.5L786.3 455.7ZM868.3 456.4L870.7 457.1L873.1 456.4L874.5 454.8L875 452.7L873.7 451.8L870.7 451.4ZM777.2 453.4L778.1 453.4L777.8 451.8L776.8 452.7ZM766.9 450.4L768.1 450.6L768.6 449.7L768.1 449L766.6 449.2L765.8 449.7ZM793.9 450.4L794.3 451L795.1 450.5L795.6 449.7L795.2 448.9L794 448.9L793.6 449.7ZM819.8 449.7L821.3 450.1L822.7 449.7L821.3 448.8ZM859.6 449.7L860.2 450.3L861.4 449.7L860.2 449ZM720.7 444.4L721.7 445L722.4 444.6L724.7 441.6L728.7 439.9L726.9 438.2L725.4 435L724.7 434.8L722.1 436.2L719.9 442.9ZM670.5 443.7L672.2 444.1L673.5 442.9L671.5 442.2L669.2 442.6L668.3 442.9ZM714.6 443.7L716 442.9L714.9 442.3L714 442.9ZM845.2 441.4L847.5 442.1L848 441.4L848.4 439.2L847.5 437.7L843.8 439.9ZM661.5 439.9L662.5 439.9L663.2 439.2L661.7 438.6ZM774.7 438.4L776.3 437.9L776.8 436.2L775.6 434.1L774.1 433.7L772.6 434.5L771.9 436.2L773.2 437.7ZM730.8 437.7L731.4 438.2L733 436.9L734.4 433.1L738.1 437.3L741.1 437.2L742.7 436.2L740.4 429.4L737.4 427.6L736.6 426.5L737.4 424.6L741.1 424.4L744.9 426.2L747.9 423.9L750.7 425L752.2 426.5L752.9 429.4L752.6 430.2L751.4 430.2L749.4 428.7L745.6 428.2L744.9 427.2L743.6 429.4L745.6 430.6L749.4 431.3L750.7 433.9L751.6 434.4L752.9 433.2L753.2 430.9L754.6 430.4L757.6 427.7L759.1 428L761.4 430.5L764.4 430.8L765.5 430.2L765.9 429.4L765.4 428L763.1 426.5L766.6 423.5L765.7 419.7L766.6 419.3L768.1 419.1L769 419.7L768.4 425.7L768.9 427.1L771.1 428.4L772.9 428L774.2 426.5L774.3 422.7L775.6 419.7L771.6 416.7L771.5 416L772.6 415L776.2 415.2L777.8 418L780.8 418.4L786.1 417L787.6 415.4L789.3 417.5L792.1 418.4L794.3 420.7L795 419.7L794.7 416.7L792.8 415.1L791.4 413L790 412.2L789.1 406.9L787.6 406.5L786.8 407L785.4 410.7L784.6 411.4L783.6 410.7L783.1 409.2L784.6 404.9L788.3 405.9L791.3 405.1L792.1 406.2L794.3 407.1L795.3 400.2L798.4 398.7L799.8 393.5L799.2 392L796.2 390.5L795.7 389.7L796 389L799.9 387.5L801.1 385.8L804.1 387.1L805.4 386.7L805.1 383L803.5 380L803.7 376.3L802.3 373.3L802 370.3L801.1 369.9L799.9 371L798.1 371.7L794.3 370.7L788.3 370.9L787.1 371.8L786.8 373.6L789.2 374.8L790.6 377.8L791.6 377.8L793.2 374.8L794.3 374.3L795.8 374.9L796.9 376.3L797.1 378.5L797.9 379.3L797.3 379.9L796.6 378.6L794.3 378.6L792.1 380.4L790.6 380.6L788.3 378.8L786.8 378.5L785.7 374.8L784.6 374.5L783.1 375.4L782.5 376.3L782.7 377.8L783.8 378.8L785.5 379.3L785.7 380L785.1 383L780.7 386L780.5 386.7L783.6 389.7L783.1 390L778.6 391.2L775.6 393L771.1 392.7L768.1 393.7L767.1 392.7L768.9 391.5L769.3 389.7L768.9 388L768.1 387.3L764.4 388.5L762.3 391.2L759.3 392.7L759.4 394.2L760.6 396.5L759.8 397.2L758.8 401L757 402.5L756.8 404L757.6 405L761.4 406.4L763.1 409.2L763.3 411.5L765.7 413L764.4 414L762.9 411.9L759.7 412.2L759.1 413L759.4 416L758.4 417.6L757.6 417.1L756.7 414.5L754.6 413.7L753 415.2L751.6 419.5L749.8 416L747.1 414.4L746.4 413.2L747.1 411.8L750.9 410L751.6 410L752.6 411.5L754.6 412.5L756.9 412.1L758.1 410.7L758.2 409.2L756.9 407.3L750 403.2L750.1 402.3L752.4 400.2L752.7 399.5L751.6 399L748.9 399.5L747.9 400.9L747.4 403.2L748.7 406.2L748.2 407L741.9 411.2L740.3 413.7L738.1 416L736.6 418.7L735.4 419.7L736.2 422.7L735.9 423.8L734.4 424.1L732.9 423.6L732.1 422.1L730.6 420.9L729.8 418.2L721.7 417.6L720.9 416.7L720.2 413.5L718.7 413.1L717.3 413.7L716.5 415.2L716.5 416.7L717.9 417.8L720.3 418.2L721.1 421.2L728.4 423.2L731.9 425.7L731.4 427.1L727.7 427.9L726.6 429.4L727.7 432.6L729.9 434.4ZM753.1 425.1L752.4 423.5L753 421.2L757.6 420.3L758.1 422.7L757.6 424.2L755.4 425.2ZM768.1 401.2L766.4 399.5L767.4 398.6L768.1 398.5L768.9 399.5ZM783.1 401.2L781 399.5L783.1 397L784.6 396.3L786 399.5L785.8 400.2L784.6 401.6ZM787.6 392.8L785.4 389.7L787.6 388.5L788.6 389.7ZM791.3 401.8L790.7 399.5L791.3 397.7L793.3 399.5ZM704.3 436.9L705.2 437.5L706.8 436.2L705.2 434.2L704.1 436.2ZM833.7 436.9L834.7 436.9L835.3 436.2L834.8 434.7L834 434.6L833.6 435.4L833.3 436.2ZM668 433.2L668.5 433.8L669.2 433.2L668.5 431.1ZM835.9 433.2L837 433.9L838.3 433.2L837 432.6ZM661.7 431.7L663.1 429.4L661.7 428.1L660.9 429.4ZM708.1 431.7L712.1 430.2L714.2 425.3L719.5 422.7L714.9 421.4L712.7 421.7L711.9 423.5L708.1 426.5L707.3 429.4ZM776.9 430.2L777.8 430.9L778.7 429.4L777.8 422.8L776.3 423.3L775.6 425.2L775.5 426.5ZM817.4 430.2L818.8 429.4L817.5 428.3L817 429.4ZM654.9 429.4L655.8 429.4L655.8 426.5L655 425.6L653.2 426.5L654.2 427.3ZM721.4 427.2L721.7 427.7L723.4 426.5L723.2 425.3L721.7 424.7ZM684.1 423.5L685 424.2L685.7 423.6L686.6 421.2L688 419.7L687.8 418.2L686.1 416L687.9 414.5L698.4 414.8L701.4 417.3L702.5 416.7L702.2 414.3L700.7 412.8L698.4 412L691.7 411.4L688 412.7L685 411.9L683.1 406.2L684.2 404L684.2 402.5L680.9 395.7L679.4 394.2L675.2 393.9L672.2 394.6L668.5 394.1L666.2 391.7L664.7 391.3L662.6 392.7L661.7 396.2L660.2 394.7L653.8 393.5L652.8 392.7L654.2 389.7L652 389.5L652 420.8L658.7 421.2L661.7 416.9L663.1 417.5L664.1 420.5L664.7 421L666.2 421L667.8 419.7L666.2 416.7L666.2 415.8L672.2 411.5L675.3 413L673.7 413.8L672.7 415.2L672.4 416L672.9 417.5L674.5 418.8L678.2 420.7L679.2 419.7L678.8 416L682 412.4L684.1 413L684.9 416L683.9 422.7ZM674.5 407.2L673.8 406.2L675.2 405.3L676.5 406.2L675.2 407.7ZM786.2 423.5L787.6 424.1L788.3 423.7L788.9 422.7L788.3 421.4L787.6 420.9L785.9 422.7ZM873.6 423.5L873.7 423.8L874.3 423.5L874.6 422.7L873.7 421.4ZM705 422.7L706.5 419.7L705.2 418.4L704 419L703.7 419.7ZM711.8 420.5L712.4 416L711.9 415L711.2 414.7L709.3 416ZM800 413.7L801.1 414.2L804.1 413L801.1 411L799.4 413ZM710.5 411.5L711.9 411.9L712.8 411.5L714.8 410L714.5 409.2L711.9 408.3L709.7 409.1L709.1 410ZM727.6 407.7L728.4 408.2L728.8 406.2L728.4 406L727.2 406.2ZM863.2 404L864 404.7L864.3 404L864 401.7L862.1 402.5L862 403.2ZM806.1 403.2L808.2 403.2L808.2 402.5L807.1 402.4ZM832.8 397.2L834 397.9L835.3 396.5L834 395.5L831.8 395.7L831.4 396.5ZM806.3 389.7L807.8 390.2L808.6 389.8L808.3 388.2L807.8 387.8L806.6 388.2ZM810 386.7L810.8 387L811.3 386L811.7 380L810.8 379.8L810 380L810.4 383L809.7 386ZM767.1 385.2L768.1 385.8L769.6 384.7L769.9 383L768.9 381.7L766.6 381.8L765.6 383ZM850.4 385.2L851.3 383L850.5 382.8L849.7 383ZM761 384.5L762.1 384.4L763.5 383L762.9 382L761.4 381.3L759.9 383ZM777.7 384.5L778.6 383L777.8 381.5L776.6 383ZM817 383L817.9 383L818.8 380.8L820.6 380L820.5 378.9L817.5 377.7L816 378.5L815.4 379.3ZM823.3 383L824.3 383.6L825.1 383L824.3 381.9ZM850.4 376.3L851.3 373.3L850.5 372.5ZM810.8 374L812.9 373.3L811.4 369.5L811.8 366.5L814.6 362.8L811.5 359L807.8 358.2L806.6 356.8L806.4 356L809.3 354.8L810.6 353L809.8 349.3L807.8 348.4L806 350L805.7 355.3L801.9 356L803 361.3L803.6 362L804.8 362L807.8 360.2L809.4 361.3L809.9 362.8L809.5 364.3L806.2 365.8L805.7 366.5L809.3 367.8L810.4 368.8L810.5 370.3L809.2 373.3ZM770.6 371L771.8 371.3L772.7 370.3L772.8 369.5L771.1 368.1L769.9 369.5ZM750.5 370.3L751.6 371L753.8 370.3L754.5 369.5L751.6 367.8L750.5 368.8ZM816.6 370.3L817.5 370.7L819.3 369.5L817.5 368.8L816.1 369.5ZM830.8 370.3L833.3 369.5L831.8 368.1L831 366.3L830.4 369.5ZM787 368L788.3 368.3L789.8 366.5L790 362.8L788.3 361.5L787.1 362L785.5 366.5ZM856.8 363.5L857.2 363.9L858.3 362.8L857.2 361.9L856.6 362.8ZM796.7 360.5L798.1 360.7L798.8 359.8L798.1 359L796.8 359L795.6 359.8ZM820.3 359.8L820.5 360.2L821.3 359.7L823.2 356.8L823.2 355.3L822.5 354.5L820.5 354.4L818.6 356L819 358.2ZM788.5 356.8L791.3 357.3L792.4 356L791.3 355.3L788.3 355.4L787.9 356ZM794.2 354.5L798.1 353.3L800.3 353.7L801.1 354.6L801.3 353L799.4 352.3L798.1 349L797.3 349.1L796.3 351.5L793.1 353ZM947 353.8L948.7 353L946.4 352.7L946 353ZM793.9 346.3L794.3 346.7L795.2 346.3L794.8 343.3L792.6 343.3L793.6 344ZM767.5 337.3L768.1 337.7L768.9 336.6L768.1 335.1L767.1 335.8ZM827 333.6L828.7 333.6L829.1 332.8L827.3 332.3L826.7 332.8ZM714.8 323.8L717.1 323.1L714.9 322.5L714.3 323.1ZM806.9 320.8L807.8 321L809.3 320.1L809.4 319.3L807.8 318.7L806.1 319.3L805.8 320.1ZM678.2 307.3L679.2 306.6L679 305.3L678.2 305L677.7 306.6ZM738.1 304.3L739.2 303.6L739.1 302.8L738.1 302.5ZM690.7 303.6L691.7 303.7L692.6 302.8L691.7 301.3L689.5 302.8ZM714.3 303.6L714.9 304.1L715.8 302.8L714.9 302.3L714.2 302.8ZM746.3 303.6L747.9 304.3L749.4 302.8L747.9 301.4L745.7 302.8ZM701.1 299.8L702.2 300.6L703.3 299.8L701.4 299ZM843.6 294.6L844.5 294.5L845.2 293.1L842 293.1Z"/>
</g>
<clipPath id="c20"><rect x="240.8" y="508.9" width="314.6" height="179.8"/></clipPath>
<g clip-path="url(#c20)">
<rect x="240.8" y="508.9" width="314.6" height="179.8" fill="#19240f"/>
<path fill="#2b4211" fill-rule="evenodd" d="M240.8 688.7L555.4 688.7L555.4 508.9L240.8 508.9L240.8 570.7L243.8 570.9L246 571.5L247.7 572.6L248.3 574.1L248 575.6L246 577.7L240.8 580.3ZM350.2 592.2L345.7 590.3L341.2 587.4L336.1 583.1L333.1 579.3L330.6 574.8L329.1 569.6L329.2 565.8L330.8 563.6L332.9 562.8L335.2 562.8L340.4 564.6L346.4 568.8L351.7 574.8L353.9 578.6L355.5 582.3L356.5 586.1L356.7 589.1L356.2 590.9L354.7 592.3L352.4 592.6Z"/>
<path fill="#7a6723" fill-rule="evenodd" d="M240.8 688.7L555.4 688.7L555.4 508.9L240.8 508.9L240.8 565.4L247.6 565.1L254.3 565.9L257.3 566.8L259.5 568.1L260.2 568.8L260.7 570.3L260 572.6L258.5 574.8L253.6 579.3L248.3 582.3L240.8 584.9ZM367.4 609.4L362.1 607.6L354.7 603.5L344.9 597.1L335.9 589.8L331.4 585.4L328.4 581.6L320.9 568.9L315.7 563.6L307.9 557.6L307.7 556.1L308.3 555.3L312 553.7L317.2 552.7L322.4 552.6L328.4 553.5L335 555.3L339.7 557.4L344.9 560.6L349.4 564.3L355 570.3L359.7 577.1L363.3 583.8L370.2 598.8L371.8 604L371.8 607L371.1 608.5L370.4 609.1Z"/>
<path fill="#cf8c57" fill-rule="evenodd" d="M240.8 688.7L555.4 688.7L555.4 508.9L240.8 508.9L240.8 560.6L259.5 558.3L264.8 556.7L282 550L294 546.8L304.3 544.9L311.2 544.2L318.7 544.4L325.4 545.5L332.9 547.7L341.2 551.4L347.9 555.8L354.7 561.8L360.9 568.8L367.5 578.6L379 598.8L382.1 606.3L383.2 613L382.9 616.8L381.9 619.8L380.1 622L378.6 622.8L376.4 622.9L372.6 622L363.6 617.5L350.9 609L335.2 595.7L326.2 586.5L318 575L316.5 573.5L311.2 569.8L306.7 568.4L301.5 568.1L295.5 568.6L288 569.9L282 571.5L266.3 577.5L251.3 585.1L240.8 588.4Z"/>
<path fill="#ecd8c7" fill-rule="evenodd" d="M240.8 688.7L555.4 688.7L555.4 599.5L552.4 597.9L549.4 595.7L546.7 592.8L544.5 589.8L542.6 586.1L541.3 582.3L540.4 574.8L540.7 570.3L541.6 566.6L543 562.8L544.7 559.8L546.9 556.8L549.4 554.3L552.4 552.1L555.4 550.5L555.4 508.9L240.8 508.9L240.8 553.5L256.5 549.8L275.3 542.3L284.2 539.3L293.2 536.9L301.5 535.3L310.5 534.6L318.7 534.9L326.9 536.4L335.9 539.3L344.9 543.6L353.2 549.4L362.8 558.3L369.8 566.6L377.7 578.6L387.1 595.8L390.3 604.8L391.2 613L390.4 619.8L388 627.3L386.8 629.5L384.6 631.5L382.4 632.5L379.4 632.6L367.4 628.5L357.7 623.1L347.9 615.8L335.2 603.4L313.5 579.9L309.6 577.1L306 575.7L301.5 575.4L295.5 575.7L288.7 576.6L282.7 577.9L270.8 581.4L252 588.5L240.8 591.8Z"/>
<path fill="#e2dbc3" fill-rule="evenodd" d="M240.8 688.7L474.2 688.7L476 685.2L483.5 674.7L485.9 672.2L509.2 659.5L538.2 644.9L543.4 641.8L545.3 640L545.8 637.8L544.9 635.5L535.2 622L533.7 619.3L523.2 590.2L522.2 586.1L523.1 583.1L534.2 562.1L536.9 557.6L541.9 552.1L546.4 548.1L550.9 545.1L555.4 543.1L555.4 511.8L439.3 511.9L435.6 512.2L432.6 513.8L428.1 517.5L417.6 528.5L415.4 531.4L413.9 534.4L407.6 553.9L403.2 568.8L399.1 586.1L398.1 596.6L399.2 607.8L399.2 612.3L398.7 616.8L397.7 621.3L395.6 626.5L391.9 633.3L388.4 636.6L383.9 638.6L378.6 639L365.9 636.8L363.6 637.1L357.7 638.7L353.9 638.7L342.7 636.8L335.9 635.2L332.9 634L331.9 633.3L331.4 631.8L334 625.8L335.1 620.5L334.2 615.3L332.2 610.8L324.2 600.3L318 593.6L311.2 588L307.5 585.6L304.5 584.2L299.2 583.4L293.2 583.2L287.2 583.5L280.5 584.4L268.5 587.3L240.8 595.8Z"/>
<path fill="#86a994" fill-rule="evenodd" d="M426.4 674.5L428.1 674.7L437.1 672.7L443 671L449.8 668.2L456.5 664.5L462.5 660.2L468.9 654.2L473.2 649L477.8 641.5L485.3 624.3L490.1 609.3L495.1 595.8L497.5 586.1L498.4 577.8L498 569.6L494.8 553.1L493.2 551.1L491 550.7L489.5 551.2L474.5 563.4L467.8 569.9L462.9 575.6L457.9 582.3L445.9 601.8L441.9 610L438.7 618.3L428.1 658.7L424.6 670L424.3 671.5L424.7 673ZM240.8 647.5L240.8 648.2L253.5 646.5L268.5 643.4L275.3 641.1L282.7 638L308.2 624.5L319.5 624.2L323.9 623.3L326.9 621.3L328.4 619L328.9 616L328.3 613L326.1 609.3L321.9 603.3L315 595.7L311.2 592.7L306.7 590L303 588.3L299.5 587.6L289.5 586.9L277.5 588.2L267.4 590.6L240.8 598.4Z"/>
<path fill="#277679" fill-rule="evenodd" d="M442.3 656.5L445.3 657L448.3 656.4L452.8 654.5L457.3 651.6L461.2 648.2L464.8 644.3L467.8 640L470.7 634.8L474.5 626.5L477 619.8L484.3 593.6L485.1 587.6L484.9 582.3L483.6 578.6L482 577.1L479.7 577L476.8 578.2L473 580.9L468.5 585.1L464 590.3L458.8 597.5L453.9 604.8L450.2 611.5L447.8 616.8L445.8 622.8L440.8 645.2L440.3 652.7L440.9 655ZM240.8 642.3L257.3 639.6L269.3 636.4L278.3 632.8L293.2 625.6L306.7 618L316.2 616L318 614.8L318.8 613L318.8 610.8L317.9 607.8L315.9 604L313.6 601L310.6 598.1L307.5 595.7L303.9 593.6L300.7 592.3L292.5 590.9L283.5 591L274.5 592.2L266.3 594.3L240.8 601.6Z"/>
<path fill="#0d3b61" fill-rule="evenodd" d="M240.8 637.8L240.8 638.3L252 636.6L265.5 633.4L276 629.3L292.5 621.3L299.7 616.8L305.6 611.5L307 609.3L307.5 607.8L307.5 605.5L306.7 603.3L303.8 599.5L301.5 597.8L298.9 596.6L292.5 594.9L285 594.5L278.3 595L270.8 596.5L240.8 604.8ZM453.4 637L454.3 637.6L455.8 637.6L457.3 637.1L459.5 635.4L463.3 630.8L467 623.6L469.2 616.8L470 610.8L469.5 606.3L468.7 604.8L467.8 604.3L465.5 604.7L461.8 607.7L458 612.3L455 617.6L453.2 622.8L452.1 628.8L452.2 634Z"/>
<path fill="#111e4f" fill-rule="evenodd" d="M240.8 634L240.8 634.5L248.3 633.4L261 630.8L269.6 628L279.5 623.5L290.7 617.5L295.6 613.8L297.5 611.5L298.6 609.3L299 607L298.4 604.8L295.9 601.8L291.7 599.8L286.5 598.8L280.5 598.7L275.3 599.3L268.5 600.7L240.8 608.4Z"/>
</g>
<clipPath id="c21"><rect x="652" y="508.9" width="314.6" height="179.8"/></clipPath>
<g clip-path="url(#c21)">
<rect x="652" y="508.9" width="314.6" height="179.8" fill="#19260f"/>
<path fill="#283d12" fill-rule="evenodd" d="M652 688.7L966.6 688.7L966.6 508.9L652 508.9ZM706.7 595.8L702.2 595.2L696.9 593.5L691.7 591.2L685.5 587.6L680.8 583.8L677.5 580.1L676.4 577.1L676.9 574.8L678.2 573.3L681.2 571.8L685 571L689.5 570.8L693.9 571.4L698.4 572.6L702 574.1L705.2 576.1L708.9 579.2L711.5 582.3L713.4 586L714.1 589.1L713.7 592.1L712.1 594.3L709.7 595.5Z"/>
<path fill="#646222" fill-rule="evenodd" d="M652 688.7L966.6 688.7L966.6 508.9L652 508.9L652 554.8L693.2 562.9L699.9 564.9L705.9 567.6L710.4 570.3L714.2 573.1L717.6 576.3L720.8 580.1L723.4 583.8L725.7 588.3L726.9 592L727.2 595.1L727 597.3L726.2 599.5L724.4 601.8L722.4 603.2L720.2 603.9L717.2 604.1L710.4 603.2L703.2 601L694 597.3L686.2 593.6L669.2 584.3L652 577.2Z"/>
<path fill="#a8782f" fill-rule="evenodd" d="M652 688.7L966.6 688.7L966.6 508.9L652 508.9L652 548.4L676 553L693.9 556.9L702.9 559.8L710.8 563.6L715.7 566.8L720.2 570.5L724.5 574.8L728.2 579.3L731.7 584.6L734 589.1L735.3 593.6L735.7 597.3L735.4 600.3L734.3 603.3L732.8 605.5L730.6 607.5L727.7 609.1L724.7 609.9L722.4 610L718.7 609.6L709.7 607.2L701.5 604L688.3 598.1L669.2 588.6L652 581.9ZM902.2 602.6L899.9 601.9L897.7 600.6L893.2 595.8L888.7 588.1L884.2 577.8L879.9 562.8L876.4 553.1L875.5 549.4L875.5 546.4L876.1 544.1L877.5 542.4L879.7 541.2L882.7 540.8L886.5 541.4L890.9 543.2L894.7 545.6L897.7 548.2L900.7 551.7L903 555.3L905.4 560.6L907.4 567.2L910.3 579.3L911.1 586.1L911 591.3L910 596.6L908.2 600L906.7 601.4L905.2 602.2Z"/>
<path fill="#d9a47a" fill-rule="evenodd" d="M652 688.7L966.6 688.7L966.6 508.9L652 508.9L652 542.8L659.5 544.4L677.5 547.1L693.9 550.8L705.2 554.4L714.2 558.8L720.2 562.8L725.4 567.3L730.5 572.6L734.6 577.8L738 583.1L740.1 587.6L741.6 592.8L742.1 597.3L741.8 601L740.7 604.8L739 607.8L736.9 610L733.7 612.3L730.6 613.6L726.9 614.4L723.2 614.7L716.4 612.9L705.9 609.1L669.2 591.8L652 585.4ZM905.9 624.3L900.7 622.3L895.4 618.4L890 612.3L885 604.5L881.1 596.6L875.9 583.1L871.6 568.1L870.1 564.3L864.3 555.3L850 535.9L847.9 532.1L847.4 529.9L847.7 527.6L849.3 525.4L851.5 523.9L854.2 522.8L858 521.9L865.5 521.7L874.5 523.4L883.5 526.7L892.4 531.4L900.7 537.5L906.7 543.7L911.2 550.6L915.1 559.8L920.6 579.3L922.5 591.3L922.5 601.8L921.9 607L920.8 611.5L919.4 615.3L917.2 619.3L914.9 621.8L911.9 623.7L908.9 624.5Z"/>
<path fill="#f0dfd3" fill-rule="evenodd" d="M652 688.7L966.6 688.7L966.6 508.9L652 508.9L652 536.1L659.5 537.7L679 539.9L694.7 543.2L702.2 545.3L708.2 547.5L718.7 552.8L724.7 556.9L730.6 562L735.7 567.3L740.3 573.3L743.7 578.6L746 583.8L747.3 589.1L747.7 594.3L747.3 599.5L746.1 604.8L744.3 608.5L741.9 611.6L738.1 614.6L733.6 616.9L728.4 618.3L723.2 618.8L716.4 616.5L705.2 611.8L670 595.1L660.4 591.3L652 588.6ZM907.4 637.8L904.4 637.2L900.7 635.6L893.9 631.2L887.6 625L881.4 616.8L876.5 608.5L871.9 598.1L866.7 583.8L862.6 568.8L858.7 563.2L851.2 554.1L842.4 544.9L833.5 538.1L829.5 535.7L825.8 534.1L811.8 529.9L811.1 529.1L811.4 528.4L826.5 519.1L831 517L837.8 514.5L844.5 512.6L850.5 511.3L857.2 510.7L863.2 510.8L869.2 511.7L875.2 513.2L881.2 515.3L888.7 518.8L895.4 522.7L901.4 526.8L907 531.4L911.5 535.9L915.6 541.1L918.8 546.4L922 553.1L924.4 559.8L928.6 574.1L930.8 583.8L932 593.6L932.1 602.5L931.3 610.8L929.7 618.3L927.5 624.3L924.5 629.5L920.9 633.5L916.4 636.5L911.9 637.8Z"/>
<path fill="#ebe5d4" fill-rule="evenodd" d="M735.6 688.7L872.6 688.7L873.4 684.2L876.7 673.7L877 670L876.3 667.7L871.8 658L864.1 642.3L855.6 602.5L848.6 574.1L846.6 568.1L845.3 565.4L843.8 564.2L841.5 563.9L837 564.4L835.2 563.6L830.6 555.3L827.3 550.9L822.8 546.3L817.5 542.7L813 540.7L808.6 539.5L804.1 539.4L798.8 540.1L793.6 541.7L788.3 544.2L783.1 547.5L778.2 551.6L773.8 556.1L769 562.1L761.4 574.3L758.1 582.3L751.7 603.3L748.1 610.8L744.9 614.5L741.1 617.6L737.4 619.8L732.1 622L724.7 623.5L723.2 623.5L720.9 622.8L704.8 615.3L686.5 605.9L672.2 599.2L661 594.8L652 592.1L652 664.1L671.5 665.7L688.1 667.7L722.4 680.6L733.3 686.5L735.1 687.9ZM962.4 644.5L966.6 644.6L966.6 601.8L962.1 601.8L959.9 602.3L957.7 604L957 606.3L956.9 640L957.3 641.5L958.4 643.2L959.9 644.1ZM698.8 528.4L717.2 528.9L724.7 528.3L754.6 528.4L759.1 528L762.1 526.2L772.2 516.4L777 511.1L778.1 508.9L652 508.9L652 527.6L660.2 528.1L678.2 528.3L685.7 528Z"/>
<path fill="#a5bea1" fill-rule="evenodd" d="M734.2 664L744.1 664.5L755.4 663L766.6 659.9L777.1 655.5L785.3 651L792.8 645.4L801.4 637L808.6 628L815 617.5L820.9 604.8L825.3 591.3L826.9 581.6L826.7 573.3L825.5 567.3L824.1 562.8L822.2 559.1L820.1 556.1L813.8 550.1L811.5 549.5L806.3 549.7L799.6 551.1L792.1 554.6L784.6 560.4L777.1 568.4L765.3 583.8L759.9 593.2L752 609.3L749.1 613.8L744.9 617.9L740.4 621.2L735.1 624.1L729.9 625.9L723.9 626.9L720.2 626L687.3 608.5L676.6 603.3L664.2 598.1L652 594.3L652 642L664.7 642.8L672.2 644.2L723.2 661.3Z"/>
<path fill="#58978c" fill-rule="evenodd" d="M740.3 657.2L748.6 657L757.6 655.5L766.6 652.8L775.6 649.1L783.1 645L789.8 640.1L795.8 634.6L801.5 628L806.9 619.8L811.8 610L815.9 598.8L818.2 589.1L818.8 580.8L817.8 573.3L816.8 570L815.3 566.9L813.4 564.3L811.5 562.6L809.3 561.3L807.1 560.6L804.1 560.4L801.1 560.8L795.1 563L788.3 567.4L780.8 574.5L770.3 586.9L762.1 598.7L753.6 613L750 617.5L744.9 622.3L738.1 627.1L732.9 629.8L726.9 631.8L723.2 632.2L719.4 631.3L691 613.8L681.5 608.5L665.5 601.2L658.5 598.8L652 597.1L652 637.2L664.7 637.9L673.5 639.3L696.2 645.5L729.9 655.5L735.1 656.7Z"/>
<path fill="#2a6f7f" fill-rule="evenodd" d="M745.6 649.7L751.6 649.9L759.1 649L766.6 647L774.1 644.1L780.5 640.8L786.1 637L791.3 632.5L796.1 627.3L801.1 620.1L805.2 612.3L808.4 604L810.6 595.8L811.4 589.1L811 583.1L809.3 578L806.3 574.3L803.3 572.7L799.6 572.1L795.8 572.6L791.3 574.6L786.8 577.6L782.3 581.6L777.1 587L771.1 594L763.6 604L753.9 618.9L737.9 635.5L734.6 640L734.2 643L734.8 644.5L735.9 646L739.5 648.2ZM688 637L697.7 637.4L700.7 636.9L702.9 635.7L703.9 634L703.7 631.8L702 628.8L699.3 625.8L689.8 617.5L679.1 610.8L665.1 604L658.7 601.8L652 600.1L652 633.3L670 634.2Z"/>
<path fill="#113d6b" fill-rule="evenodd" d="M757 640L760.6 640.7L765.1 640.4L771.1 638.9L776.3 637L780.8 634.5L785.3 631.4L789.1 628L792.8 623.7L796 619L798.8 613.8L801.2 607.8L802.7 601.8L803.3 596.6L803.1 592.1L801.8 588.4L799.6 585.8L796.6 584.4L793.6 584.3L790.6 585L786.8 586.9L783.1 589.6L778.6 593.6L768.9 604.6L763.1 613L754.8 627.3L753.1 631L752.5 634L753.1 636.7L754.6 638.7ZM652 628.8L652 629.5L656.5 629.4L672.2 629L678.2 628.5L680.5 627.9L682.8 626.5L683.7 625L683.7 622.8L682.8 620.5L680.3 617.5L672.1 611.5L666.7 608.5L661.7 606.4L652 603.5Z"/>
<path fill="#141d55" fill-rule="evenodd" d="M771.4 628L773.3 628.4L775.6 628.2L780.1 626.5L784.6 623.2L788.2 619L791 613.8L792.3 608.5L791.9 604L791.2 602.5L789.8 601.1L788.3 600.4L786.1 600.3L781.6 601.8L776.3 605.9L771.8 611.2L768.8 616.8L767.6 622L767.9 624.3L768.5 625.8L769.6 627ZM652 624.3L657.2 623.8L661.7 622.6L664.7 620.5L665.6 618.3L664.5 615.3L661.4 612.3L657.3 610L652 608.2Z"/>
</g>
<rect x="240.8" y="77" width="314.6" height="179.8" fill="none" stroke="#000" stroke-width="1.75" stroke-linejoin="miter"/>
<path d="M240.8 256.8V263.6M398.1 256.8V263.6M555.4 256.8V263.6M240.8 77H234M240.8 166.9H234M240.8 256.8H234" stroke="#000" stroke-width="1.75" fill="none"/>
<rect x="652" y="77" width="314.6" height="179.8" fill="none" stroke="#000" stroke-width="1.75" stroke-linejoin="miter"/>
<path d="M652 256.8V263.6M809.3 256.8V263.6M966.6 256.8V263.6M652 77H645.2M652 166.9H645.2M652 256.8H645.2" stroke="#000" stroke-width="1.75" fill="none"/>
<rect x="240.8" y="293.1" width="314.6" height="179.8" fill="none" stroke="#000" stroke-width="1.75" stroke-linejoin="miter"/>
<path d="M240.8 472.9V479.7M398.1 472.9V479.7M555.4 472.9V479.7M240.8 293.1H234M240.8 383H234M240.8 472.9H234" stroke="#000" stroke-width="1.75" fill="none"/>
<rect x="652" y="293.1" width="314.6" height="179.8" fill="none" stroke="#000" stroke-width="1.75" stroke-linejoin="miter"/>
<path d="M652 472.9V479.7M809.3 472.9V479.7M966.6 472.9V479.7M652 293.1H645.2M652 383H645.2M652 472.9H645.2" stroke="#000" stroke-width="1.75" fill="none"/>
<rect x="240.8" y="508.9" width="314.6" height="179.8" fill="none" stroke="#000" stroke-width="1.75" stroke-linejoin="miter"/>
<path d="M240.8 688.7V695.5M398.1 688.7V695.5M555.4 688.7V695.5M240.8 508.9H234M240.8 598.8H234M240.8 688.7H234" stroke="#000" stroke-width="1.75" fill="none"/>
<rect x="652" y="508.9" width="314.6" height="179.8" fill="none" stroke="#000" stroke-width="1.75" stroke-linejoin="miter"/>
<path d="M652 688.7V695.5M809.3 688.7V695.5M966.6 688.7V695.5M652 508.9H645.2M652 598.8H645.2M652 688.7H645.2" stroke="#000" stroke-width="1.75" fill="none"/>
<g transform="matrix(1.0125 0 0 1.1143 -0.77 -4.34)"><text x="52" y="40.5" text-anchor="start" style="font-size:54px">(a)</text></g>
<g transform="matrix(1.0678 0 0 1.1102 -68.84 -4.33)"><text x="1009" y="40.5" text-anchor="start" style="font-size:54px">(b)</text></g>
<g transform="matrix(1.1330 0 0 1.0000 -53.57 0.20)"><text x="398" y="65.9" text-anchor="middle" style="font-size:35px"><tspan style="font-style:italic">t</tspan> = 1.8</text></g>
<g transform="matrix(1.1341 0 0 1.0000 -108.38 0.20)"><text x="809" y="65.9" text-anchor="middle" style="font-size:35px"><tspan style="font-style:italic">t</tspan> = 5.3</text></g>
<g transform="matrix(1.0108 0 0 1.0619 -12.96 -3.14)"><text x="1186" y="53.9" text-anchor="start" style="font-size:30px">Reference</text></g>
<g transform="matrix(1.0348 0 0 1.0684 -50.14 -4.26)"><text x="1452.5" y="54.5" text-anchor="start" style="font-size:30px">PINN</text></g>
<g transform="matrix(1.0160 0 0 1.0842 -0.58 -11.48)"><text x="75.5" y="134.9" text-anchor="end" style="font-size:30px">3.00</text></g>
<g transform="matrix(1.0583 0 0 1.0842 -3.72 -23.25)"><text x="75.5" y="276" text-anchor="end" style="font-size:30px">1.50</text></g>
<g transform="matrix(1.0160 0 0 1.0842 -0.58 -35.02)"><text x="75.5" y="417.1" text-anchor="end" style="font-size:30px">0.00</text></g>
<g transform="matrix(0.9983 0 0 1.0842 0.72 -46.78)"><text x="75.5" y="558.2" text-anchor="end" style="font-size:30px">-1.50</text></g>
<g transform="matrix(0.9983 0 0 1.0842 0.72 -58.55)"><text x="75.5" y="699.3" text-anchor="end" style="font-size:30px">-3.00</text></g>
<g transform="matrix(0.9762 0 0 1.0208 3.28 -2.13)"><text x="146" y="166.9" text-anchor="middle" style="font-size:30px" transform="rotate(-90 146 166.9)">Reference</text></g>
<g transform="matrix(1.0150 0 0 0.8500 -1.73 24.30)"><text x="176.5" y="166.9" text-anchor="middle" style="font-size:30px;font-style:italic" transform="rotate(-90 176.5 166.9)">y</text></g>
<g transform="matrix(1.0833 0 0 1.0842 -17.95 -6.73)"><text x="226.5" y="87.3" text-anchor="end" style="font-size:30px">2</text></g>
<g transform="matrix(1.0833 0 0 1.0842 -17.95 -14.41)"><text x="226.5" y="177.2" text-anchor="end" style="font-size:30px">0</text></g>
<g transform="matrix(1.0833 0 0 1.0842 -18.45 -22.08)"><text x="226.5" y="267.1" text-anchor="end" style="font-size:30px">2</text></g>
<g transform="matrix(1.2643 0 0 1.0000 -55.27 2.80)"><text x="210" y="267.1" text-anchor="end" style="font-size:30px">−</text></g>
<g transform="matrix(0.9952 0 0 1.0693 1.90 -25.53)"><text x="146" y="383" text-anchor="middle" style="font-size:30px" transform="rotate(-90 146 383)">Reference + noise</text></g>
<g transform="matrix(1.0150 0 0 0.9067 -2.75 34.59)"><text x="176.5" y="383" text-anchor="middle" style="font-size:30px;font-style:italic" transform="rotate(-90 176.5 383)">y</text></g>
<g transform="matrix(1.0833 0 0 1.0842 -17.95 -24.82)"><text x="226.5" y="303.4" text-anchor="end" style="font-size:30px">2</text></g>
<g transform="matrix(1.0833 0 0 1.0842 -17.95 -32.49)"><text x="226.5" y="393.3" text-anchor="end" style="font-size:30px">0</text></g>
<g transform="matrix(1.0833 0 0 1.0842 -18.45 -40.17)"><text x="226.5" y="483.2" text-anchor="end" style="font-size:30px">2</text></g>
<g transform="matrix(1.2643 0 0 1.0000 -55.27 2.90)"><text x="210" y="483.2" text-anchor="end" style="font-size:30px">−</text></g>
<g transform="matrix(1.1000 0 0 1.0456 -14.70 -26.06)"><text x="146" y="598.8" text-anchor="middle" style="font-size:30px" transform="rotate(-90 146 598.8)">PINN</text></g>
<g transform="matrix(1.0150 0 0 0.8500 -1.73 89.00)"><text x="176.5" y="598.8" text-anchor="middle" style="font-size:30px;font-style:italic" transform="rotate(-90 176.5 598.8)">y</text></g>
<g transform="matrix(1.0833 0 0 1.0842 -17.95 -43.21)"><text x="226.5" y="519.2" text-anchor="end" style="font-size:30px">2</text></g>
<g transform="matrix(1.0833 0 0 1.0842 -17.95 -50.88)"><text x="226.5" y="609.1" text-anchor="end" style="font-size:30px">0</text></g>
<g transform="matrix(1.0833 0 0 1.0842 -18.45 -58.56)"><text x="226.5" y="699" text-anchor="end" style="font-size:30px">2</text></g>
<g transform="matrix(1.2643 0 0 1.0000 -55.27 2.70)"><text x="210" y="699" text-anchor="end" style="font-size:30px">−</text></g>
<g transform="matrix(1.0697 0 0 1.0842 -19.43 -61.08)"><text x="240.8" y="722.8" text-anchor="middle" style="font-size:30px">1.0</text></g>
<g transform="matrix(1.0056 0 0 1.0842 -3.11 -61.08)"><text x="398.1" y="722.8" text-anchor="middle" style="font-size:30px">4.5</text></g>
<g transform="matrix(1.0343 0 0 1.0842 -20.15 -61.08)"><text x="555.4" y="722.8" text-anchor="middle" style="font-size:30px">8.0</text></g>
<g transform="matrix(1.1231 0 0 1.0500 -48.62 -37.85)"><text x="398.1" y="757" text-anchor="middle" style="font-size:30px;font-style:italic">x</text></g>
<g transform="matrix(1.0382 0 0 1.0842 -27.87 -61.08)"><text x="652" y="722.8" text-anchor="middle" style="font-size:30px">1.0</text></g>
<g transform="matrix(1.0056 0 0 1.0842 -5.19 -61.08)"><text x="809.3" y="722.8" text-anchor="middle" style="font-size:30px">4.5</text></g>
<g transform="matrix(1.0343 0 0 1.0842 -34.04 -61.08)"><text x="966.6" y="722.8" text-anchor="middle" style="font-size:30px">8.0</text></g>
<g transform="matrix(1.0429 0 0 1.0500 -34.67 -37.85)"><text x="809.3" y="757" text-anchor="middle" style="font-size:30px;font-style:italic">x</text></g>
<g transform="matrix(0.9857 0 0 1.0789 15.24 -7.62)"><text x="1075.5" y="99.2" text-anchor="end" style="font-size:30px">0.1</text></g>
<g transform="matrix(1.0057 0 0 1.0789 -5.54 -13.85)"><text x="1075.5" y="178.2" text-anchor="end" style="font-size:30px">0.0</text></g>
<g transform="matrix(0.9800 0 0 1.0789 20.98 -20.09)"><text x="1075.5" y="257.2" text-anchor="end" style="font-size:30px">0.1</text></g>
<g transform="matrix(1.2857 0 0 1.0000 -295.41 2.80)"><text x="1037" y="257.2" text-anchor="end" style="font-size:30px">−</text></g>
<g transform="matrix(0.9947 0 0 0.9917 2.72 2.29)"><text x="1006" y="166.9" text-anchor="middle" transform="rotate(-90 1006 166.9)" style="font-size:30px"><tspan style="font-style:italic">a</tspan><tspan style="font-size:21px" dy="5">3</tspan></text></g>
<g transform="matrix(0.9857 0 0 1.0789 15.24 -25.38)"><text x="1075.5" y="318.8" text-anchor="end" style="font-size:30px">0.1</text></g>
<g transform="matrix(1.0057 0 0 1.0789 -5.54 -31.21)"><text x="1075.5" y="393.9" text-anchor="end" style="font-size:30px">0.0</text></g>
<g transform="matrix(0.9800 0 0 1.0789 20.98 -37.03)"><text x="1075.5" y="469" text-anchor="end" style="font-size:30px">0.1</text></g>
<g transform="matrix(1.2857 0 0 1.0000 -295.41 2.60)"><text x="1037" y="469" text-anchor="end" style="font-size:30px">−</text></g>
<g transform="matrix(0.9947 0 0 0.9917 2.72 4.19)"><text x="1006" y="383" text-anchor="middle" transform="rotate(-90 1006 383)" style="font-size:30px"><tspan style="font-style:italic">a</tspan><tspan style="font-size:21px" dy="5">5</tspan></text></g>
<g transform="matrix(0.9857 0 0 1.0789 15.24 -42.20)"><text x="1075.5" y="531.8" text-anchor="end" style="font-size:30px">0.1</text></g>
<g transform="matrix(1.0057 0 0 1.0789 -5.54 -48.56)"><text x="1075.5" y="609.6" text-anchor="end" style="font-size:30px">0.0</text></g>
<g transform="matrix(0.9800 0 0 1.0789 20.98 -53.84)"><text x="1075.5" y="687.4" text-anchor="end" style="font-size:30px">0.1</text></g>
<g transform="matrix(1.2857 0 0 1.0000 -295.41 3.00)"><text x="1037" y="687.4" text-anchor="end" style="font-size:30px">−</text></g>
<g transform="matrix(0.9947 0 0 1.0348 2.72 -19.52)"><text x="1006" y="598.8" text-anchor="middle" transform="rotate(-90 1006 598.8)" style="font-size:30px"><tspan style="font-style:italic">a</tspan><tspan style="font-size:21px" dy="5">7</tspan></text></g>
<g transform="matrix(1.0229 0 0 1.0842 -25.93 -61.08)"><text x="1090.4" y="722.8" text-anchor="middle" style="font-size:30px">0.0</text></g>
<g transform="matrix(1.0229 0 0 1.0842 -31.47 -61.08)"><text x="1328.3" y="722.8" text-anchor="middle" style="font-size:30px">3.5</text></g>
<g transform="matrix(1.0229 0 0 1.0842 -37.01 -61.08)"><text x="1566.2" y="722.8" text-anchor="middle" style="font-size:30px">7.0</text></g>
<g transform="matrix(1.3000 0 0 1.1529 -400.05 -115.68)"><text x="1328.3" y="757.1" text-anchor="middle" style="font-size:30px;font-style:italic">t</text></g>
<rect x="89" y="77.1" width="15" height="141.4" fill="#111e4f"/>
<rect x="89" y="218.2" width="15" height="47.3" fill="#0d3b61"/>
<rect x="89" y="265.2" width="15" height="47.3" fill="#277679"/>
<rect x="89" y="312.2" width="15" height="47.3" fill="#86a994"/>
<rect x="89" y="359.3" width="15" height="47.3" fill="#e2dbc3"/>
<rect x="89" y="406.3" width="15" height="47.3" fill="#ecd8c7"/>
<rect x="89" y="453.3" width="15" height="47.3" fill="#cf8c57"/>
<rect x="89" y="500.4" width="15" height="47.3" fill="#7a6723"/>
<rect x="89" y="547.4" width="15" height="47.3" fill="#2b4211"/>
<rect x="89" y="594.4" width="15" height="94.4" fill="#19240f"/>
<rect x="89" y="77" width="15" height="611.5" fill="none" stroke="#000" stroke-width="1.75"/>
<path d="M89 124.1H82.2M89 265.2H82.2M89 406.3H82.2M89 547.4H82.2M89 688.5H82.2" stroke="#000" stroke-width="1.75"/>
<clipPath id="b0"><rect x="1090.4" y="77" width="475.8" height="179.8"/></clipPath>
<g clip-path="url(#b0)">
<path d="M1090.4 83.5V256.8" stroke="#ffc0cb" stroke-width="3.6" stroke-dasharray="14.5 5.37" fill="none"/>
<path d="M1328.3 83.5V256.8" stroke="#ffc0cb" stroke-width="3.6" stroke-dasharray="14.5 5.37" fill="none"/>
<path d="M1566.2 83.5V256.8" stroke="#ffc0cb" stroke-width="3.6" stroke-dasharray="14.5 5.37" fill="none"/>
<path d="M1090.4 131L1097.2 106.8L1104 97L1110.8 93L1117.6 92L1124.4 94.6L1131.2 100.6L1138 109.3L1144.8 120L1151.6 133.4L1158.4 149.8L1165.2 166.9L1172 182.9L1178.8 198.6L1185.6 213.1L1192.4 226.6L1199.2 236.3L1206 240.8L1212.7 241.8L1219.5 240.4L1226.3 234.1L1233.1 224.2L1239.9 211.9L1246.7 196.6L1253.5 179.3L1260.3 162.3L1267.1 145.3L1273.9 129.5L1280.7 115.2L1287.5 103L1294.3 94.5L1301.1 88.7L1307.9 85.4L1314.7 85.4L1321.5 89L1328.3 95.5L1335.1 107.5L1341.9 121.3L1348.7 136L1355.5 150.7L1362.3 165.3L1369.1 179.8L1375.9 194L1382.7 208.1L1389.5 221.6L1396.3 233.4L1403.1 241.6L1409.9 246.4L1416.7 248.4L1423.5 247.7L1430.3 243.4L1437.1 235.2L1443.9 224.5L1450.6 211.5L1457.4 195.9L1464.2 179.7L1471 163.8L1477.8 148.1L1484.6 134L1491.4 121.2L1498.2 109.5L1505 99.8L1511.8 93.4L1518.6 92.2L1525.4 93.3L1532.2 99.2L1539 109.3L1545.8 121.6L1552.6 136.3L1559.4 153.1L1566.2 167.9" stroke="#1f77b4" stroke-width="2.8" fill="none" stroke-linejoin="round"/>
<path d="M1090.4 109.5L1097.2 102.3L1104 96.6L1110.8 94L1117.6 93.8L1124.4 95.8L1131.2 101.4L1138 109.8L1144.8 119.7L1151.6 130.7L1158.4 142.8L1165.2 155.4L1172 169.1L1178.8 183L1185.6 195.8L1192.4 207.4L1199.2 217L1206 223.4L1212.7 226.2L1219.5 225L1226.3 220.1L1233.1 212.4L1239.9 202.7L1246.7 191.4L1253.5 177.9L1260.3 163.9L1267.1 150.6L1273.9 137.7L1280.7 126.5L1287.5 116.9L1294.3 109.1L1301.1 103.8L1307.9 101L1314.7 101.1L1321.5 103.6L1328.3 108.7L1335.1 118L1341.9 130.5L1348.7 144.8L1355.5 159.8L1362.3 174.7L1369.1 189.6L1375.9 203.4L1382.7 215.6L1389.5 226.6L1396.3 236L1403.1 241.3L1409.9 244.1L1416.7 244.8L1423.5 243L1430.3 237.6L1437.1 228.2L1443.9 217L1450.6 204.6L1457.4 190.5L1464.2 175.5L1471 161.1L1477.8 147L1484.6 133.5L1491.4 121.8L1498.2 112.5L1505 106.1L1511.8 103.3L1518.6 103.2L1525.4 106.6L1532.2 113.6L1539 123.1L1545.8 135.9L1552.6 151.4L1559.4 167.9L1566.2 182.2" stroke="#ff7f0e" stroke-width="2.8" fill="none" stroke-linejoin="round" stroke-dasharray="17.8 4.45 2.8 4.45"/>
</g>
<rect x="1090.4" y="77" width="475.8" height="179.8" fill="none" stroke="#000" stroke-width="1.75" stroke-linejoin="miter"/>
<path d="M1090.4 256.8V263.6M1328.3 256.8V263.6M1566.2 256.8V263.6M1090.4 88.8H1083.6M1090.4 167.8H1083.6M1090.4 246.8H1083.6" stroke="#000" stroke-width="1.75" fill="none"/>
<clipPath id="b1"><rect x="1090.4" y="293.1" width="475.8" height="179.8"/></clipPath>
<g clip-path="url(#b1)">
<path d="M1090.4 299.6V472.9" stroke="#ffc0cb" stroke-width="3.6" stroke-dasharray="14.5 5.37" fill="none"/>
<path d="M1328.3 299.6V472.9" stroke="#ffc0cb" stroke-width="3.6" stroke-dasharray="14.5 5.37" fill="none"/>
<path d="M1566.2 299.6V472.9" stroke="#ffc0cb" stroke-width="3.6" stroke-dasharray="14.5 5.37" fill="none"/>
<path d="M1090.4 400.1L1097.2 356.3L1104 335.3L1110.8 321.4L1117.6 317.1L1124.4 319.1L1131.2 328.4L1138 343.1L1144.8 362.3L1151.6 382.8L1158.4 405.1L1165.2 425.4L1172 438.6L1178.8 447.1L1185.6 448.2L1192.4 443.2L1199.2 432.5L1206 415.8L1212.7 395.1L1219.5 373.3L1226.3 349.9L1233.1 329L1239.9 315.7L1246.7 309.5L1253.5 309L1260.3 315.2L1267.1 328.1L1273.9 345.9L1280.7 365.4L1287.5 387.3L1294.3 408.8L1301.1 428.5L1307.9 447.2L1314.7 463.4L1321.5 463.2L1328.3 453.2L1335.1 433.6L1341.9 410L1348.7 384.5L1355.5 360.2L1362.3 336.9L1369.1 317.7L1375.9 307.4L1382.7 301.1L1389.5 302.1L1396.3 310.9L1403.1 326.1L1409.9 345.2L1416.7 368.6L1423.5 393.1L1430.3 417L1437.1 439.3L1443.9 453.8L1450.6 462.5L1457.4 463.4L1464.2 456.4L1471 441.7L1477.8 423.3L1484.6 401L1491.4 378L1498.2 356.8L1505 337.3L1511.8 324.2L1518.6 318.2L1525.4 318.2L1532.2 326.8L1539 341.3L1545.8 359.4L1552.6 378.3L1559.4 397.6L1566.2 417.1" stroke="#1f77b4" stroke-width="2.8" fill="none" stroke-linejoin="round"/>
<path d="M1090.4 347.4L1097.2 339.7L1104 332.9L1110.8 327.6L1117.6 324.3L1124.4 324.9L1131.2 331L1138 341.2L1144.8 353.4L1151.6 367.5L1158.4 382.6L1165.2 396.1L1172 408L1178.8 417L1185.6 421.9L1192.4 421.7L1199.2 416.3L1206 404.8L1212.7 390.1L1219.5 376.1L1226.3 362L1233.1 349.7L1239.9 339.9L1246.7 332.4L1253.5 329.4L1260.3 330.2L1267.1 337.1L1273.9 348.5L1280.7 361.9L1287.5 377.2L1294.3 393.3L1301.1 409.5L1307.9 425.7L1314.7 436.6L1321.5 439L1328.3 435.6L1335.1 427.4L1341.9 411.6L1348.7 393.7L1355.5 374.9L1362.3 356.7L1369.1 343.2L1375.9 332.6L1382.7 324.1L1389.5 323L1396.3 326.3L1403.1 336.8L1409.9 349.5L1416.7 364.2L1423.5 381.9L1430.3 400L1437.1 416.1L1443.9 430.4L1450.6 439.4L1457.4 442.3L1464.2 439.2L1471 427.4L1477.8 412.8L1484.6 396.1L1491.4 377.9L1498.2 361.1L1505 345.7L1511.8 333.1L1518.6 327.4L1525.4 328.4L1532.2 335L1539 345.1L1545.8 360.2L1552.6 378.6L1559.4 400L1566.2 425.3" stroke="#ff7f0e" stroke-width="2.8" fill="none" stroke-linejoin="round" stroke-dasharray="17.8 4.45 2.8 4.45"/>
</g>
<rect x="1090.4" y="293.1" width="475.8" height="179.8" fill="none" stroke="#000" stroke-width="1.75" stroke-linejoin="miter"/>
<path d="M1090.4 472.9V479.7M1328.3 472.9V479.7M1566.2 472.9V479.7M1090.4 308.4H1083.6M1090.4 383.5H1083.6M1090.4 458.6H1083.6" stroke="#000" stroke-width="1.75" fill="none"/>
<clipPath id="b2"><rect x="1090.4" y="508.9" width="475.8" height="179.8"/></clipPath>
<g clip-path="url(#b2)">
<path d="M1090.4 515.4V688.7" stroke="#ffc0cb" stroke-width="3.6" stroke-dasharray="14.5 5.37" fill="none"/>
<path d="M1328.3 515.4V688.7" stroke="#ffc0cb" stroke-width="3.6" stroke-dasharray="14.5 5.37" fill="none"/>
<path d="M1566.2 515.4V688.7" stroke="#ffc0cb" stroke-width="3.6" stroke-dasharray="14.5 5.37" fill="none"/>
<path d="M1090.4 671.1L1097.2 663.7L1104 642.9L1110.8 616.4L1117.6 587.1L1124.4 556.7L1131.2 532.1L1138 526.3L1144.8 533.4L1151.6 552.8L1158.4 576.8L1165.2 606.5L1172 640.7L1178.8 663.5L1185.6 672.2L1192.4 667.9L1199.2 651.7L1206 626.6L1212.7 596L1219.5 561.2L1226.3 537.1L1233.1 525.7L1239.9 527.4L1246.7 544.3L1253.5 569.8L1260.3 599.2L1267.1 629.9L1273.9 658.9L1280.7 675.5L1287.5 679.7L1294.3 670.6L1301.1 645.1L1307.9 615.3L1314.7 584.5L1321.5 553.7L1328.3 528.6L1335.1 517.7L1341.9 520.3L1348.7 535.5L1355.5 560.6L1362.3 591.1L1369.1 625.6L1375.9 657.6L1382.7 675.9L1389.5 680L1396.3 670.8L1403.1 648.1L1409.9 616.2L1416.7 582.4L1423.5 551.7L1430.3 528.8L1437.1 517.3L1443.9 519.8L1450.6 537.6L1457.4 566.1L1464.2 596.7L1471 627L1477.8 654.5L1484.6 670.5L1491.4 673.9L1498.2 664.2L1505 641.7L1511.8 613.3L1518.6 582.7L1525.4 555.3L1532.2 533.8L1539 526.3L1545.8 531.5L1552.6 550.7L1559.4 579.5L1566.2 612.3" stroke="#1f77b4" stroke-width="2.8" fill="none" stroke-linejoin="round"/>
<path d="M1090.4 600.5L1097.2 597.4L1104 586.5L1110.8 573L1117.6 559L1124.4 545.9L1131.2 538.2L1138 537.1L1144.8 545.3L1151.6 560.7L1158.4 580.1L1165.2 602.5L1172 626.2L1178.8 644.2L1185.6 654.5L1192.4 650.9L1199.2 638.1L1206 618.5L1212.7 594.7L1219.5 572L1226.3 552.1L1233.1 541L1239.9 538.9L1246.7 544.8L1253.5 559.5L1260.3 577.9L1267.1 601L1273.9 623.2L1280.7 640.2L1287.5 648.2L1294.3 646L1301.1 634.4L1307.9 617.8L1314.7 598.4L1321.5 580.3L1328.3 563.8L1335.1 553.2L1341.9 552.3L1348.7 560.6L1355.5 577L1362.3 598.2L1369.1 619.2L1375.9 637.5L1382.7 647.7L1389.5 650.8L1396.3 645.4L1403.1 630.2L1409.9 610.9L1416.7 588.2L1423.5 569L1430.3 553.4L1437.1 545L1443.9 542.3L1450.6 547.1L1457.4 558.4L1464.2 575L1471 594L1477.8 615.3L1484.6 632L1491.4 640.1L1498.2 636.5L1505 623.4L1511.8 604L1518.6 581.5L1525.4 563.2L1532.2 548.4L1539 541.7L1545.8 542.4L1552.6 553.8L1559.4 571.2L1566.2 589" stroke="#ff7f0e" stroke-width="2.8" fill="none" stroke-linejoin="round" stroke-dasharray="17.8 4.45 2.8 4.45"/>
</g>
<rect x="1090.4" y="508.9" width="475.8" height="179.8" fill="none" stroke="#000" stroke-width="1.75" stroke-linejoin="miter"/>
<path d="M1090.4 688.7V695.5M1328.3 688.7V695.5M1566.2 688.7V695.5M1090.4 521.4H1083.6M1090.4 599.2H1083.6M1090.4 677H1083.6" stroke="#000" stroke-width="1.75" fill="none"/>
<path d="M1102.6 43.3H1162" stroke="#1f77b4" stroke-width="2.8" stroke-linecap="square"/>
<path d="M1369.2 43.2H1428.6" stroke="#ff7f0e" stroke-width="2.8" stroke-dasharray="17.8 4.45 2.8 4.45"/>
</svg>
</body></html>
